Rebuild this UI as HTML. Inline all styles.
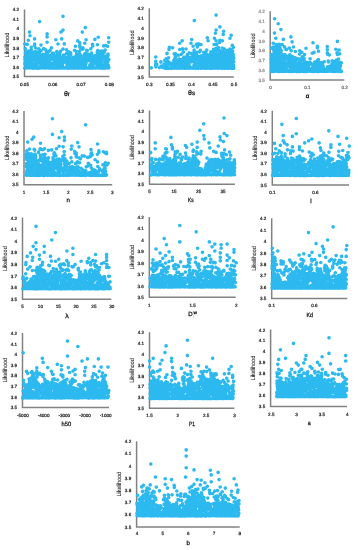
<!DOCTYPE html><html><head><meta charset="utf-8"><title>Likelihood scatter plots</title><style>html,body{margin:0;padding:0;background:#fff;overflow:hidden}svg{display:block}text{font-family:"Liberation Sans",sans-serif;text-rendering:geometricPrecision}</style></head><body><svg width="358" height="550" viewBox="0 0 358 550" font-family="'Liberation Sans', sans-serif"><rect width="100%" height="100%" fill="#fff"/><g><path d="M24.5 9.4V76.5H109.3" stroke="#828282" stroke-width="1.5" fill="none"/><g font-size="4.6" fill="#202020" stroke="#202020" stroke-width=".2" text-anchor="end"><text x="19.1" y="11.4">4.2</text><text x="19.1" y="20.9">4.1</text><text x="19.1" y="30.4">4</text><text x="19.1" y="40">3.9</text><text x="19.1" y="49.5">3.8</text><text x="19.1" y="59.1">3.7</text><text x="19.1" y="68.6">3.6</text><text x="19.1" y="78.2">3.5</text></g><g font-size="4.6" fill="#202020" stroke="#202020" stroke-width=".2" text-anchor="middle"><text x="24.5" y="85.7">0.05</text><text x="52.8" y="85.7">0.06</text><text x="81" y="85.7">0.07</text><text x="109.3" y="85.7">0.08</text></g><text x="66.9" y="95.6" text-anchor="middle" fill="#2a2a2a" stroke="#1a1a1a" stroke-width="0.28" font-size="6.1"><tspan font-size='7'>θ</tspan>r</text><text transform="translate(8.5 45.1) rotate(-90)" text-anchor="middle" fill="#2a2a2a" stroke="#2a2a2a" stroke-width=".1" font-size="6" textLength="24.6" lengthAdjust="spacingAndGlyphs">Likelihood</text><path d="M72.4 64.3h0M90.9 57.5h0M88.3 55h0M74.4 65.4h0M76.4 55.1h0M44.7 59.9h0M92.7 45.9h0M28.9 64.5h0M102.5 56.9h0M62.9 60.6h0M46.6 52.1h0M104.3 66.3h0M105 62.3h0M39.9 54.8h0M104.6 56.8h0M25.2 48.5h0M36.9 54.4h0M37.4 66.6h0M66.6 59.9h0M104.4 59h0M67.1 65h0M81.8 61h0M46.5 62.4h0M49.3 62.7h0M40.2 58.6h0M34.3 52.1h0M50 59.4h0M31.2 55.3h0M80.7 60.6h0M104.9 65h0M83.2 61h0M80 47.3h0M29.6 65.3h0M103.4 51.2h0M51.3 64.9h0M97.8 50.6h0M88.3 56.6h0M90.8 48.8h0M97.4 64.1h0M55.2 55.9h0M85.4 59.3h0M78 64.3h0M26.9 66.5h0M107.9 54h0M61.6 64.4h0M26.6 62.2h0M43.1 54.3h0M70.7 61.2h0M108.1 55.4h0M105.6 45.6h0M46.1 61.3h0M31.3 49.7h0M41 45.1h0M94.8 62.1h0M31.1 62.2h0M38.9 48.9h0M69.7 58.8h0M27.3 44.4h0M30.2 65.5h0M95.9 63.3h0M71.4 60h0M43 55.8h0M106.7 58.5h0M106.2 62.5h0M39.1 61.2h0M80.8 49.2h0M102.7 58.1h0M92.9 59.5h0M25.5 62.3h0M69.7 62.4h0M84.8 53.8h0M66.4 49.8h0M67.7 61.1h0M84.7 62.8h0M41.5 64.4h0M85.2 64h0M58.9 54.2h0M39.7 63.3h0M51.7 58.6h0M42.3 64.4h0M41.2 57h0M72.1 63.7h0M56 61.6h0M30.5 60.7h0M100.5 51.4h0M56.9 65.3h0M82.7 61.7h0M65.7 58.1h0M87.3 58.3h0M44.2 55h0M70.6 52.9h0M97.7 54.6h0M30 53.6h0M77.9 60.5h0M45.7 61.9h0M76.5 61.4h0M44.8 65.8h0M60.5 51.3h0M53.3 65.3h0M71.1 60.9h0M50.7 59.3h0M100.3 55.1h0M55.7 56.6h0M73.6 63h0M89.3 66.7h0M33.2 54.6h0M82 66.7h0M53.3 57.5h0M105.5 64.2h0M101 56.4h0M47.5 54.3h0M71.1 64.7h0M100.1 52.7h0M30.2 61.1h0M75.5 60.8h0M98.5 60.6h0M26.7 56.8h0M69.2 57.9h0M75.7 62.9h0M76.3 64.9h0M30 60.4h0M35.7 48h0M83.1 49.1h0M50.1 50.3h0M40 63.6h0M39.5 52h0M100.5 66.8h0M29.6 59h0M59.8 55.3h0M39 63.1h0M55 64.4h0M89.6 66.7h0M94.5 58.9h0M88.4 59.9h0M88.9 58.4h0M107.3 57.8h0M44 62.1h0M84.2 65.5h0M80.7 55.2h0M48.4 62h0M81.1 66.6h0M30.7 56.4h0M25 62.9h0M92.3 61.9h0M46.6 62.8h0M38.2 53.5h0M48.3 62.2h0M107.7 61.7h0M45.6 49.8h0M68.8 61.5h0M51.1 56.3h0M41.3 60.1h0M107.4 56.7h0M31 63.1h0M64.6 60.2h0M42.6 65.1h0M104.6 59.9h0M31.5 61h0M25.4 62.1h0M64.5 56.6h0M92 63h0M29.2 54.5h0M97.2 65.3h0M96.3 55.6h0M100.3 60.8h0M30.6 60.5h0M79.8 45.6h0M108.6 66.7h0M30.7 62.3h0M29.1 63h0M54.8 56h0M46.7 58.7h0M71.6 64.3h0M55.3 64.6h0M87.3 50.5h0M81.7 59.8h0M41.4 61.4h0M51.7 63.1h0M39.2 56.4h0M57.6 53.9h0M68.6 54.2h0M40.9 59h0M34.2 66.3h0M75.2 65.6h0M72.9 60.9h0M102 51h0M51.5 47.8h0M54.7 57.5h0M30.9 58.4h0M30 60.8h0M102.7 52.8h0M78.3 65.5h0M43.9 60.2h0M61.1 65.9h0M82.6 61.3h0M41 59.4h0M29.3 61.4h0M98.6 66.6h0M105.6 65.3h0M48 57h0M28.7 54.5h0M46.4 52.9h0M32.8 64h0M53.6 59.1h0M48.9 51.6h0M80.8 55.9h0M99.3 63.5h0M70.5 65.9h0M85.4 66h0M43.6 62.2h0M96 56.7h0M59.7 65.6h0M83.2 58.5h0M57.2 64.8h0M77.7 63.7h0M72.3 63.2h0M60.3 63.9h0M56.6 64.3h0M30.2 50.8h0M53.3 64.9h0M66.8 66.6h0M27.8 61.3h0M102.8 53.3h0M77.4 62.7h0M76.9 63.4h0M25.7 64.3h0M52.3 56.1h0M108.1 65.1h0M72.4 60.2h0M52.6 66.2h0M94.3 59.3h0M35.5 55.1h0M90.9 58.7h0M50.2 55.9h0M69.7 53.5h0M24.9 57h0M42.4 61h0M98.8 56.8h0M91.9 58.5h0M101.5 66.4h0M102.2 55.4h0M35 61h0M24.8 63.9h0M90.2 55.1h0M100 57.8h0M108 60.2h0M35.3 57.5h0M32.8 56.1h0M96.3 60.1h0M64.4 61.6h0M38.1 62.4h0M103.7 45.9h0M84.6 55.4h0M74.6 64.9h0M67.3 60.5h0M79.3 51.6h0M76.7 63.7h0M28 63.9h0M98.9 64.3h0M79 57.8h0M66.8 59.5h0M66 60h0M27 66.8h0M99.3 59.1h0M31.2 47.3h0M100.1 57.1h0M29.4 57.6h0M58 58.9h0M76 66.6h0M108.2 65.8h0M70.7 64.1h0M74.5 50.2h0M67 63.6h0M92.7 65.6h0M34.8 64.3h0M95.1 62.9h0M101.4 57.3h0M52.2 56.4h0M40.3 54.9h0M74.4 61.9h0M34.1 60.3h0M36.9 58.6h0M91.6 58.7h0M43.3 61.4h0M72.4 66.1h0M99.7 53.5h0M82.9 47.7h0M27 58.9h0M82.6 49.1h0M29.7 66.7h0M98.4 53.7h0M25.5 52.7h0M53 58.4h0M104.2 52.3h0M69.9 58.7h0M37.9 62.6h0M100.9 54.5h0M89.9 58h0M103.5 65.6h0M78.3 64.3h0M35.8 56.6h0M83.2 66.7h0M26.7 64.3h0M59.3 55.6h0M35.1 56.8h0M34 58.9h0M25 64h0M34.4 45.5h0M63.1 57.3h0M25.8 57.4h0M51.1 58.3h0M89.2 54.5h0M43.3 64.1h0M33.3 52.9h0M82.9 63.7h0M35.4 51.5h0M41.1 50.7h0M85.4 66.9h0M27 51.3h0M92.7 63.3h0M41.9 62.2h0M28.1 53.9h0M26 62.5h0M30 65.3h0M92.5 44.4h0M34.7 44.1h0M32.4 58.5h0M84.1 64.1h0M79.7 54.2h0M108.1 55.5h0M48.8 66h0M88.9 55.3h0M69.4 65.8h0M40.4 57.6h0M106.4 66.4h0M60.4 58.1h0M29.5 59.5h0M49.9 58.7h0M73 57.3h0M98.1 56h0M40.1 57.2h0M28.7 51.7h0M89.9 64.9h0M93.3 60.6h0M76.3 51.5h0M94.3 63.8h0M79.4 57.7h0M33.6 57.6h0M75.4 46.2h0M84.5 54.6h0M90.7 55.3h0M34.2 59.1h0M44.2 65.1h0M78.7 59h0M101 51.6h0M43.7 48.6h0M102.6 56.5h0M91.2 62.1h0M53.9 54.6h0M87.4 61h0M76 64.3h0M30.1 57.7h0M73.4 62h0M26 53.5h0M44.9 60.9h0M69.6 59.7h0M31.9 52.7h0M67.4 61h0M54.4 62.8h0M85 62h0M107 58.6h0M53.7 56.2h0M56.3 56.3h0M55.7 66.1h0M53.5 59.6h0M76 66.5h0M102.5 55.5h0M105.7 58.6h0M30.3 66.4h0M81 56.3h0M91.7 55.7h0M36.9 66.8h0M87.8 54h0M105.2 50.1h0M76.1 55.6h0M44.1 63.7h0M84.4 55.9h0M66.4 62h0M85.9 63.6h0M76.7 54.3h0M97.7 61.8h0M67.8 60.6h0M42.2 57.5h0M27.4 58.5h0M42.6 58.8h0M108.8 59.6h0M41.1 62.4h0M60.1 52.6h0M31.9 59.6h0M41.9 65.3h0M98.2 55.3h0M41.2 59.2h0M81.1 65.5h0M45.5 57.5h0M67.3 66.4h0M75.9 58h0M89.3 58.5h0M56.4 58.7h0M59.9 60.4h0M104.7 65h0M42.8 59.8h0M95.2 62h0M103.3 58h0M71.2 59.3h0M94.5 55.9h0M91.6 53h0M43.2 62.7h0M82.6 48.6h0M68.8 51.8h0M63.6 55h0M31.5 57.2h0M45 63.9h0M35.6 57.7h0M80.2 64.2h0M62.7 57.2h0M50.8 55.5h0M26.6 64.9h0M91.1 54.3h0M107 62.2h0M43.4 55.9h0M105 63.7h0M62.5 63.4h0M41.9 57.5h0M39.7 61.7h0M38.3 52.3h0M44.9 59.9h0M100.3 63.8h0M41.2 57.3h0M35.2 54.4h0M80.7 64.7h0M99.2 63.1h0M101.3 57h0M27 66.6h0M105.4 56h0M69.9 64.3h0M37 58.4h0M67.4 57.4h0M51.8 66.2h0M32.9 64.7h0M81.9 61.9h0M87.1 55.6h0M28.7 51h0M46.9 54.3h0M68.4 60.9h0M90.2 60.4h0M53.7 53.3h0M77.9 56.5h0M95 55.7h0M46.9 57.1h0M34.1 52h0M85 61.6h0M34.9 60.7h0M40.5 66.6h0M26.4 58.8h0M66.4 53.6h0M92.4 59.3h0M54.5 61h0M78.2 61.8h0M104.9 58.2h0M48.1 56.8h0M101.6 62.3h0M29.1 61.3h0M81.1 62.6h0M38.8 62.9h0M37.9 56.4h0M86.6 60.1h0M98.4 59.1h0M96.3 56.4h0M69.9 66.6h0M104.5 64.7h0M82 60.8h0M92 61h0M29.5 57.1h0M29.1 59.9h0M91.9 56.8h0M105.5 61.3h0M35.2 59.7h0M98.3 66h0M58.7 64h0M96.3 63.2h0M86.7 50.2h0M93.6 58.6h0M31.9 58.9h0M39.9 59.2h0M64.5 60.9h0M46.8 61.2h0M85.5 53.3h0M96.6 63.6h0M59.3 66.9h0M38.5 60.2h0M32.9 63.9h0M27.9 56.2h0M41.8 59.8h0M77.6 60.3h0M48.5 62.2h0M92.4 62.5h0M50.2 55.6h0M58.9 58.4h0M44.4 66.1h0M91.3 58h0M28.5 61.7h0M100.5 57h0M54.4 56.8h0M91 65h0M60.3 58.9h0M56.8 51.6h0M58.2 60.9h0M97.2 52.6h0M67.7 66.6h0M61.7 61.2h0M32.1 54.4h0M31.6 65.8h0M25 59.4h0M46.9 56.7h0M49.6 65.4h0M86.7 58.1h0M64.3 43.9h0M95.4 58.9h0M40.2 59.8h0M98.2 60.5h0M71.6 66.1h0M100.1 55.6h0M42.9 65.5h0M33.2 57.1h0M93.6 61.8h0M47.6 51.9h0M61.5 66.1h0M102.1 56.1h0M63.4 62.8h0M41.5 61.5h0M104.8 65.6h0M56 66.5h0M54.1 58.7h0M105 64.8h0M29.4 62.6h0M99.2 56.9h0M35 58.3h0M76.7 62.2h0M98.1 61h0M62.4 65.2h0M61.7 64.8h0M39.7 59.4h0M73.5 59.8h0M41.1 62.6h0M49.7 57h0M70.7 54.4h0M100.3 57.8h0M52.6 56.2h0M26.2 54h0M54.4 65.4h0M38.2 56.4h0M80.3 63.5h0M62.9 49.1h0M52.6 55.6h0M35.7 54.6h0M45 62.6h0M71.9 59.6h0M43.6 57h0M40.4 55.2h0M102.4 59.1h0M63.3 61.6h0M35.5 64.8h0M72.2 58.9h0M94.9 59.6h0M100.9 63.6h0M47.1 65.8h0M93.4 60.4h0M44.9 59.8h0M93.2 63.2h0M39.2 62.2h0M38 52.1h0M69.6 57h0M25.5 52.8h0M85.8 61.2h0M36.4 63.9h0M67.3 66.9h0M38.8 60.2h0M52.3 53.3h0M30.4 66.8h0M37.9 53.8h0M107.6 46.3h0M89.1 57.8h0M84.4 55.5h0M24.8 68h0M25.9 67.8h0M27.1 67.9h0M28.2 67.7h0M29.4 68h0M30.5 67.7h0M31.7 68h0M32.8 68.1h0M34 68h0M35.1 68h0M36.3 68.1h0M37.4 68.1h0M38.6 68.1h0M39.7 68h0M40.9 67.8h0M42 67.8h0M43.2 67.7h0M44.3 68h0M45.5 67.9h0M46.6 67.7h0M47.8 67.8h0M48.9 67.9h0M50.1 67.8h0M51.2 68.1h0M52.4 67.8h0M53.5 67.9h0M54.7 67.9h0M55.8 68.1h0M57 68h0M58.1 67.9h0M59.3 67.9h0M60.4 67.8h0M61.6 67.9h0M62.7 67.9h0M63.9 67.8h0M65 67.9h0M66.2 67.8h0M67.3 67.9h0M68.5 68.1h0M69.6 68h0M70.8 67.9h0M71.9 68h0M73.1 67.9h0M74.2 68.1h0M75.4 67.9h0M76.6 67.8h0M77.7 68.1h0M78.9 67.8h0M80 67.9h0M81.2 67.9h0M82.3 67.9h0M83.5 68.1h0M84.6 68.1h0M85.8 68h0M86.9 68h0M88.1 68h0M89.2 68h0M90.4 67.9h0M91.5 67.9h0M92.7 68h0M93.8 67.8h0M95 67.8h0M96.1 67.9h0M97.3 67.8h0M98.4 67.9h0M99.6 67.8h0M100.7 67.9h0M101.9 68.1h0M103 68.1h0M104.2 68.1h0M105.3 67.9h0M106.5 67.7h0M107.6 68h0M108.8 67.8h0M63 16.3h0M39.6 21.6h0M85.3 27.6h0M63 30.1h0M61 32.1h0M29.5 32.1h0M82.3 32.1h0M47.1 33.9h0M30 35.7h0M47.1 36.9h0M108.7 37.7h0M98.2 37.2h0M94.9 39.4h0M61.7 38.9h0M55.9 39.7h0M86.1 39.7h0M77.8 40.9h0M79.8 42.7h0M108.7 42.2h0M34.6 38.9h0M28.3 40.2h0M47.1 42.2h0M24.7 44h0M58 44h0M97.4 44.7h0M84.8 43.2h0" stroke="#2bb9f0" stroke-width="3.65" stroke-linecap="round" fill="none"/></g><g><path d="M149.3 8.3V76.9H233.8" stroke="#828282" stroke-width="1.5" fill="none"/><g font-size="4.6" fill="#202020" stroke="#202020" stroke-width=".2" text-anchor="end"><text x="143.9" y="10.3">4.2</text><text x="143.9" y="20">4.1</text><text x="143.9" y="29.8">4</text><text x="143.9" y="39.5">3.9</text><text x="143.9" y="49.3">3.8</text><text x="143.9" y="59">3.7</text><text x="143.9" y="68.8">3.6</text><text x="143.9" y="78.6">3.5</text></g><g font-size="4.6" fill="#202020" stroke="#202020" stroke-width=".2" text-anchor="middle"><text x="149.3" y="85.8">0.3</text><text x="170.4" y="85.8">0.35</text><text x="191.5" y="85.8">0.4</text><text x="213" y="85.8">0.45</text><text x="234" y="85.8">0.5</text></g><text x="191.6" y="95.3" text-anchor="middle" fill="#2a2a2a" stroke="#1a1a1a" stroke-width="0.28" font-size="6.1"><tspan font-size='7'>θ</tspan>s</text><text transform="translate(134 42.8) rotate(-90)" text-anchor="middle" fill="#2a2a2a" stroke="#2a2a2a" stroke-width=".1" font-size="6" textLength="24.6" lengthAdjust="spacingAndGlyphs">Likelihood</text><path d="M215.5 54.9h0M195.4 63.9h0M206.4 54.2h0M217.2 64.4h0M214.5 57.5h0M194.1 51.3h0M186.2 66.5h0M216.1 62.2h0M174.3 62.4h0M178.6 66.3h0M222.9 64.3h0M220.3 59.8h0M189.6 66.1h0M182.5 48.9h0M208.4 66.1h0M218.9 56h0M166.7 64.5h0M176.9 64.6h0M209.9 56.5h0M186.9 61.8h0M197.8 45h0M178.3 64.5h0M221.4 57.1h0M218.7 55.3h0M230.2 63.1h0M228.9 52.1h0M222.9 63.9h0M231.6 60.1h0M222 52.2h0M231.4 49.5h0M207.5 61.6h0M155.9 66.8h0M207.1 58.1h0M179.8 66.6h0M212.4 55.5h0M219.9 56.4h0M156.9 64.4h0M165.6 66.3h0M213.9 58h0M210.3 63.2h0M172.9 63.8h0M229 52.5h0M213.1 56.7h0M208.1 63h0M222.3 66.2h0M228.1 52.7h0M190 67h0M211.4 57.2h0M212.7 59.2h0M202.2 59.2h0M191.2 61.8h0M205.1 55h0M174.2 61.9h0M219 63.4h0M173.8 60.6h0M197.6 66.8h0M221.2 64.8h0M187.1 56.2h0M167.3 61.3h0M230.1 61.3h0M215 61.1h0M187.1 58.5h0M213.3 59.5h0M169.3 62.9h0M218.8 64h0M178.8 62.9h0M206.6 59.6h0M200.5 56h0M219.6 58.9h0M225.6 64.1h0M210.9 51.9h0M217.1 62.8h0M210.6 62.6h0M174 63.7h0M180.4 62.1h0M219.4 42.5h0M216 52.3h0M194.5 65.8h0M215.6 66.1h0M221.8 55.8h0M201.9 61.6h0M174.8 61.6h0M219 54.3h0M156.1 64.8h0M230.1 49.1h0M225.1 56.5h0M216.7 56.5h0M232.3 45.4h0M186.6 61.9h0M182.6 65.3h0M194.1 50.1h0M231 56.2h0M229.2 64.9h0M175.2 66.3h0M166.1 58.9h0M194.6 55.3h0M194.6 60.8h0M229.6 50.4h0M196.4 44.3h0M216.9 61.5h0M205.6 62.9h0M212.7 56.2h0M197.8 58.4h0M220.3 63.1h0M204.8 66.9h0M216.9 62.6h0M212.6 62.3h0M223.8 67.1h0M217.2 50.5h0M186.2 56.7h0M198.5 56.8h0M204.4 65.4h0M223.9 59.2h0M225 61.6h0M211.8 57.3h0M209 56.2h0M222.2 60.8h0M219.4 50.6h0M185 64.6h0M222.2 48h0M222.7 54.9h0M224 55.5h0M217.3 57.6h0M203.8 58.5h0M178.3 66.3h0M207.4 65.7h0M205.2 57.6h0M229.9 49.6h0M204.5 54.2h0M218.5 47.6h0M219.8 57.3h0M175.4 64.2h0M186.7 65h0M231.9 60.5h0M177.8 61.4h0M233.7 61.7h0M226.4 53.2h0M208.1 63.9h0M167.7 62.8h0M213 66.8h0M223.1 58.8h0M193.5 55h0M208.2 66.9h0M213.8 66.2h0M168.9 64.1h0M233.4 47.3h0M225.8 64.3h0M202.3 64.8h0M176.8 64.2h0M225.7 62.4h0M194.8 64.6h0M180.2 63.1h0M185.5 58.6h0M214.8 50.9h0M208.4 60.8h0M223.2 53.8h0M219.6 58.1h0M194.6 57.8h0M231.6 52h0M179 60.5h0M183.9 57.4h0M215.2 57.3h0M155.6 65.5h0M214 66.9h0M197.2 66.5h0M222 65.8h0M171.3 65.6h0M167.4 65.8h0M212.5 64.9h0M229.4 61h0M226.2 62h0M226.7 63.6h0M228.3 53.7h0M201.1 59.9h0M219.3 54.4h0M219.2 54.6h0M226.5 66.5h0M217.5 62h0M195 54.4h0M203.6 66.1h0M172.6 47.7h0M214.3 54.1h0M174.9 66.5h0M197.2 62.8h0M210.2 54.5h0M171.2 63.3h0M200.3 50.4h0M204.8 54.7h0M203.4 59.7h0M227.9 61.3h0M221 51.4h0M170.9 63.1h0M229.6 61.4h0M212.2 65.5h0M202.4 65.4h0M195.6 55.3h0M225.5 57.4h0M190 59.6h0M203.1 59.6h0M210.2 57.3h0M219.8 51.9h0M232.4 60.4h0M206.8 50.1h0M173.9 64.1h0M209.9 54.5h0M201.7 61.8h0M189.9 57.8h0M194.5 64.1h0M200 58.4h0M216.6 65.1h0M223.1 53h0M225.8 55.4h0M224.5 49h0M219.3 63.2h0M178.7 60.3h0M195.4 59.7h0M229.8 65.5h0M228.4 55.3h0M226.8 53.4h0M208.1 55.6h0M215 61h0M228.4 66h0M202.8 56.2h0M194.2 64.9h0M215.4 54.1h0M181.2 61.9h0M231.8 52.5h0M198.7 44.7h0M220.4 55.9h0M214.7 62.2h0M216.3 61.1h0M188.9 57.6h0M214.7 56.7h0M215.4 57.5h0M189.1 52.9h0M232.9 62.7h0M195.9 53.3h0M231.8 66.4h0M189.3 60.2h0M164.9 67h0M185.4 61.7h0M196.6 53h0M206.1 62.3h0M225.8 59.3h0M194.3 66.8h0M192.9 59.2h0M193.1 46.2h0M225.3 53h0M184.5 60.8h0M229.4 61.9h0M183.6 65.3h0M212.3 54h0M205.7 52.3h0M187.4 56.6h0M227.2 55.3h0M178.8 59.1h0M207.2 66.6h0M202.1 61.3h0M216.1 48.3h0M188.8 63h0M220.1 66.5h0M217.8 54.1h0M219.8 66.5h0M175.5 53.8h0M181.4 62.7h0M206.9 64.1h0M222.2 53.6h0M216.7 59.6h0M184.8 59.2h0M196 64h0M230.4 63.1h0M183.3 52.1h0M201.5 57.1h0M205 62.8h0M177.3 64h0M211.9 52.4h0M211.8 65.2h0M214.6 55.8h0M218.5 57.1h0M174.9 58.6h0M185.2 58.3h0M216.2 52.8h0M202.8 63.6h0M225.1 57.1h0M168.5 57.8h0M203.9 57h0M169.4 47.3h0M199.5 66.2h0M207.6 56.5h0M198.7 59h0M187.8 55.4h0M200.9 59.7h0M223.7 65.6h0M216.3 48.8h0M192.4 59.7h0M222.5 61.7h0M174.3 53.9h0M181.3 62.3h0M203.7 60.1h0M217.5 59.7h0M227.4 57.3h0M187.8 63.4h0M228.6 65.4h0M195.9 55h0M223.9 55.9h0M217.3 66h0M179.8 61.6h0M210.5 59.3h0M184.1 64.5h0M200.1 64.2h0M207.5 66.1h0M208.8 66.2h0M192.6 60.9h0M192.3 56h0M219.4 60.6h0M192 59.6h0M192.2 58.1h0M227.7 50.3h0M178.6 55.2h0M177.1 60.4h0M209.5 57h0M230.6 65.3h0M182.4 63.1h0M211.3 61.3h0M212.3 55h0M198.8 63.3h0M224.6 58.2h0M187.5 54.5h0M194.9 62.7h0M222.2 55.8h0M224 51.2h0M219.6 62.8h0M216.6 44.4h0M203.7 52.2h0M208.4 57.5h0M230.7 58.2h0M209.5 56.9h0M193.8 60h0M213.6 57.8h0M185.1 65h0M196.7 54.7h0M201.5 58h0M228.7 61.1h0M200.9 62h0M233.8 58.3h0M223.6 58.1h0M213.6 49.4h0M187.5 60.4h0M188.6 62h0M214 63.7h0M201.3 56h0M230.2 61.8h0M231.3 53.1h0M192.8 54.2h0M221 55.8h0M231.8 66.2h0M227.2 62.6h0M156 66.4h0M221.8 53.3h0M219.5 58h0M171.5 66.5h0M221.4 66.7h0M173 66.5h0M177.8 60.4h0M169.1 63.5h0M180.7 59.9h0M172.5 65.1h0M233.3 66.6h0M218.2 63.4h0M176.2 55.6h0M211.3 66.1h0M217.8 58.8h0M228.5 52.7h0M183.3 58.3h0M218.5 62.9h0M224.7 52.3h0M195.6 57.3h0M198 62.6h0M212 59h0M209.8 58.3h0M169 49.4h0M206.5 57.8h0M233 58.9h0M193.7 59.4h0M205.4 66.9h0M233.1 54.1h0M228.8 54.1h0M204 59.4h0M204.7 65.6h0M215.2 62.5h0M233.5 65.4h0M233.3 56.1h0M225.1 56.6h0M195.2 62.9h0M223.7 60.9h0M228.7 66.5h0M193.6 57.9h0M207.1 56.7h0M215.1 67h0M175.4 56.9h0M213.7 61.4h0M214.5 64.8h0M175.5 62.7h0M232.7 54.4h0M204.5 54.6h0M166.7 63.3h0M227 62.5h0M180.9 63.9h0M221.2 55.7h0M205.3 58.1h0M206 64h0M184.3 61.6h0M207 65.5h0M196.8 52.2h0M211.1 65.8h0M206.7 60.7h0M214.1 44.5h0M226 53.9h0M226.2 66.2h0M184.7 65.9h0M189.1 61.5h0M183.1 59.6h0M194 65.2h0M199.6 51.8h0M194.3 56.5h0M222.7 56h0M185.2 65.2h0M218.3 64h0M185.1 64.9h0M226.5 52.2h0M230.9 51.7h0M200.1 58.1h0M198.2 61.1h0M221 58.2h0M212.7 55.5h0M204.6 66.8h0M174.9 66.7h0M181.2 67.1h0M168.2 61.5h0M180.9 65.9h0M231.8 56.9h0M185.7 66.8h0M220.9 55.1h0M202.2 63.7h0M209.1 65.5h0M228.2 57.7h0M178.3 66.6h0M215.7 54.6h0M217.8 56.4h0M194.2 62h0M190.6 58.2h0M212 58.4h0M155.8 63.9h0M232.7 51.2h0M191.4 53.5h0M203 63.4h0M188 60.4h0M177.3 60.4h0M227.1 61.8h0M164.8 60.4h0M232.6 65.8h0M217.2 54.6h0M209.5 64.3h0M210.2 59h0M184.4 58.9h0M219.7 55.8h0M203.1 55.5h0M224 63.8h0M181.3 54.3h0M169.8 63h0M220.2 59.8h0M212.2 61.2h0M219.6 60.1h0M164.8 68.1h0M166 68.2h0M167.1 68.3h0M168.3 68.2h0M169.4 68.2h0M170.6 68h0M171.7 68.3h0M172.9 67.9h0M174 67.9h0M175.2 67.9h0M176.3 68.2h0M177.5 67.9h0M178.6 68.2h0M179.8 67.9h0M180.9 68.2h0M182.1 68h0M183.2 68h0M184.4 68.1h0M185.5 68.2h0M186.7 68h0M187.8 68.2h0M189 68.1h0M190.1 68h0M191.3 67.9h0M192.4 68.1h0M193.6 68.2h0M194.7 68h0M195.9 68.3h0M197 68h0M198.2 68.3h0M199.3 68h0M200.5 68.2h0M201.6 68.1h0M202.8 68h0M203.9 68.1h0M205.1 68.2h0M206.2 68.2h0M207.4 68.1h0M208.5 68.1h0M209.7 68.2h0M210.8 68.2h0M212 68.2h0M213.1 68h0M214.3 68.1h0M215.4 68h0M216.6 68h0M217.7 68.1h0M218.9 67.9h0M220 67.9h0M221.2 67.9h0M222.3 68.3h0M223.5 67.9h0M224.6 68.2h0M225.8 68.1h0M226.9 68.1h0M228.1 68.2h0M229.2 68.2h0M230.4 67.9h0M231.5 68.3h0M232.7 68.3h0M233.8 68.2h0M151.3 67.8h0M160.9 61.8h0M159.5 67.6h0M162.6 67.3h0M161.3 66h0M166.9 53.6h0M164 64h0M216.1 15.1h0M194.3 20.6h0M219.9 26.9h0M216.1 30.1h0M223.7 31.2h0M215.4 33.2h0M223.2 34.4h0M231.2 35.2h0M207.3 37.7h0M214.4 38.2h0M191.7 39.5h0M208.1 40.7h0M182.2 40.7h0M216.1 40.7h0M219.9 40.2h0M179.7 43.2h0M191 43.2h0M198.5 43.7h0M201 44.5h0M222.4 40.7h0M230 38.2h0M197.3 47h0M179.7 49.5h0M186 49h0M167.1 53.3h0M155.8 57h0M155.8 61.3h0M160.8 62.1h0" stroke="#2bb9f0" stroke-width="3.65" stroke-linecap="round" fill="none"/></g><g><path d="M270.2 11.2V80.1H344.3" stroke="#828282" stroke-width="1.5" fill="none"/><g font-size="4.6" fill="#8a8a8a" stroke="#8a8a8a" stroke-width=".2" text-anchor="end"><text x="264.8" y="13.2">4.2</text><text x="264.8" y="23">4.1</text><text x="264.8" y="32.8">4</text><text x="264.8" y="42.6">3.9</text><text x="264.8" y="52.4">3.8</text><text x="264.8" y="62.2">3.7</text><text x="264.8" y="72">3.6</text><text x="264.8" y="81.8">3.5</text></g><g font-size="4.6" fill="#6a6a6a" stroke="#6a6a6a" stroke-width=".2" text-anchor="middle"><text x="270.5" y="89">0</text><text x="307.4" y="89">0.1</text><text x="344.6" y="89">0.2</text></g><text x="307.4" y="98.4" text-anchor="middle" fill="#2a2a2a" stroke="#1a1a1a" stroke-width="0.4" font-size="6.1">α</text><text transform="translate(254.9 45.8) rotate(-90)" text-anchor="middle" fill="#2a2a2a" stroke="#2a2a2a" stroke-width=".1" font-size="6" textLength="24.6" lengthAdjust="spacingAndGlyphs">Likelihood</text><path d="M301.5 69.3h0M314 69.4h0M329.2 54.9h0M293.8 66.5h0M284.8 57.6h0M293.5 63.5h0M273.9 57.3h0M333.5 67.2h0M297.9 64.1h0M276.1 68.9h0M278.6 63.3h0M290.8 61.5h0M282 66.8h0M293.5 69h0M277.2 69.1h0M302.2 69.5h0M294.6 66.7h0M308.6 67.8h0M287 66.4h0M297.3 69.3h0M290.2 66.8h0M291.7 61.2h0M273.1 54.4h0M321.6 66.7h0M280.3 64.7h0M271.7 48.1h0M273.4 65.3h0M278.5 59.8h0M298.2 59h0M308.4 67.5h0M272.2 57.6h0M273.1 47.1h0M298.9 64.5h0M284.1 67.3h0M290.8 60h0M303.2 59h0M317.9 67.9h0M329.3 67.6h0M276.8 48.7h0M284.8 55.6h0M293.2 61.1h0M279.1 44.4h0M335.2 64.9h0M291.8 56.2h0M271.6 65.3h0M281.5 68.2h0M295.4 51.5h0M272.2 63.2h0M322.6 64.6h0M281 55.5h0M339.3 63.1h0M272.7 68h0M304.9 68.6h0M335.8 61.9h0M286.9 65.9h0M271.8 56.4h0M271.9 59.4h0M282.3 54.9h0M272.8 66.7h0M314.1 52.4h0M317.6 60.5h0M301.6 59.1h0M315.8 67h0M276.5 56.5h0M304.6 54.6h0M288.3 59.6h0M277 60.9h0M336.6 60h0M284.9 63.2h0M273.8 69.8h0M292.4 56.5h0M326.2 69h0M314.7 69.1h0M285.3 68.3h0M296.4 67.6h0M312.6 64.6h0M328.5 61.9h0M276.2 61.3h0M303.6 63.5h0M286.3 67.2h0M320 63.4h0M336.8 69.5h0M333.7 64.7h0M288.8 70.2h0M272.7 48.7h0M278 50.3h0M289.2 57.2h0M281.7 61h0M275.5 66.6h0M279 60.4h0M305.5 66.3h0M331.7 66.2h0M273.2 43.2h0M291.2 50.7h0M295.9 64.7h0M323.2 66.6h0M314.8 62.1h0M275.4 50.1h0M308.2 66.5h0M285 56.1h0M305.9 66h0M274.3 58.9h0M327.7 66.9h0M337 52.7h0M283.2 64.2h0M281.2 57.9h0M308 64h0M280.7 58.6h0M317.4 63.5h0M283.3 55.5h0M274.7 65.4h0M284.8 57.9h0M279.9 53.1h0M276.9 54.1h0M282.9 69.2h0M275.8 59.3h0M297 58.6h0M276.5 57.7h0M277.6 64h0M299.4 69.2h0M287.7 66.5h0M271.7 68.4h0M289.3 48.1h0M304 60.7h0M333.8 65.7h0M290.1 61.1h0M278 63.3h0M333.1 66.9h0M337.2 61.9h0M275.6 51.8h0M305.3 68.7h0M336.2 68.5h0M331.2 67.4h0M293.4 66.3h0M305.3 66.2h0M293.2 68.1h0M340.1 62.2h0M314.3 67.6h0M281.6 60.2h0M279.1 67.4h0M307.3 62.2h0M337.7 62.9h0M274.6 65.9h0M317.8 66.3h0M271.5 54.5h0M296.5 63.7h0M302.2 56.9h0M337.2 69.3h0M272.4 69h0M295.1 57.9h0M317 69h0M299.4 59h0M279.3 60.5h0M308.8 69.9h0M285.6 65.6h0M284.4 70h0M277.9 51h0M318.8 69.6h0M336.7 65.7h0M284.6 60.4h0M281 51.9h0M293.8 64h0M288 56.5h0M276.8 70h0M274.8 55.8h0M317.4 46.4h0M286 66.2h0M302.8 64.8h0M298.4 59h0M301 69.8h0M305.2 62.3h0M279.2 48.8h0M332.1 60.8h0M341.2 62.9h0M285.3 58.1h0M332 68.7h0M278.8 55.8h0M306.3 67.6h0M295.7 60.1h0M274 65.2h0M290.2 57.5h0M289 59.5h0M274.5 51.3h0M306.7 67.6h0M275.5 54h0M313.3 67.2h0M330.2 67.8h0M308.2 66h0M289.8 54.8h0M284.6 60.2h0M272.8 59.3h0M334.3 67.6h0M285.8 55.9h0M328.2 61.1h0M273.6 67.7h0M298.9 62.6h0M327.8 68.8h0M282.9 64h0M276 68.7h0M271.3 59.5h0M306.2 64.7h0M291.1 57h0M278.7 66.8h0M319 62.1h0M276.2 59.1h0M335.9 69.5h0M275.3 60.1h0M306.6 70.1h0M277.6 51.5h0M310.1 63.1h0M276 60.2h0M319.8 70h0M277.2 61.4h0M319.6 64.8h0M275 68.6h0M276.9 54.6h0M280.7 64.1h0M335.5 64h0M318.8 64.2h0M324.2 61.7h0M316.3 68.9h0M277.2 57.9h0M295.4 62.2h0M307.7 65.2h0M290.2 66.3h0M317.3 68.9h0M275.3 62.2h0M301.6 66.2h0M318.4 59.5h0M279.5 61.2h0M336.5 68.5h0M274.1 60.8h0M304.2 61.1h0M283.6 59.3h0M314 68.1h0M278 70.1h0M276.6 69.2h0M298.7 67.8h0M283.8 61.7h0M286.2 68.1h0M334.1 68h0M311.1 68.7h0M284.8 54.6h0M304 60.6h0M337.3 65.4h0M292.1 68.5h0M309.4 64.6h0M297.7 67.7h0M277.1 54.8h0M277.6 69.3h0M289.4 63.8h0M279.5 63h0M278.8 68.9h0M289.7 57.9h0M301.3 60.3h0M285.6 68.1h0M280.1 68.9h0M272.7 58.8h0M278.3 51.1h0M295.1 58.9h0M277.9 57h0M339.8 68.8h0M316.4 67.7h0M279.5 51.4h0M320.5 70.2h0M281.7 57.1h0M340.5 65.9h0M297 67.7h0M304.6 63.4h0M321 67.4h0M290.6 64.1h0M335.8 49.2h0M303.8 69.8h0M327.5 68.1h0M310.1 58.8h0M319.2 66.8h0M284 58.3h0M321.3 69.7h0M339.7 65.5h0M312 64h0M339.8 53.8h0M279.2 61.7h0M296.2 67h0M273.8 50.5h0M335.4 65.9h0M297.9 66.9h0M339.7 68.7h0M285.3 69.3h0M283.3 70.1h0M295 65.4h0M305.9 69.3h0M280.9 52.7h0M285.9 67.1h0M321.5 67.7h0M340.7 63.1h0M293.3 69h0M289.3 65h0M287.5 64.5h0M317.4 47.7h0M280.9 58.8h0M285.6 59h0M334 61.4h0M331.5 69.7h0M301.8 52.2h0M281.5 59.4h0M276.2 44.6h0M296.5 58.7h0M317.4 60.5h0M340.2 64.6h0M320.7 66.2h0M292 61h0M276.6 53.4h0M280.7 57.7h0M276.2 55.2h0M284.5 69.1h0M330.2 70h0M281.1 50.3h0M286 49.6h0M339.1 62.8h0M289.1 55.7h0M309.3 69.6h0M329.6 66.3h0M327.7 68.1h0M286.5 65.5h0M283 58.8h0M304.1 58.3h0M288.3 61.9h0M278 52.1h0M288.5 57.2h0M278.4 60.3h0M299.2 65.3h0M285.2 66.3h0M276.4 58.4h0M306.9 64.2h0M280.2 49h0M283.7 55.5h0M278.5 46.9h0M305.4 64.2h0M316.7 61.6h0M338.5 59h0M291.3 58.5h0M278.7 55.1h0M302.1 68.8h0M324.2 68.8h0M321 65.2h0M278 57.4h0M301.8 67.4h0M326.2 69.2h0M312.6 67.4h0M276.2 45.5h0M290.7 62.1h0M275.5 61h0M339.9 65.3h0M282.8 55h0M298 67.6h0M282.9 55h0M277.2 56.1h0M303.6 59.7h0M300.5 62.3h0M274 61.8h0M272.9 47.6h0M273.9 54.8h0M291.3 69.1h0M284.4 46.9h0M298.1 70.2h0M332.2 69.1h0M291.9 64.1h0M283.4 65.2h0M327.4 68.2h0M300.9 68.3h0M287.1 62.7h0M274.2 56.8h0M289.4 57.8h0M271.8 62.4h0M279.8 47.3h0M301.9 69h0M290.5 68.3h0M332.2 67.2h0M277.2 60h0M281.9 55.6h0M276.7 53.2h0M315.2 67.7h0M297.5 59.3h0M334.1 66.1h0M278.8 50.3h0M338 68.9h0M334 68.4h0M273 59.9h0M310.2 62.5h0M302.5 66.1h0M297.4 66.3h0M292.3 70.3h0M338.6 68.4h0M275.9 69.4h0M283.9 69.5h0M320.3 66.7h0M288.7 62.2h0M274.1 51.6h0M279.6 64.8h0M275.6 47.5h0M327.6 54.2h0M301 69.3h0M315.1 64.7h0M285 56.8h0M331.9 64h0M279.3 61.1h0M282.6 69.4h0M300.8 64.9h0M293.6 57.2h0M286.5 49.4h0M299.6 54.1h0M308.6 68.7h0M284.4 62.3h0M314.7 66.3h0M288.2 56.4h0M321.8 62.6h0M321.3 68.1h0M271.3 71.3h0M272.4 71.3h0M273.6 71.4h0M274.7 71.2h0M275.9 71.1h0M277 71.1h0M278.2 71.3h0M279.3 71.4h0M280.5 71.2h0M281.6 71.4h0M282.8 71.2h0M283.9 71.4h0M285.1 71.2h0M286.2 71.1h0M287.4 71.2h0M288.5 71.4h0M289.7 71.2h0M290.8 71.4h0M292 71.3h0M293.1 71.3h0M294.3 71.1h0M295.4 71.1h0M296.6 71.4h0M297.7 71.4h0M298.9 71.3h0M300 71.4h0M301.2 71.1h0M302.3 71.2h0M303.5 71.4h0M304.6 71.3h0M305.8 71.4h0M306.9 71.3h0M308.1 71.1h0M309.2 71.1h0M310.4 71.1h0M311.5 71.2h0M312.7 71.4h0M313.8 71.3h0M315 71.2h0M316.1 71.2h0M317.3 71.4h0M318.4 71.4h0M319.6 71.1h0M320.7 71.2h0M321.9 71.1h0M323 71.3h0M324.2 71.3h0M325.3 71.1h0M326.5 71.3h0M327.6 71.2h0M328.8 71.1h0M329.9 71.1h0M331.1 71.2h0M332.2 71.2h0M333.4 71.4h0M334.5 71.3h0M335.7 71.3h0M336.8 71.1h0M338 71.1h0M339.1 71.4h0M340.3 71.3h0M341.4 71.4h0M274.6 18.7h0M278.2 23.7h0M280.9 29.6h0M274.5 33.1h0M290.9 36.9h0M283.3 39.4h0M275.8 38.2h0M292.1 41.9h0M313 42.7h0M337.4 41.4h0M282.1 44.5h0M293.4 47h0M306 48.2h0M327.3 46.5h0M327.3 49.5h0M339.1 50h0M318.5 51.2h0M327.3 52.7h0M312.2 53.2h0M337.4 54.5h0M299.7 50.7h0" stroke="#2bb9f0" stroke-width="3.65" stroke-linecap="round" fill="none"/></g><g><path d="M24 110.9V184.8H112.2" stroke="#828282" stroke-width="1.5" fill="none"/><g font-size="4.6" fill="#202020" stroke="#202020" stroke-width=".2" text-anchor="end"><text x="18.6" y="112.9">4.2</text><text x="18.6" y="123.4">4.1</text><text x="18.6" y="133.9">4</text><text x="18.6" y="144.4">3.9</text><text x="18.6" y="154.9">3.8</text><text x="18.6" y="165.4">3.7</text><text x="18.6" y="175.9">3.6</text><text x="18.6" y="186.4">3.5</text></g><g font-size="4.6" fill="#202020" stroke="#202020" stroke-width=".2" text-anchor="middle"><text x="24" y="193.5">1</text><text x="46.1" y="193.5">1.5</text><text x="68.2" y="193.5">2</text><text x="90.3" y="193.5">2.5</text><text x="112.4" y="193.5">3</text></g><text x="68.2" y="202" text-anchor="middle" fill="#2a2a2a" stroke="#1a1a1a" stroke-width="0.28" font-size="6.1">n</text><text transform="translate(8.7 148) rotate(-90)" text-anchor="middle" fill="#2a2a2a" stroke="#2a2a2a" stroke-width=".1" font-size="6" textLength="24.6" lengthAdjust="spacingAndGlyphs">Likelihood</text><path d="M35.8 168.6h0M83.2 173.3h0M48.2 166.9h0M101.6 170.6h0M29.2 157h0M76.2 163.6h0M33.2 157.3h0M49.9 170.1h0M53.1 173.1h0M52.9 163.9h0M40.3 158.9h0M94.4 171.6h0M98.3 171.9h0M26.2 156.8h0M38.8 165.5h0M45 170.9h0M51.5 163.1h0M94.2 172.9h0M96.6 171.2h0M71.9 161.8h0M35.5 155.2h0M36.2 162.3h0M74.9 153.6h0M66.6 161.1h0M78.4 170.6h0M39.4 168.9h0M46 158.2h0M93.4 171.5h0M50.3 168.6h0M77.6 173.8h0M81.8 171.7h0M50.2 163.4h0M59.1 172.6h0M37.5 170.9h0M29.5 159h0M59.9 171.7h0M52.5 163.7h0M71.3 169.6h0M64.8 170.5h0M42.3 174h0M54.8 154.1h0M80.5 174.1h0M28.5 159.7h0M85.1 170.6h0M85.3 173.4h0M77 162.8h0M28.7 160.8h0M104.7 168h0M105.3 153h0M72.8 172.7h0M46.4 170.1h0M30 168h0M70.6 170.1h0M66.5 163.5h0M50 165.3h0M36.7 168.4h0M51 163.4h0M68.6 171.5h0M57.5 160.5h0M26.3 159.3h0M48.3 172.6h0M38.9 164h0M80.4 158.8h0M85.3 173.9h0M38.3 163.8h0M76.5 167.5h0M44.7 160.8h0M29.2 159.2h0M77.3 162.7h0M30.5 163.4h0M29.7 170h0M47.8 168.1h0M56.8 168.1h0M57.1 163.2h0M32.2 172h0M88.3 174.1h0M33.6 155.2h0M39.7 160.5h0M34.2 149.4h0M104.6 170h0M60.7 169.9h0M50.2 162.6h0M48.2 164.3h0M34.5 174.1h0M63.6 170.8h0M68.1 173.2h0M97.5 172.7h0M59.2 159.1h0M87.5 157.3h0M105.4 171.3h0M68.3 170.1h0M60.6 159.7h0M35.9 166.6h0M55.9 155.8h0M40.8 173.6h0M28.5 153.6h0M46.7 162h0M92.2 171h0M76.8 171.6h0M55.2 172.9h0M49.1 167.1h0M52.4 165.1h0M37.3 171.7h0M78.9 172.6h0M64.2 151.6h0M29.4 149.1h0M35.7 165.7h0M40.2 149.5h0M42.5 164.9h0M53.1 160.8h0M65.9 170.1h0M59.2 167.7h0M53.6 167h0M63.4 170.2h0M51.8 166.4h0M98.2 172.2h0M42.1 173.5h0M105.1 168.4h0M36.2 173h0M54.3 168.3h0M34.7 173.1h0M57 162.2h0M72.8 172h0M40.2 148.7h0M34 159.9h0M54.6 174.2h0M49 165.4h0M59.3 169.2h0M57.7 173h0M65 158.9h0M52.6 171h0M27.2 158.1h0M48.5 170h0M76.2 153.1h0M44 160h0M31.7 160.3h0M31.3 153.9h0M52.1 165.5h0M36 160.6h0M48.5 157.8h0M93.9 169.8h0M50 172h0M36 171h0M26.5 157.7h0M49.5 166.3h0M56.7 167.5h0M76.8 168h0M81.1 168.3h0M46.1 158.8h0M62.8 156.5h0M41.8 171.9h0M53.9 154.3h0M90.3 172.9h0M92.1 155.1h0M64.2 155h0M52.3 165.1h0M33.7 166.1h0M59.6 161.1h0M46.3 166.9h0M35.7 157.4h0M59.6 160h0M28.7 157.5h0M61.5 160.7h0M43.8 168h0M82.2 155.8h0M41.9 158.7h0M56.3 161.1h0M36 165h0M31.9 162.9h0M45.9 172.5h0M35.3 158.9h0M36.8 168.2h0M72 168.9h0M31.6 164.7h0M99.6 168.9h0M49.4 165.9h0M37.8 164.9h0M47.1 173.8h0M28.7 165.1h0M50.8 171.7h0M106.3 152.5h0M64.5 161.7h0M79.6 162.7h0M90.6 165.2h0M82.5 171.5h0M102.4 170.8h0M93.2 170.9h0M46.2 164.9h0M88.3 157.5h0M29.9 160.7h0M103.1 173.4h0M53.7 172h0M99.6 169.6h0M77.5 161.7h0M50.6 162.9h0M77.3 173.6h0M97.4 154.3h0M69.3 172.6h0M42.6 158.7h0M29.7 161.2h0M48.8 167.1h0M43.4 162.7h0M53.9 169.5h0M104.5 165.4h0M87.8 166h0M54.8 174h0M67.7 172.9h0M41.8 166.6h0M62.9 159.3h0M29.1 163.2h0M26.5 164.8h0M42.3 171.8h0M48.8 164.1h0M70.5 171.4h0M44.8 157.6h0M59.3 168h0M91 172.3h0M26.8 150.9h0M61.5 170.2h0M39 160.4h0M57.5 160.2h0M74 174.1h0M82.7 169.7h0M29.5 173.2h0M94.5 172.1h0M42.8 168.9h0M92.8 170.7h0M91.3 168h0M71.2 149.2h0M44.6 162.6h0M34 172.9h0M31.6 165.4h0M31.5 159.7h0M40.5 156.3h0M63.4 172.2h0M72.3 166.5h0M67.1 171.9h0M79.7 173.5h0M85.5 172.6h0M76.4 174.1h0M68.9 171h0M101.9 170.9h0M51.5 163.3h0M77.1 170h0M104.1 168.9h0M73.2 169.2h0M54.8 165.4h0M28.5 163.1h0M42.4 166.2h0M47.6 162.2h0M33.5 174.1h0M59 164.1h0M38.9 173.4h0M97.8 166.5h0M54.6 166.1h0M36.2 171.8h0M29.9 171.8h0M57.3 168.4h0M95.1 172.1h0M51.7 149.9h0M28.5 173.7h0M50.4 168.2h0M98.9 152.5h0M27 169.7h0M40.5 155.2h0M95.1 159.7h0M26.8 163.3h0M33.4 172h0M30.2 172h0M32.8 165.9h0M79.5 171.8h0M32.7 169.3h0M86.3 166.8h0M32.8 164h0M26.3 166.4h0M60.3 163.1h0M69.7 167.1h0M63.9 160.8h0M60.5 166.3h0M36.4 170.1h0M61.4 167.7h0M69.2 169.3h0M41.9 159.8h0M42.8 161.7h0M106.6 153.7h0M67.5 170.3h0M47.8 160.6h0M27.1 169.7h0M61.2 167.9h0M105.5 173.2h0M29.7 156.3h0M30 156.2h0M58.2 165.1h0M49.6 163h0M71.1 173.6h0M92.6 170.2h0M59 173.7h0M56.9 164.9h0M97 172.9h0M45.5 172.4h0M35.4 158.3h0M41.1 159.2h0M72.7 170.9h0M89.2 172.8h0M49.7 169.9h0M86.7 173.4h0M60.8 166.5h0M48.7 162.2h0M44.6 148.7h0M45.1 170.6h0M28.9 153.9h0M33.3 163.2h0M45 154.3h0M30 169.3h0M50.2 174h0M64.5 164.3h0M49.7 163.3h0M54.1 173.8h0M72.7 173.4h0M28.1 155.4h0M93 171.2h0M47 162.6h0M57.5 160.7h0M35.4 172.4h0M36.8 163h0M77.7 171.4h0M69.8 170.8h0M54.6 160.3h0M63.4 170.1h0M31.5 171.9h0M82.6 170.5h0M106.9 165h0M47.2 170.6h0M65.7 169.4h0M73.6 169.4h0M45.6 161.2h0M69.9 168.9h0M39.7 171.1h0M65.2 160.6h0M36.3 167.3h0M50.5 166.3h0M75.1 168h0M103.1 171.1h0M30.7 156.5h0M52.1 168.4h0M29.6 172.6h0M106.4 152.3h0M44.2 163.3h0M103.8 172.8h0M42.2 168.6h0M39.6 165.7h0M30.8 159.9h0M65.5 163h0M69 173.6h0M51.2 171.3h0M55 167.5h0M54.9 174.2h0M45 160.4h0M29.6 164h0M65.6 168.7h0M60.7 166.4h0M74.6 174.1h0M53.1 161.7h0M29.1 169.3h0M60.4 163h0M94.9 170.5h0M58.1 161.9h0M70.9 168.8h0M40.8 171.6h0M28.8 163.9h0M60.8 164.1h0M58.3 161.5h0M76.3 156.9h0M33.4 163.7h0M30.2 168.3h0M103.1 170.3h0M38.8 173.4h0M54.3 152.8h0M66.1 170.6h0M70.7 170.7h0M34.7 150.2h0M60.1 166.1h0M91.6 152.8h0M66.9 161.2h0M31 168.7h0M54 162.9h0M27.6 171.9h0M26.6 166.2h0M32.9 162.7h0M103.4 151.7h0M91.5 173.8h0M74.8 172.5h0M44 166.5h0M74.7 151.6h0M34.7 154.2h0M52.8 165.9h0M68.2 171h0M28.5 160.5h0M41.3 165.8h0M68.9 172h0M43.6 171.8h0M34.9 166.6h0M105.3 162.9h0M72.5 173.4h0M75.5 163.5h0M38.5 152.4h0M65 164.6h0M29.4 159.3h0M71.6 170.5h0M26.2 154h0M58.5 172.7h0M59.3 166.4h0M27.5 173.3h0M58.1 173.4h0M55.7 165h0M43.3 161.6h0M52.2 171.6h0M58.3 162.2h0M95.1 170.3h0M83.5 171.4h0M77.1 168.5h0M53.2 159.4h0M69.1 163.6h0M104.4 171.7h0M52.5 173.8h0M78 166.7h0M26.1 155h0M45.6 164.6h0M53 157.5h0M41.4 168.7h0M39 168.1h0M80.5 172.2h0M42.6 154.9h0M53 165.4h0M94.3 171.6h0M54.5 168.4h0M40 172.8h0M85.9 171h0M58.1 170.4h0M34.9 154.1h0M48.6 172.5h0M62.3 169.3h0M77.5 169h0M66.6 166.5h0M86.5 174.2h0M80.4 174.2h0M52.5 168.4h0M43.7 172.4h0M64.2 174.2h0M64.7 167.4h0M74.7 171h0M41.3 168.8h0M52.3 164.9h0M75.1 167.3h0M84.3 156.1h0M29 167.8h0M64.2 168.8h0M26.6 172.4h0M43 149.7h0M57 159.3h0M26 175h0M27.1 175.3h0M28.3 175h0M29.4 175.2h0M30.6 175.2h0M31.7 175.2h0M32.9 175.2h0M34 175.4h0M35.2 175.1h0M36.3 175.3h0M37.5 175.1h0M38.6 175.3h0M39.8 175.3h0M40.9 175.1h0M42.1 175.2h0M43.2 175.4h0M44.4 175.4h0M45.5 175.1h0M46.7 175h0M47.8 175.3h0M49 175h0M50.1 175.3h0M51.3 175.1h0M52.4 175.4h0M53.6 175h0M54.7 175.3h0M55.9 175h0M57 175.3h0M58.2 175.2h0M59.3 175.3h0M60.5 175.3h0M61.6 175.1h0M62.8 175.1h0M63.9 175.4h0M65.1 175.1h0M66.2 175.1h0M67.4 175.3h0M68.5 175h0M69.7 175.3h0M70.8 175h0M72 175.2h0M73.1 175h0M74.3 175.2h0M75.5 175.1h0M76.6 175.1h0M77.8 175.1h0M78.9 175.1h0M80.1 175.3h0M81.2 175.1h0M82.4 175.3h0M83.5 175h0M84.7 175.4h0M85.8 175.3h0M87 175h0M88.1 175h0M89.3 175.2h0M90.4 175.2h0M91.6 175.3h0M92.7 175.2h0M93.9 175.2h0M95 175.1h0M96.2 175.4h0M97.3 175.2h0M98.5 175.4h0M99.6 175.2h0M100.8 175.3h0M101.9 175.1h0M103.1 175.4h0M104.2 175.2h0M105.4 175.2h0M106.5 175.1h0M52.4 118.7h0M85.6 124.8h0M52.4 134.4h0M61.7 131.6h0M59.1 137.7h0M64.4 137.1h0M64.4 140.4h0M33.8 137.1h0M32 139.3h0M27.7 142.1h0M97.6 144h0M77.7 142.6h0M40.5 143.2h0M71.8 146h0M63.1 146.8h0M59.1 146.2h0M79 146.8h0M56.4 148.7h0M40.5 148.7h0M48.4 150.4h0M91 149.5h0M98.9 150.9h0M91 153.7h0M90.4 156.4h0M76.3 155h0M71 157.8h0M79 157.8h0M108.2 163.3h0M102.9 164.7h0M97.6 161.9h0M88.3 163.3h0" stroke="#2bb9f0" stroke-width="3.65" stroke-linecap="round" fill="none"/></g><g><path d="M149.5 110.5V184.2H234.9" stroke="#828282" stroke-width="1.5" fill="none"/><g font-size="4.6" fill="#202020" stroke="#202020" stroke-width=".2" text-anchor="end"><text x="144.1" y="112.5">4.2</text><text x="144.1" y="122.9">4.1</text><text x="144.1" y="133.4">4</text><text x="144.1" y="143.9">3.9</text><text x="144.1" y="154.4">3.8</text><text x="144.1" y="164.9">3.7</text><text x="144.1" y="175.4">3.6</text><text x="144.1" y="185.9">3.5</text></g><g font-size="4.6" fill="#202020" stroke="#202020" stroke-width=".2" text-anchor="middle"><text x="149.5" y="192.7">5</text><text x="174" y="192.7">15</text><text x="198.6" y="192.7">25</text><text x="223.1" y="192.7">35</text></g><text transform="translate(190.9 201.5) scale(0.78 1)" text-anchor="middle" fill="#2a2a2a" stroke="#1a1a1a" stroke-width="0.28" font-size="6.1">Ks</text><text transform="translate(134.2 147.5) rotate(-90)" text-anchor="middle" fill="#2a2a2a" stroke="#2a2a2a" stroke-width=".1" font-size="6" textLength="24.6" lengthAdjust="spacingAndGlyphs">Likelihood</text><path d="M219.9 164.4h0M209.1 172.9h0M166 167.7h0M192.7 171.1h0M207.2 167.9h0M170.7 171.2h0M177.1 166.9h0M220 166.9h0M188.4 162.5h0M170.6 161.6h0M212.1 164h0M164.7 173.5h0M226.8 170h0M208.8 162.9h0M178.1 171.7h0M233.4 173.6h0M153.7 170.9h0M231.7 165.8h0M222.7 162.9h0M152.5 169.7h0M213.4 170.1h0M159.4 159.1h0M212 166.4h0M169.3 164.9h0M226.5 169.1h0M151.9 171.3h0M233.3 168.6h0M189.6 168.6h0M218.3 173.4h0M234.1 169h0M175.8 166.3h0M193.4 169.3h0M167 152.3h0M222.2 163.1h0M192.7 165.7h0M197 169.1h0M196.8 164.4h0M155 166.4h0M208.2 165.6h0M175.2 151.8h0M185.5 171.7h0M211.2 170.2h0M167.8 164.3h0M161.7 168.1h0M188.4 171.8h0M222.9 156.2h0M229.2 166.7h0M167.7 173.6h0M202.3 172.4h0M172.7 172.3h0M224.7 165.5h0M163.3 158.3h0M194.9 172.2h0M174.8 157h0M172 168.7h0M232.6 171.5h0M214.3 162.6h0M161.6 167.2h0M200.8 154.1h0M173.9 165h0M181.4 167.4h0M228.5 173h0M228.5 165.6h0M214.1 167.4h0M200.4 170.4h0M188.6 169.2h0M174.8 161.4h0M228.1 168.5h0M208.7 172.5h0M151.5 166.7h0M161.7 159.4h0M224.4 153.7h0M191.8 165.6h0M184.7 170.1h0M198.8 162.3h0M227.3 167.2h0M186.1 166.2h0M214.4 166.1h0M190.6 169.1h0M153.8 171.7h0M182.6 173h0M169.7 158.5h0M167 165.1h0M216.9 165.5h0M217.3 163.3h0M173.8 164.1h0M160.8 172.1h0M233.8 163.7h0M163.6 156.9h0M180.9 165.7h0M153.9 168.2h0M187.9 163.3h0M224.3 172.7h0M219.1 162.7h0M216.4 167.1h0M179.5 173.1h0M229.9 158.8h0M210.1 163.3h0M185 163.9h0M192.4 160.8h0M159 164.2h0M209 164.5h0M163.4 173.5h0M191.7 165.4h0M233.2 171.7h0M198 169.6h0M181.5 159.1h0M151.3 166.5h0M206.7 172.6h0M184.6 165.6h0M188.2 161.8h0M183.9 164.1h0M171.5 168.9h0M187.6 167.6h0M182.4 169h0M178 164.6h0M222.2 163.6h0M166 157.4h0M191.7 169.7h0M234.3 159.9h0M174.9 154.8h0M225.5 172.6h0M199.9 172.1h0M181 166.7h0M221.8 165.7h0M186.2 168.5h0M189.1 158h0M208.2 164.9h0M156.8 167.5h0M228.9 165.9h0M184.5 164.7h0M211.6 170h0M175 166.9h0M226.1 169.2h0M166.2 164.7h0M158.7 168.7h0M192.8 163.2h0M180.1 154.3h0M223.4 158.1h0M220.9 168.5h0M170.6 164.8h0M155.2 172.4h0M197.4 160.7h0M180.1 167.8h0M165.5 165h0M197.9 164.6h0M188.5 170.3h0M182.9 165.6h0M216.1 170.9h0M229.8 170.3h0M214.5 169.2h0M197.9 171.9h0M170.9 169.6h0M172.1 162.3h0M208.7 167h0M223.2 162.8h0M224.7 168.6h0M231.8 163h0M228.4 168.9h0M206.7 165.9h0M195.1 168.7h0M224.7 172.5h0M171 160.7h0M211.8 166.7h0M176.6 169.1h0M198 153.4h0M185.2 163.7h0M166.4 149h0M201.2 168.7h0M174.3 167.9h0M229.4 170.5h0M190.9 165h0M234.7 167.8h0M169.3 172.9h0M151.8 164.4h0M196.5 164.6h0M174.9 156.5h0M227.9 168.3h0M166.5 172.8h0M191.3 163.2h0M191.4 168.7h0M224.1 164.3h0M230.1 172.2h0M175.6 170.3h0M175.1 165.2h0M187.5 171.9h0M173.9 169.5h0M179.5 165.6h0M173.9 166.1h0M211.9 169.7h0M232.9 169.7h0M163.1 159.7h0M182.5 157.1h0M233.2 169.1h0M221.7 163.7h0M174.3 171.5h0M227.3 167.1h0M209.3 168.5h0M208.7 162h0M214.7 173.2h0M227.8 171.7h0M173.4 161.1h0M213 173.2h0M160 170.7h0M232.8 166.5h0M176.3 167.1h0M204.2 173.3h0M173.7 160.1h0M171 164.7h0M195.6 160.6h0M162.4 168.5h0M175.7 165.8h0M177.8 169.7h0M156.4 169.9h0M197.8 163.4h0M175.7 171.1h0M219.9 160.7h0M227 166.6h0M176.8 152.3h0M172.8 165.9h0M220 166.3h0M218.9 167.4h0M219.1 171.7h0M207.7 171.6h0M222.3 157h0M171.4 167h0M230.6 164.3h0M217.5 167.3h0M231 169.8h0M214.7 160.6h0M203.3 171.4h0M160 171.8h0M193 151.5h0M165 167h0M178.9 173.1h0M173 171.1h0M220.3 169.3h0M167.4 168h0M174.9 162.4h0M209.5 164.3h0M166.4 162.4h0M191 171.4h0M201.6 173.3h0M234.4 161.1h0M185.8 171.4h0M186.3 172.5h0M195.7 163.7h0M157.4 167.7h0M234.6 163.6h0M181.8 173.2h0M209.8 168.9h0M206.6 173.6h0M159.9 163.7h0M225.2 171.6h0M185.7 158.6h0M151.1 164h0M217 167.2h0M187.4 163.6h0M222.2 153.2h0M207.6 167.9h0M158.8 159.8h0M187 164.3h0M194.4 169.8h0M211.5 167h0M176.5 169.2h0M192.5 163.2h0M231.6 172.7h0M169.3 170.1h0M166.5 158.5h0M187.7 172h0M166 170.9h0M228.5 166.4h0M213.8 164.5h0M232.3 166.9h0M177.7 171.9h0M188.4 171.3h0M161.4 169.8h0M187.8 163.5h0M226.4 167.4h0M194.7 168.5h0M224.4 163.4h0M198 167.7h0M176.3 170.3h0M194.6 164.1h0M209.9 160.1h0M219.9 173.6h0M183.5 168.4h0M163.6 163.7h0M191.4 169.6h0M174 159.4h0M170.9 169.7h0M226.9 167.6h0M195.8 171.3h0M184.5 172.7h0M222.6 163.2h0M208.2 166.5h0M213.7 151.4h0M209.4 163.1h0M223 166h0M151.4 160.1h0M199.1 168.5h0M182.4 169.8h0M172.4 148.9h0M196 165.1h0M195.1 162.1h0M173.6 165.2h0M175.1 161.4h0M234.4 164.7h0M232.9 170.4h0M222 155.4h0M219.7 173.7h0M175 161.1h0M163.9 168h0M168.1 164.7h0M159.1 162.4h0M163.9 171.8h0M208.2 171.6h0M224.4 171.1h0M156.5 163.7h0M225.6 169.4h0M234.4 171.6h0M158.5 169.1h0M211.6 170h0M190.1 168.7h0M171.7 165h0M206.1 165.4h0M160.8 170h0M224.7 172.6h0M224.5 164.4h0M151.8 165.1h0M176.4 172.8h0M159 165.1h0M219.2 165.4h0M225.2 173.5h0M207.1 165.9h0M179 163h0M224.4 160h0M183.2 171.9h0M170.7 166.1h0M175.2 173h0M223.2 163.7h0M175.5 161.6h0M164.3 169.5h0M165.3 164.6h0M180.2 170.5h0M154.2 171.1h0M187.4 162.5h0M168.9 171.9h0M224.6 149.9h0M175.7 165.9h0M228 167h0M157.3 168.5h0M187.7 169.2h0M225.3 163.5h0M157 168.8h0M217.2 166.6h0M164.9 156.5h0M208.3 166.5h0M181.1 169.3h0M173.8 170.8h0M224.4 162.9h0M191.9 160h0M163 166.5h0M166.7 169.3h0M196.3 159.9h0M171.3 167h0M195.9 172.6h0M176 169.2h0M165.4 163.7h0M214.9 170.4h0M191.9 172.2h0M213 170.6h0M174 162.2h0M152.5 166.2h0M176.9 151.8h0M194.9 165.7h0M174.9 163.7h0M188.7 173.3h0M213.1 169h0M162.9 156.4h0M229.7 162.4h0M230.8 163.4h0M183.5 169.5h0M172.8 166.1h0M199.4 172.7h0M192.6 162.4h0M184.6 168.5h0M178.4 172.3h0M205.7 170.5h0M154.8 171.9h0M228.9 170h0M151.9 168h0M161.7 164.3h0M227 163.7h0M173.7 168.9h0M210.1 161.8h0M183.3 167.3h0M216.5 171.9h0M207 158.1h0M184.3 168.1h0M178.3 163.9h0M168.9 162.6h0M194.3 156.6h0M153.2 162.5h0M212.6 162.9h0M172.9 164.1h0M196.6 151.7h0M175.6 159.6h0M196 165.1h0M225.4 164.7h0M224.6 171.2h0M192.6 164.6h0M209.8 164.8h0M181.8 167.8h0M217.9 161.4h0M164 165.4h0M192.5 163.1h0M194.4 160.8h0M207.5 166.7h0M205.3 168.2h0M223.1 162.9h0M223.4 164.5h0M198.2 164h0M191 162.7h0M191.6 163.9h0M215.9 165.5h0M211.9 170.6h0M226.5 154.7h0M197.5 173.3h0M202.4 170.6h0M165.1 153.6h0M206.4 169.7h0M219.5 167.4h0M175.2 162.4h0M208.8 161.7h0M214.9 159.4h0M219.9 173.4h0M166.1 170.2h0M180.6 162.9h0M227.1 167.6h0M234.1 170.4h0M225.1 170.9h0M186 156.1h0M159.3 171.9h0M222.8 157.2h0M216.6 161.1h0M199.4 173.5h0M214.5 171.9h0M163 166.3h0M206.4 164.1h0M188.6 161.7h0M210.9 168.4h0M155.6 159.4h0M189.3 164.9h0M160.6 170.7h0M181.3 159.9h0M231.4 169.5h0M182.4 170.2h0M214.5 169.7h0M198.3 169h0M169.2 166.2h0M151.6 168h0M193.3 155.8h0M179.1 164.8h0M214.9 164.8h0M188.5 162.5h0M190.9 171.9h0M187.9 169.2h0M221.4 161.1h0M203.9 171.3h0M230.7 155.2h0M159.5 170.7h0M207.4 169.1h0M195.5 160.8h0M170.3 168.7h0M223.9 166.4h0M151.9 158.5h0M173.5 167.5h0M170.6 160.8h0M229.7 166h0M198.3 172.1h0M154.7 168.3h0M225 165.6h0M173.3 172h0M188.7 159.2h0M196.9 154.2h0M215.5 165.1h0M186.8 166.3h0M180.7 171.7h0M192.9 158.2h0M196.1 160.9h0M211.8 159.6h0M185.6 153h0M160.5 165.8h0M192 169h0M177.7 170.7h0M219.8 172.6h0M221.3 162.3h0M209.8 165.4h0M217.6 166.1h0M174.1 171h0M216.1 152.4h0M213.9 166.6h0M192.3 161.8h0M197.3 172.6h0M197.8 161.3h0M221.6 153.2h0M218 159.4h0M160.1 159h0M190 165.8h0M179.8 165.9h0M156.5 164.9h0M184.5 167.1h0M227.2 169.8h0M196.7 161.5h0M194.5 170.1h0M222.4 162.9h0M183.5 168.5h0M228.3 162.8h0M159 169h0M190.9 164.5h0M167.8 160.3h0M166.9 164.7h0M181.2 158.6h0M188 170.7h0M170 171.8h0M227.3 159.8h0M233.1 168.8h0M215.6 163.4h0M173.3 160.6h0M151.6 169.2h0M227.5 172.3h0M195.5 158.1h0M223.5 159.2h0M162.1 159.5h0M212 165.8h0M157 164.5h0M233.3 162.7h0M169.6 166.9h0M193.2 167h0M221.7 155.5h0M178.2 157.2h0M193.5 170.8h0M227.9 163.7h0M165.6 152.9h0M162.3 172.8h0M212.5 169.9h0M166 161.9h0M225.3 162.8h0M173.4 170.9h0M167.6 171.8h0M217.8 164.9h0M172.6 171.8h0M150.5 174.8h0M151.7 174.8h0M152.8 174.5h0M154 174.5h0M155.1 174.6h0M156.3 174.6h0M157.4 174.7h0M158.6 174.7h0M159.7 174.6h0M160.9 174.5h0M162 174.5h0M163.2 174.5h0M164.3 174.8h0M165.5 174.7h0M166.6 174.6h0M167.8 174.5h0M168.9 174.8h0M170.1 174.7h0M171.2 174.8h0M172.4 174.7h0M173.5 174.7h0M174.7 174.8h0M175.8 174.6h0M177 174.8h0M178.1 174.5h0M179.3 174.7h0M180.4 174.6h0M181.6 174.6h0M182.7 174.5h0M183.9 174.8h0M185 174.8h0M186.2 174.5h0M187.3 174.6h0M188.5 174.6h0M189.6 174.5h0M190.8 174.8h0M191.9 174.6h0M193.1 174.5h0M194.2 174.6h0M195.4 174.7h0M196.5 174.8h0M197.7 174.7h0M198.8 174.7h0M200 174.6h0M201.1 174.8h0M202.3 174.7h0M203.4 174.7h0M204.6 174.7h0M205.7 174.8h0M206.9 174.6h0M208 174.6h0M209.2 174.6h0M210.3 174.5h0M211.5 174.8h0M212.6 174.5h0M213.8 174.7h0M214.9 174.5h0M216.1 174.8h0M217.2 174.7h0M218.4 174.5h0M219.5 174.6h0M220.7 174.5h0M221.8 174.7h0M223 174.8h0M224.1 174.6h0M225.3 174.8h0M226.4 174.6h0M227.6 174.7h0M228.7 174.6h0M229.9 174.8h0M231 174.8h0M232.2 174.7h0M233.3 174.5h0M234.5 174.7h0M224 118h0M203.7 123.8h0M199.8 130.3h0M224.2 133.5h0M226.9 135.6h0M203.8 135.6h0M170.9 137.4h0M220 136.9h0M204.3 139h0M220.3 140h0M223.4 141.6h0M155.2 142.9h0M197.2 142.1h0M191.9 144.2h0M209 142.9h0M171.5 144.8h0M185.4 145.5h0M218.2 146.1h0M209.8 147.9h0M155.2 148.7h0M165.7 148.7h0M172.3 147.4h0M186.7 147.4h0M197.2 147.4h0M150.7 152.6h0M229.5 152.1h0M193.3 150h0M201.1 151.3h0M177.5 151.3h0" stroke="#2bb9f0" stroke-width="3.65" stroke-linecap="round" fill="none"/></g><g><path d="M272.3 110.7V184.9H349.1" stroke="#828282" stroke-width="1.5" fill="none"/><g font-size="4.6" fill="#202020" stroke="#202020" stroke-width=".2" text-anchor="end"><text x="266.9" y="112.7">4.2</text><text x="266.9" y="123.2">4.1</text><text x="266.9" y="133.8">4</text><text x="266.9" y="144.3">3.9</text><text x="266.9" y="154.9">3.8</text><text x="266.9" y="165.4">3.7</text><text x="266.9" y="176">3.6</text><text x="266.9" y="186.6">3.5</text></g><g font-size="4.6" fill="#202020" stroke="#202020" stroke-width=".2" text-anchor="middle"><text x="272.4" y="194">0.1</text><text x="315.4" y="194">0.6</text></g><text x="310.9" y="203" text-anchor="middle" fill="#2a2a2a" stroke="#1a1a1a" stroke-width="0.28" font-size="6.1">l</text><text transform="translate(257 147.9) rotate(-90)" text-anchor="middle" fill="#2a2a2a" stroke="#2a2a2a" stroke-width=".1" font-size="6" textLength="24.6" lengthAdjust="spacingAndGlyphs">Likelihood</text><path d="M311.9 153.4h0M308.2 164.3h0M333.9 172.8h0M278.5 165.2h0M345 169.9h0M279.1 160.2h0M290.5 153.4h0M276.6 173.9h0M319.1 164.6h0M333 169.2h0M273.8 165.7h0M284.7 161.6h0M299 163.3h0M288.9 166.8h0M338.6 167.2h0M346.8 158.3h0M316.4 170.1h0M345.9 168.8h0M315.1 171.1h0M292.9 158.9h0M298.2 165.1h0M276.1 161.9h0M280.2 162.7h0M276.7 156.9h0M287.4 158.5h0M345.3 168.1h0M338.3 161.6h0M299.2 162.6h0M317.7 173.4h0M346 174.2h0M321.4 163.3h0M334.5 171.7h0M343.3 166.2h0M315.5 165.5h0M275.8 170.1h0M325.5 162.1h0M326.3 164.5h0M322.2 168.5h0M280.9 168.8h0M340.4 168.8h0M285.8 174.1h0M279 160h0M315.2 171.9h0M274.6 168.8h0M276.2 158.9h0M337.1 163.8h0M285.7 174.1h0M329.3 167h0M333.6 167.4h0M280.1 161.3h0M325.5 171.3h0M286.9 170.9h0M342.4 158.5h0M301.9 170.4h0M308.8 164.2h0M284.9 163.9h0M287 161.5h0M331.2 172.8h0M282.7 172.1h0M298.8 163h0M283 160.1h0M305 168.5h0M272.9 154h0M327.8 160.2h0M345.7 166.1h0M277.6 163.3h0M332.7 159.3h0M322.3 162.4h0M282.4 164.4h0M285 166.4h0M322 155.5h0M288.7 164.3h0M284.9 173.6h0M345.1 165.4h0M287.7 167h0M329.4 167.2h0M282.9 159.3h0M326 171.8h0M325.8 171.3h0M307.2 172.5h0M281.7 172.6h0M290.6 163.7h0M336.7 166.3h0M287.7 162.3h0M340.8 157.3h0M281.7 160.2h0M310.2 166.5h0M328.3 160.5h0M328.9 162.3h0M336.7 169.4h0M279.7 160.4h0M342.2 167.6h0M333.4 168.3h0M326.1 171.2h0M338.2 168.4h0M331.4 167h0M283.8 160.6h0M320.6 170.4h0M333.1 170.2h0M341.8 166.2h0M280.5 170.2h0M328.5 174.1h0M277.7 173.7h0M299.7 169.7h0M313.3 154.7h0M315.7 168.1h0M292.1 167.2h0M309.6 164.7h0M273.7 160.7h0M326.7 173.4h0M323.7 159.5h0M285.3 162.5h0M332 172.5h0M276 174.2h0M310.5 161.1h0M348.9 170.2h0M295.4 165.8h0M343.6 167.5h0M277.4 168.9h0M337 170.5h0M326 163.7h0M346.3 163.5h0M303.2 172.8h0M318.6 169h0M345 165.8h0M286.1 164.7h0M288.7 171.6h0M296.4 171.7h0M323 169.3h0M301.8 167.8h0M311.2 156.4h0M299.3 160.7h0M331.5 171.6h0M281.7 164.3h0M339 168.1h0M275.6 171.2h0M290 173.3h0M304.5 173h0M306 167.4h0M274.5 166.1h0M301.7 166.7h0M338.5 155.7h0M323.8 153h0M316.8 171.4h0M346.6 166.9h0M285.1 164.2h0M345.8 173.5h0M302.7 160h0M298.4 162.3h0M275.8 162.5h0M308.7 171.2h0M305.3 172.9h0M340.8 167.9h0M340.3 174.2h0M299.5 168.8h0M290.3 172.9h0M280.2 157.5h0M275.5 169.2h0M343.3 162.7h0M329.1 166h0M344.3 160.3h0M288.2 171.3h0M337.5 167.5h0M322.9 162.2h0M337.7 165.1h0M323.8 172.8h0M320.6 160.8h0M287.5 149.8h0M299.3 170.5h0M287.6 168.5h0M286.5 160.6h0M290.1 171.8h0M316.8 173.7h0M281.5 163.2h0M277.6 170.6h0M328.8 163.1h0M291.9 160.7h0M342.5 166.7h0M292.3 168h0M288.1 171h0M297.2 157.4h0M285.8 173.8h0M338.3 164.6h0M297.7 172.7h0M335.7 169.6h0M324.4 164.4h0M282.9 165.5h0M339.8 168.1h0M280.3 165h0M313.6 167.3h0M275.2 169.6h0M322.7 158.8h0M325.9 171.3h0M347.7 170.7h0M308.7 162.6h0M273.6 173.5h0M285.3 168.7h0M312.4 161.6h0M331.9 165.6h0M317.4 161.8h0M348.8 173h0M273.5 159.5h0M306.9 170.7h0M318.4 166.6h0M281.4 166.4h0M325.5 172.9h0M283.4 171.2h0M320.4 167.6h0M340.9 162.6h0M297 169.3h0M299.5 156h0M321.5 168.8h0M276.8 167.2h0M338.3 166.6h0M275.5 160.9h0M279.1 167.9h0M342.5 167.3h0M333.3 165.1h0M291.5 168.4h0M329.3 166.9h0M344.8 162.5h0M342.6 172.4h0M328.8 163.2h0M303.2 171.4h0M329.7 170.2h0M274.9 173.4h0M337.4 165.4h0M305 159.5h0M303 165.9h0M283.5 169.2h0M297.3 164h0M301.3 168.8h0M281.5 152.7h0M331.5 168.7h0M318.4 168h0M293.4 163.9h0M298.8 167.6h0M280.6 162.3h0M324.2 167.7h0M278.4 174.1h0M328.8 157.7h0M334.3 171.2h0M335.2 170.4h0M299.9 165.2h0M345.1 167.7h0M322.6 170.6h0M281.8 160.9h0M300.6 164.4h0M300.1 157.5h0M296.8 169.4h0M284.8 170h0M279.9 165.2h0M291.9 165.5h0M274.9 163.3h0M280 170.5h0M346.3 166.3h0M301.6 159.8h0M343.9 173.7h0M335.4 165.2h0M288.5 160.8h0M281.4 165.4h0M331.9 165h0M311.6 166.4h0M306.1 172.3h0M315.1 173.2h0M289.5 164.3h0M343.1 166.1h0M301.4 158.5h0M343.9 165.8h0M302.6 166.9h0M273.2 168.1h0M324.5 163.9h0M321.8 167.2h0M297 171.7h0M321.7 157.8h0M300.4 165h0M325.5 170.2h0M292.3 164h0M330.2 164.6h0M283.8 164.2h0M286.9 163.2h0M330.8 170.5h0M346.4 174.3h0M327.7 163.8h0M316 163.1h0M339.3 170.7h0M296.2 160.3h0M302.8 171.9h0M317.7 166.6h0M297.5 169.9h0M321.7 165.9h0M300.2 160.7h0M282.3 173.8h0M344 172.8h0M325.2 169.2h0M298.7 162.3h0M278.2 165h0M297.7 168.4h0M282.3 174h0M302.2 170h0M295.6 172.1h0M326.7 155.7h0M290.4 168.1h0M284.1 165.5h0M287 172.6h0M327.5 170h0M273.9 161h0M314.4 173.8h0M290.3 161.8h0M338.2 165.5h0M273 164.4h0M273.2 167.3h0M342.5 173.8h0M318.4 172h0M312 171.6h0M289 161.1h0M320.8 168.9h0M301.5 163.3h0M318.8 162.4h0M335.8 166.6h0M278.7 160.3h0M339.1 166.3h0M278.3 170.5h0M281.7 174.1h0M317.1 173.9h0M338.7 170.2h0M276.4 171h0M279.8 158.3h0M279.2 160.7h0M285.1 153.8h0M320.4 168.2h0M283 170.3h0M302.9 160.7h0M286.8 162.7h0M315.1 171.4h0M322.3 157.8h0M323.3 160.8h0M348.4 172.4h0M318.6 173.2h0M294.1 171h0M335.2 164.5h0M337.1 172.2h0M275.2 164h0M325 166.3h0M331.7 158.7h0M301.9 165.5h0M347.8 159.6h0M302.5 151h0M329.9 169.1h0M291.4 158h0M304.3 167.1h0M311.7 166.1h0M278.3 174.2h0M274 171.6h0M293.2 169.1h0M324.5 170.1h0M307.6 169.6h0M280.8 169.1h0M298 173.6h0M303.8 160.5h0M281.3 156.1h0M308.9 162.8h0M329.1 167.8h0M317.8 166.9h0M337 174.2h0M293 166.3h0M315 172.6h0M345 172.1h0M290.8 150.7h0M320.1 164.9h0M316.1 164.7h0M342.7 158.1h0M283.3 173h0M293 169.6h0M340.6 163.9h0M321.4 163.9h0M319.9 165.4h0M342 165.3h0M290.4 165.4h0M344.7 170.5h0M277.8 153.3h0M289.6 163h0M277.7 166.2h0M308.5 168.2h0M321.1 160.6h0M323.7 171.8h0M279.2 163h0M324.3 162.2h0M329.1 167.6h0M302.6 167.6h0M288.5 161.9h0M342.1 169.7h0M331.3 172.1h0M293.9 166.9h0M345.8 160.4h0M323.4 172.4h0M274.9 173.6h0M311.2 164.4h0M298.3 158.6h0M334.7 169.1h0M329 165.5h0M277.7 157.8h0M275.4 172.5h0M301.4 169.2h0M341.9 169.3h0M293.4 173h0M299.3 167.3h0M315.6 161h0M283.5 161h0M309.5 171.2h0M343.6 162.7h0M310.7 161.8h0M332.8 167.4h0M294.7 160.3h0M313.9 165.6h0M292.7 171.1h0M330.9 169.1h0M321.7 160h0M285.1 156.2h0M281.2 165.3h0M297.8 162.4h0M328.6 168.5h0M283.4 163.8h0M301.5 159.6h0M328.6 172.3h0M286.8 166h0M343.6 161h0M337.4 161.7h0M277.2 161h0M329 152.3h0M326.6 163.4h0M298.9 173.2h0M311.6 163.9h0M320.3 156.4h0M325.4 166.4h0M283.6 168.7h0M344.7 170.4h0M342.2 165.1h0M328.3 172.8h0M330.6 160.6h0M331.4 171.6h0M348.9 157.8h0M315.3 173.9h0M342.3 172.3h0M294.7 167.6h0M343.8 170.2h0M304.3 164.3h0M321.5 169.1h0M338.7 168.4h0M320.6 168.6h0M333.4 163.8h0M315 166.3h0M348.4 156.2h0M346.8 171.8h0M334.9 163.7h0M322.9 173.5h0M317.3 165.1h0M311.5 174h0M342.3 165h0M276.6 170.5h0M315.7 173.1h0M279.3 150.7h0M319.1 159.3h0M321.2 170.8h0M337 169.8h0M298.2 171h0M289.3 163.9h0M277.4 167h0M282.7 158.7h0M299.3 161.1h0M302 173.1h0M273.4 172.4h0M340.1 164.8h0M339.9 162.2h0M340.3 161.7h0M328.3 164.7h0M296.3 171.4h0M331.2 159h0M320.9 170.8h0M292.6 171.1h0M310 168.6h0M311.7 162.5h0M343.5 169.3h0M342.7 150.5h0M297.6 168.7h0M346.4 155.5h0M333.4 164.4h0M310.7 156.1h0M276.6 167.5h0M338.2 164h0M280.7 167.5h0M314.1 165.1h0M317.8 158.1h0M279.7 165h0M278.8 170.8h0M322.4 166.2h0M333.7 168.4h0M306.2 165h0M290.8 168h0M345 162.1h0M341.2 167.4h0M333.3 169.8h0M338.4 165.9h0M327.1 172.7h0M305 165h0M335.6 168.7h0M340.6 172.3h0M308.3 169.1h0M314.4 159h0M321.5 173.5h0M315.7 169.3h0M310.5 159.9h0M293.4 164.1h0M294.1 162.8h0M318.1 168.6h0M292.8 164.6h0M327.7 163.1h0M326.3 170.3h0M322 168.2h0M283 172.2h0M323.1 159.5h0M279.3 158.5h0M315.4 168.8h0M305.7 167h0M340.1 165.5h0M282.3 166.7h0M332.6 173.6h0M309.8 166.2h0M341.7 166.8h0M341.2 163.1h0M346.6 167.2h0M345.1 167.5h0M285.6 167.6h0M339.3 165.2h0M292.9 171.6h0M314.4 164h0M291.4 170.6h0M317.8 173.8h0M287.1 163.6h0M329.5 172.4h0M332.1 172.8h0M312 167.1h0M293.6 173.5h0M324.6 169.5h0M276.2 162.4h0M293.7 173.8h0M320 170.5h0M324.3 162h0M303.6 158.9h0M306.8 172h0M298.7 167.5h0M317.8 168.4h0M318.9 164.8h0M297.2 166.2h0M318.7 163.2h0M293.6 172.1h0M321.2 156.4h0M324.9 155.6h0M331.9 173.8h0M325.2 165.8h0M323.8 172.1h0M336.2 164.3h0M328 172.4h0M293.1 151.1h0M320.2 160.9h0M313.3 168.3h0M297.2 171h0M316.6 171.8h0M272.9 160.1h0M310.5 165.3h0M343.1 163h0M272.5 175.3h0M273.6 175.3h0M274.8 175.4h0M275.9 175.3h0M277.1 175.3h0M278.2 175.2h0M279.4 175.2h0M280.5 175.5h0M281.7 175.1h0M282.8 175.3h0M284 175.2h0M285.1 175.1h0M286.3 175.3h0M287.4 175.1h0M288.6 175.2h0M289.7 175.4h0M290.9 175.3h0M292 175.1h0M293.2 175.2h0M294.3 175.4h0M295.5 175.4h0M296.6 175.3h0M297.8 175.2h0M298.9 175.4h0M300.1 175.4h0M301.2 175.3h0M302.4 175.3h0M303.5 175.4h0M304.7 175.4h0M305.8 175.5h0M307 175.4h0M308.1 175.2h0M309.3 175.3h0M310.4 175.3h0M311.6 175.3h0M312.7 175.2h0M313.9 175.1h0M315 175.5h0M316.2 175.3h0M317.3 175.5h0M318.5 175.5h0M319.6 175.4h0M320.8 175.2h0M321.9 175.4h0M323.1 175.5h0M324.2 175.4h0M325.4 175.1h0M326.5 175.1h0M327.7 175.2h0M328.8 175.2h0M330 175.5h0M331.1 175.3h0M332.3 175.1h0M333.4 175.1h0M334.6 175.3h0M335.7 175.2h0M336.9 175.3h0M338 175.1h0M339.2 175.3h0M340.3 175.3h0M341.5 175.4h0M342.6 175.2h0M343.8 175.4h0M344.9 175.2h0M346.1 175.4h0M347.2 175.2h0M348.4 175.4h0M296.3 118.5h0M281.9 124.3h0M328.8 130.8h0M296.3 133.7h0M283.2 135.6h0M292.4 136.4h0M338 136.4h0M346.7 138.2h0M311.8 139h0M308.6 140.8h0M283.2 140.8h0M304.7 142.9h0M319.1 142.9h0M274.5 143.4h0M284.5 142.9h0M339.6 144.2h0M330.9 144.8h0M349.3 146.1h0M280.3 145.3h0M287.1 144.8h0M292.4 146.9h0M299.4 146.9h0M330.9 147.4h0M320.4 147.9h0M275.8 148.7h0M299.4 149.5h0M338.8 151.3h0M321 150.5h0M274.5 153.2h0M309.2 152.1h0M348 152.6h0" stroke="#2bb9f0" stroke-width="3.65" stroke-linecap="round" fill="none"/></g><g><path d="M22.5 217.5V299.3H111.3" stroke="#828282" stroke-width="1.5" fill="none"/><g font-size="4.6" fill="#202020" stroke="#202020" stroke-width=".2" text-anchor="end"><text x="17.1" y="219.5">4.2</text><text x="17.1" y="231.1">4.1</text><text x="17.1" y="242.7">4</text><text x="17.1" y="254.4">3.9</text><text x="17.1" y="266">3.8</text><text x="17.1" y="277.7">3.7</text><text x="17.1" y="289.3">3.6</text><text x="17.1" y="301">3.5</text></g><g font-size="4.6" fill="#202020" stroke="#202020" stroke-width=".2" text-anchor="middle"><text x="22.5" y="307.7">5</text><text x="40.4" y="307.7">10</text><text x="58.2" y="307.7">15</text><text x="76.1" y="307.7">20</text><text x="93.9" y="307.7">25</text><text x="111.8" y="307.7">30</text></g><text transform="translate(67 317.7) scale(1.15 1)" text-anchor="middle" fill="#2a2a2a" stroke="#1a1a1a" stroke-width="0.28" font-size="6.1">λ</text><text transform="translate(7.2 258.6) rotate(-90)" text-anchor="middle" fill="#2a2a2a" stroke="#2a2a2a" stroke-width=".1" font-size="6" textLength="24.6" lengthAdjust="spacingAndGlyphs">Likelihood</text><path d="M58.2 286.7h0M55.4 277.9h0M90.5 270.4h0M39.8 267.8h0M106.9 264.6h0M99 270h0M85.5 286.8h0M23.2 277.1h0M45.2 280.7h0M38.3 279.1h0M25.4 279.2h0M29.5 281.9h0M98.9 279.9h0M62.4 286.6h0M49.6 278.3h0M68.7 280.6h0M36.1 280.4h0M52.5 279.9h0M85.8 277.5h0M70.1 277.9h0M24.8 285.4h0M43.2 274h0M56.3 281.9h0M92.5 284.1h0M57.8 272.7h0M108.6 282.8h0M97.7 267.8h0M87.7 286.6h0M91 285h0M36.3 277.9h0M52.8 285.5h0M36.4 286.3h0M39.3 276.9h0M99.5 282h0M81.1 286.2h0M31.1 279.1h0M104.6 279.2h0M95.5 261h0M81.8 281.4h0M42.2 283h0M42.2 269.7h0M45.3 278.3h0M67.7 284h0M57.4 285.4h0M101.4 263.7h0M24.2 279.8h0M79.3 278.6h0M60.7 268.1h0M65.1 278h0M75.3 285.2h0M82.7 286.4h0M52.2 278.6h0M67 284.2h0M39.6 281.6h0M53.3 268.6h0M58.3 287.3h0M55.9 285.3h0M44.3 273.7h0M81.2 279.7h0M35 285.8h0M77.5 283.2h0M100.1 282.8h0M99.4 285.6h0M25.3 284.4h0M96.2 286.2h0M51.4 286.9h0M81.5 278.6h0M26 262.6h0M108.3 285.1h0M39.3 284.8h0M25.3 282.8h0M34.9 280.7h0M92.7 278.8h0M97.9 272.4h0M45.2 274.5h0M35 281.2h0M38.1 278.5h0M100 281.3h0M95.3 266.3h0M29.3 286.8h0M72.5 283h0M92.5 281h0M94 275h0M82.9 282.7h0M85.3 270.8h0M53.7 276.8h0M78.8 279.8h0M78.8 282.4h0M61.5 282.1h0M56.2 278.7h0M108.7 276.3h0M36.8 272.3h0M42.6 262.3h0M109.4 276.2h0M33.4 276.9h0M69.9 281.2h0M36.5 278.3h0M70.9 282.1h0M26.8 284.8h0M30 283h0M62.8 282.7h0M35.6 276.6h0M36.6 287.4h0M60.1 277.7h0M91 279.7h0M42 276.3h0M45.2 274h0M105.3 285.8h0M90.2 287.5h0M78.1 283h0M98.3 286.9h0M82 278h0M94.1 272.6h0M35.9 284.7h0M53 279.5h0M44.3 284.3h0M59.9 276.7h0M101.8 281h0M47.5 284.6h0M54.9 280.7h0M83.9 277.4h0M55.6 261.2h0M98.9 277.6h0M48.6 278.3h0M65 280.9h0M78.2 285.5h0M87.8 274.8h0M42.5 279.1h0M48.2 279.6h0M83.6 279.7h0M70.4 284.7h0M64.3 278.1h0M43.7 278.5h0M78.3 268.4h0M61.3 287h0M91.5 281h0M40.1 280.7h0M80.9 283.5h0M59.1 287h0M41.6 286h0M97.4 286.6h0M101.8 286.2h0M70.2 280.9h0M103.5 279.4h0M95.1 270.4h0M46.8 276.3h0M66.5 275.4h0M70.6 278.8h0M67.4 269.2h0M42.2 280.4h0M86.8 287.4h0M44.3 279.7h0M94.5 280.1h0M54.3 282h0M84.9 287.5h0M26 286.7h0M43.5 283.3h0M28 285.3h0M78.1 282.6h0M85.2 274.4h0M54.9 280.1h0M45.3 287h0M91.3 269.8h0M73.1 266.9h0M35.7 286.7h0M98 274.7h0M59.9 273.4h0M85.6 281.6h0M64.9 278.8h0M44.9 278.3h0M88.4 278.2h0M101.4 277.3h0M49.9 284.8h0M91.9 276.5h0M96.5 265.9h0M45.3 279h0M50.4 273.2h0M50.1 283.3h0M82.8 275.1h0M56.6 269.4h0M56.3 271.4h0M36.4 277.4h0M40.5 277.1h0M69.4 277.7h0M53.9 284.7h0M38.2 283.4h0M32.1 282.4h0M86 285.3h0M85.3 273.3h0M81.1 261.2h0M57.5 284.9h0M62 280.7h0M98.1 272.7h0M26 284.7h0M64.6 277.3h0M57.2 275.5h0M42 272.6h0M74.4 286.3h0M24.6 287h0M46.6 283.1h0M60.9 287.1h0M26.1 283.3h0M38.6 270.2h0M35.8 270.4h0M63 284.7h0M90.2 285.5h0M57.2 279.1h0M64.1 282.4h0M57.7 282.3h0M43.8 270.4h0M80.8 285h0M44.5 283.2h0M42.6 276.7h0M45.5 281.6h0M62.8 282.8h0M102.7 287h0M76.4 282h0M34.2 286h0M75.9 286.7h0M48.2 274.9h0M54.5 276.6h0M31.2 280.6h0M84.5 278.8h0M79.4 276.2h0M38.9 282h0M64.6 283.6h0M79.3 273.7h0M89.6 280h0M70.2 283h0M88.6 278.2h0M87.5 284.2h0M84.5 282.6h0M62.8 283.9h0M92.5 284.9h0M97.5 273.7h0M42.5 284.1h0M105.4 283.6h0M63.6 263.9h0M59.5 273h0M73.4 279.7h0M65.4 283.6h0M37.5 273.2h0M56.1 277.5h0M46.9 286.7h0M27.1 285.9h0M52.2 282.6h0M69.6 277.7h0M57.6 282.9h0M92 278.6h0M70.3 279.7h0M101 286.7h0M60.9 280.2h0M68.7 270.5h0M41.7 269.5h0M71.9 282.8h0M99.6 277.2h0M44.1 277.8h0M76 281.3h0M68.6 283h0M73.1 286.7h0M48.9 277.6h0M89.9 277.5h0M27.4 285.3h0M80.2 274.7h0M56.9 284.6h0M80.6 286.8h0M97.7 275.4h0M54.1 274.1h0M93.5 272.4h0M57.7 276.6h0M73.6 286.4h0M59.5 274.1h0M78.3 270h0M103.2 284.8h0M88.8 275.8h0M25.7 273.8h0M53.4 280.4h0M71.4 280.9h0M25.4 284.5h0M36 282.1h0M29.6 285.7h0M86.1 279.2h0M43.4 284.7h0M34.9 282.9h0M104.5 281.4h0M31.7 286h0M55.7 283.9h0M92.3 285.5h0M107.2 287.3h0M59.5 272.7h0M91.6 278.8h0M24.7 279.8h0M61.8 283.1h0M76.1 281.1h0M89.7 282.5h0M69.6 274.4h0M42.6 277h0M37.9 272.9h0M87.2 261.5h0M68 286.1h0M36.9 276.5h0M62.2 287.6h0M30 286.4h0M38.7 268.6h0M26 284.8h0M41.6 280h0M79.2 282.2h0M63.1 275.4h0M100 280.9h0M90.6 262.5h0M98.9 281.1h0M99.6 275.6h0M50.4 284.8h0M97.4 274.8h0M105.9 281.9h0M35.6 283.7h0M41.7 279.4h0M66.3 286.5h0M81.7 280.7h0M105 280.4h0M32.3 260.5h0M91.6 287h0M80 281.1h0M27.7 283.1h0M64.9 284.8h0M27.7 269.1h0M79.9 274.8h0M64.6 264.7h0M58.2 278.8h0M75.3 283.2h0M43.6 272.6h0M51.1 276.3h0M80.8 282.1h0M58.3 275.2h0M97.3 282.9h0M96.6 273.1h0M104.9 286.5h0M88.5 287.3h0M35.3 285.2h0M35.6 276.3h0M95.7 271.6h0M69.7 285.6h0M79.5 282.2h0M56 287h0M98.6 284.6h0M63 269.9h0M102.4 285.1h0M57.1 285.9h0M70.9 281.2h0M69 280.8h0M32.4 270.5h0M36 285.9h0M37.7 281.6h0M78.7 279.6h0M64 279.9h0M90 277h0M60.6 264.4h0M82 281.3h0M45.7 284.7h0M53.4 286h0M51.4 277.3h0M63.6 278.3h0M42.6 274.6h0M92.5 279.5h0M44.8 271.2h0M36.3 286.3h0M44.6 280.6h0M99.6 285.5h0M87 283.4h0M53.6 284.7h0M93.5 281.2h0M75.6 280.3h0M99.7 283.1h0M40.8 265.5h0M82.2 278.4h0M103.8 277.2h0M35.8 285.2h0M49.1 281.3h0M99.2 283.9h0M61.2 282.3h0M68 286.9h0M98.9 279h0M50.8 280.9h0M50 277.2h0M47.2 274.1h0M100.5 283.3h0M58.8 286.3h0M34.2 284.4h0M40.7 274.9h0M39.2 286.9h0M45 287.2h0M96.7 272.1h0M49.4 265.6h0M96.7 276.6h0M67.4 283h0M67.2 275.8h0M50.6 282.2h0M37.6 277.5h0M74.8 285.4h0M45.2 276.3h0M94.4 264.3h0M57.3 274h0M101.9 286.4h0M48 279h0M88.2 286.9h0M63.8 283.5h0M70 275.1h0M48.1 275.8h0M101.6 280.2h0M63.6 280.5h0M91.8 284.5h0M60.2 285.5h0M59.9 274.9h0M32.2 280.3h0M70.4 275.6h0M72.8 267h0M73.7 281.3h0M52.4 284.5h0M73.9 287.3h0M53 271.3h0M90 273.9h0M108.9 267.5h0M100.3 282.6h0M60.2 287.2h0M97.1 278.5h0M65.6 286.7h0M85.4 285.4h0M47.4 284.5h0M73.5 282.3h0M63.9 274.5h0M51.2 275.6h0M84 284.4h0M41.4 285.5h0M42.9 272.2h0M39.2 278.5h0M84.2 287.3h0M95 277.7h0M60 266.2h0M38.4 283.3h0M35.8 286.3h0M79.5 287.1h0M43.7 274.9h0M92.3 284.7h0M63.1 286.1h0M35.2 284.1h0M100.6 286.7h0M100.8 277.2h0M80.3 279.8h0M87 277.9h0M39.2 275.4h0M104.2 279.7h0M59.7 273.6h0M85.2 286.2h0M36.8 275.7h0M42.3 264.8h0M60.1 271.8h0M55 278.5h0M97.9 278.7h0M54.9 280.5h0M31.9 282.4h0M90.7 280.5h0M80.5 272.1h0M65.1 273.5h0M39.4 271.8h0M56.2 274h0M43.2 275.9h0M60.5 276.6h0M72 266.6h0M56.2 277h0M94.7 287.3h0M62.7 270.5h0M45.3 287.5h0M84.3 284h0M51.2 285h0M35.4 278.3h0M38.5 280.9h0M99.5 267.5h0M52.7 286.3h0M66.1 270.2h0M76.4 285.1h0M81.6 279.8h0M92.8 279.2h0M56.1 283.8h0M78.3 281.9h0M73.5 281.7h0M88.1 278.3h0M71.2 275.4h0M65.1 275.8h0M44.5 279.9h0M67.7 277.4h0M52.4 281.7h0M83.8 274.7h0M26.6 286.9h0M97.4 282.7h0M95.1 285.3h0M97.1 274.4h0M69.4 278.8h0M58.5 279.3h0M42.8 280.4h0M39.2 274.4h0M78.6 286.4h0M87 282.4h0M90.4 270h0M95.9 265.5h0M57.1 273.3h0M45.8 275.4h0M89.6 275.6h0M53 281.4h0M58.9 286.4h0M66.1 283.6h0M91.6 283.8h0M43.4 280.9h0M56.8 276.7h0M68.4 265.5h0M48.8 265.3h0M78.3 283.2h0M22.9 278.7h0M81.2 277.5h0M52.9 285h0M91.4 285.7h0M40.3 278.7h0M76.4 285h0M52.6 276.6h0M26.8 278.2h0M25.5 284.1h0M62.8 283h0M55.3 278.5h0M46.8 279h0M104.4 286h0M66.4 278.8h0M24 282.9h0M51.8 277.1h0M42.4 281.9h0M66.3 287.6h0M50.7 282.7h0M30.9 280.4h0M84.6 281.3h0M85.5 275h0M90.7 265h0M30.1 266.8h0M94.7 276.1h0M96.5 273.7h0M25.6 286.3h0M58.5 278h0M92.2 274.6h0M95.5 277.4h0M57.7 272.2h0M98.6 277.5h0M59.5 265.4h0M51.4 271.6h0M37 267.7h0M30.4 284.7h0M57.6 278.2h0M37.4 267.2h0M66.7 260.6h0M44.3 274.6h0M110.1 281.8h0M104.3 276.5h0M85.5 273.4h0M89.6 271.3h0M104.8 277.8h0M66 270.1h0M96.2 279.1h0M47.4 287.1h0M50.2 282.5h0M29.3 286.8h0M98.5 285h0M42.3 280.6h0M30.8 280.7h0M38.6 275.1h0M85 273.7h0M40.5 285.3h0M100.8 285.2h0M63.7 283.5h0M76.2 286.2h0M89.1 273.2h0M109.9 287.1h0M22.8 288.8h0M23.9 288.7h0M25.1 288.5h0M26.2 288.6h0M27.4 288.5h0M28.5 288.6h0M29.7 288.4h0M30.8 288.6h0M32 288.5h0M33.1 288.7h0M34.3 288.6h0M35.4 288.7h0M36.6 288.7h0M37.7 288.8h0M38.9 288.4h0M40 288.6h0M41.2 288.7h0M42.3 288.5h0M43.5 288.6h0M44.6 288.5h0M45.8 288.7h0M46.9 288.6h0M48.1 288.6h0M49.2 288.8h0M50.4 288.8h0M51.5 288.6h0M52.7 288.6h0M53.8 288.5h0M55 288.7h0M56.1 288.7h0M57.3 288.4h0M58.4 288.6h0M59.6 288.6h0M60.7 288.8h0M61.9 288.8h0M63 288.5h0M64.2 288.8h0M65.3 288.5h0M66.5 288.7h0M67.6 288.6h0M68.8 288.4h0M69.9 288.6h0M71.1 288.5h0M72.2 288.8h0M73.4 288.7h0M74.6 288.7h0M75.7 288.6h0M76.9 288.7h0M78 288.6h0M79.2 288.4h0M80.3 288.8h0M81.5 288.7h0M82.6 288.7h0M83.8 288.5h0M84.9 288.8h0M86.1 288.5h0M87.2 288.4h0M88.4 288.6h0M89.5 288.7h0M90.7 288.7h0M91.8 288.7h0M93 288.5h0M94.1 288.6h0M95.3 288.8h0M96.4 288.6h0M97.6 288.8h0M98.7 288.7h0M99.9 288.5h0M101 288.5h0M102.2 288.7h0M103.3 288.6h0M104.5 288.8h0M105.6 288.5h0M106.8 288.5h0M107.9 288.5h0M109.1 288.7h0M110.2 288.4h0M36 226.3h0M55.4 232.6h0M51.8 240h0M36 242.7h0M33.2 246.3h0M44.2 246.3h0M72.9 248.2h0M66.9 251h0M36 249.6h0M30.5 252.9h0M44.2 252.3h0M72.9 254.5h0M95.6 254.5h0M106.6 254.5h0M106.6 257.3h0M39.5 255.1h0M27.2 256.4h0M32.7 257.3h0M50.5 256.4h0M39.5 259.2h0M58.7 259.2h0M88.8 258.3h0M92.9 260.5h0M106.6 260.5h0M103.9 262.7h0M68.3 262.7h0M51.3 261.1h0M87.4 262.7h0M75.1 264.6h0M61.4 264.6h0M25.8 264.6h0M106.6 267.4h0" stroke="#2bb9f0" stroke-width="3.65" stroke-linecap="round" fill="none"/></g><g><path d="M149.3 217V297.3H235.7" stroke="#828282" stroke-width="1.5" fill="none"/><g font-size="4.6" fill="#202020" stroke="#202020" stroke-width=".2" text-anchor="end"><text x="143.9" y="219">4.2</text><text x="143.9" y="230.4">4.1</text><text x="143.9" y="241.8">4</text><text x="143.9" y="253.2">3.9</text><text x="143.9" y="264.7">3.8</text><text x="143.9" y="276.1">3.7</text><text x="143.9" y="287.5">3.6</text><text x="143.9" y="299">3.5</text></g><g font-size="4.6" fill="#202020" stroke="#202020" stroke-width=".2" text-anchor="middle"><text x="149.3" y="306.6">1</text><text x="192.7" y="306.6">1.5</text><text x="236.3" y="306.6">2</text></g><text x="192.6" y="316" text-anchor="middle" fill="#2a2a2a" stroke="#1a1a1a" stroke-width="0.28" font-size="6.1">D<tspan font-size='3.4' dy='1.5' fill='#888' stroke='none'>l</tspan><tspan font-size='4.6' dy='-3.1'>w</tspan></text><text transform="translate(134 257.3) rotate(-90)" text-anchor="middle" fill="#2a2a2a" stroke="#2a2a2a" stroke-width=".1" font-size="6" textLength="24.6" lengthAdjust="spacingAndGlyphs">Likelihood</text><path d="M179.4 277.2h0M162.3 285h0M189.6 279.2h0M188.4 277.8h0M204.9 270.9h0M207.7 266.6h0M231.6 265.4h0M181.8 279.7h0M158.3 283.5h0M215.1 262.8h0M209.2 273h0M161.3 280.9h0M206.5 285.7h0M216.5 279.5h0M162.5 282.4h0M190.3 277.8h0M160.8 273.2h0M184.3 278h0M192.8 273.4h0M177 272.4h0M223.8 284.5h0M172.6 282h0M234.6 278.6h0M229.4 276.7h0M206.9 281.4h0M150.8 277.8h0M223.8 270.4h0M208.4 276.8h0M176.2 283.7h0M156.4 279.2h0M221.6 278.4h0M210.9 279.5h0M161.7 279.1h0M198.7 284.7h0M231.9 282h0M226.6 279.8h0M158.4 276.4h0M192.2 281.3h0M180.1 275.8h0M164.4 285.5h0M193.3 285.3h0M155.3 285.2h0M159.9 281.4h0M154.5 279.4h0M213.9 276.5h0M216.8 282.5h0M199.6 269.8h0M189.9 272.9h0M151.4 268.8h0M190.2 281.9h0M168.9 277.6h0M199.7 280.8h0M219.9 282.5h0M162.1 264.8h0M178 265.2h0M172.2 282.7h0M175.2 277.2h0M187.2 281.6h0M225.1 277.2h0M166.5 268.2h0M197.3 273.5h0M221.7 284.2h0M150.8 280.7h0M158 274.9h0M208.5 271.7h0M163.9 275.2h0M219.3 274.7h0M157.7 281.3h0M155.4 263.2h0M165.2 284.9h0M182.5 285.7h0M160.8 265.1h0M193 281.5h0M214.8 281.8h0M234.5 266.1h0M179.2 283.9h0M230.3 269.1h0M221.6 283.4h0M188.7 262h0M193.3 277.2h0M229.4 284.3h0M158.6 275h0M160.7 282h0M206 271h0M175.3 264.6h0M155.9 278.9h0M227 273.6h0M231.2 274.3h0M173.6 265.9h0M211 272h0M193.1 281.4h0M215.2 280.4h0M169.2 275.8h0M221 284.9h0M208.7 275.7h0M174.3 282h0M152.2 283.3h0M162.4 277.7h0M150.2 278.3h0M169.9 277h0M162.1 278h0M204.9 283.3h0M195.3 281.3h0M176.5 283.5h0M156.7 268.8h0M186.4 266.7h0M213.7 284.5h0M221.6 272h0M231.5 280.7h0M173.8 266.6h0M172.4 282.4h0M210.8 274.9h0M179.4 281.1h0M204.9 274.2h0M167.5 267.6h0M214.1 284.5h0M151.9 281h0M220.1 284.9h0M209 272.5h0M223.9 271.1h0M184.7 284.3h0M172.7 278.6h0M157.7 263.3h0M217.5 277.5h0M158.2 275.3h0M195.4 285.6h0M198.5 265.1h0M221.8 280.1h0M181.5 278.3h0M190.4 285.8h0M161.4 282.2h0M229.9 279.6h0M235.3 282.6h0M230.4 280.8h0M171.2 282.9h0M188.1 265.4h0M194.4 280.6h0M200.8 284.9h0M207.6 281.3h0M188.8 277.4h0M193.2 270.9h0M219 269.9h0M204.9 274h0M170.9 278.7h0M200 284.4h0M197.4 278.6h0M201.7 280.4h0M197.7 272h0M233.7 279.3h0M180.1 284h0M175.9 268.8h0M218.2 268.9h0M218.7 281.1h0M205.1 279.6h0M164.4 284.9h0M189.8 266.9h0M163.9 282.2h0M152.3 275.3h0M194 280.5h0M154.8 282.5h0M185 283.5h0M189.8 284.6h0M197.1 273.1h0M156.5 277.5h0M179.1 281.9h0M213.1 280.2h0M203 281.1h0M193.1 283.2h0M192.9 280.5h0M181.4 283.4h0M181 284.1h0M209.7 277.1h0M199.8 280.4h0M186.8 278h0M156.7 282h0M209.2 285.5h0M231.8 280.6h0M170.8 275.7h0M224.1 278.7h0M177.7 279.9h0M170 281.2h0M166.4 283.6h0M199.4 279.9h0M222.2 283h0M185.3 282.8h0M233.4 270h0M205.9 282h0M199.3 281h0M161.6 271.6h0M159.3 284.3h0M162.9 282.3h0M225.1 285.4h0M156.1 281.4h0M194.7 280.4h0M191.1 277.5h0M213.3 278.6h0M191.8 275.8h0M206.4 282.9h0M157.7 265.9h0M152.8 285.7h0M154.7 265.9h0M153.6 275.4h0M176.1 279.2h0M184.7 281.3h0M206.7 278.4h0M221.9 281.6h0M195.4 284.8h0M154.1 277.1h0M208.8 272.8h0M188.3 275.5h0M173.8 285.5h0M198.5 278.5h0M230.1 276.2h0M160.1 261.5h0M218 274.5h0M199.5 277.7h0M166.7 280.2h0M211.1 276.9h0M170.4 279.6h0M197.2 265.1h0M183.9 285.8h0M164.8 269.8h0M219.3 273.3h0M182.5 279.5h0M171.4 285.2h0M182.3 280.9h0M170.7 277.8h0M207.4 277.9h0M154.4 285h0M233.3 274.5h0M219.3 278.3h0M208.6 283.3h0M210.9 282.6h0M204 276.1h0M159.1 276.3h0M230.5 274.5h0M162.9 271.4h0M188.3 280.3h0M162.3 281.6h0M153.3 271.5h0M164.2 278.4h0M219.8 284.1h0M204.2 273.8h0M235.4 274.9h0M234.7 270.9h0M226.7 274.5h0M161.2 279.1h0M218.2 276.9h0M216.6 283h0M228.8 273.4h0M207.5 277.8h0M179.4 281.4h0M208.2 273h0M174.1 268.5h0M201.1 285.7h0M175.4 275.5h0M175.7 276.1h0M169.7 285.1h0M189.5 282h0M207.7 277.5h0M220.2 285.7h0M182.6 274.3h0M221.9 274.9h0M153.1 282.7h0M166.2 280.9h0M178.8 276.3h0M199.3 274.7h0M178.2 285.1h0M178.3 279.8h0M165.8 276.1h0M202 285.1h0M159.4 284.7h0M186.2 281.9h0M187.2 282h0M165.6 283.8h0M167.2 283h0M208 284.7h0M176.1 282h0M232.2 281.2h0M162.2 273.3h0M181.2 278.9h0M190.2 284.4h0M178.2 284.2h0M167.3 282.3h0M212.7 267.9h0M233.4 272.9h0M204.3 285.7h0M230.2 283.6h0M152 278h0M231.9 281h0M214.6 284.9h0M225.5 277.7h0M213.7 283.5h0M198.4 267.6h0M226.5 283.6h0M225.2 279.8h0M212.1 278.4h0M178.4 266.6h0M188.6 275.3h0M199.5 277.8h0M233.7 271.4h0M232.3 281.7h0M219.1 278.8h0M190.2 279.4h0M169 261.6h0M196.7 279.4h0M163 283.6h0M205.7 258.3h0M200.8 279.6h0M192.7 282.9h0M207.6 273.7h0M161.8 270.2h0M210.9 276.5h0M204.7 267.4h0M197.4 275.4h0M208.7 272.1h0M168.7 278.1h0M180.7 274.5h0M178.2 282.8h0M155.4 278.9h0M198.1 282h0M232.6 280.9h0M234.1 280.4h0M232 285.1h0M187.1 278.7h0M160 284h0M191.6 283.3h0M179.7 279.8h0M220 274.4h0M218.7 277.2h0M232.8 281.9h0M213.4 262.4h0M164.3 278.3h0M163.4 266.8h0M211.9 284.4h0M190.9 285.2h0M197.9 283.3h0M221.4 278.5h0M161.7 273.7h0M218.5 276.6h0M174.8 281.2h0M170.5 283.9h0M195.1 278.4h0M158.7 282.8h0M189.4 285.5h0M232 272h0M184.2 282.1h0M211 273.6h0M205.1 282.9h0M228.3 282.9h0M152.3 269.4h0M228.3 275.6h0M234.3 271.1h0M219.8 277.8h0M195.7 281.7h0M214.5 281.2h0M226.6 284.8h0M160.6 281.1h0M169.9 284.2h0M216.2 279.5h0M178.4 272.3h0M170.9 282.7h0M167.8 283h0M195.4 262.2h0M225.3 280.5h0M213.6 280.7h0M231.7 277.9h0M152.4 263h0M156.1 265h0M195.2 271h0M172.1 281.5h0M210.2 280.8h0M217.3 278.7h0M215.9 267.2h0M207.4 274.7h0M159 278.3h0M211.3 277.2h0M157.2 278.9h0M179.7 285.1h0M160.1 280.4h0M204.8 275.4h0M229.4 280.5h0M222.2 283h0M227 274.5h0M154.9 265.4h0M156.7 275.2h0M153.7 277.5h0M161.7 285.3h0M194.9 285.8h0M222.8 285.3h0M192.7 282.8h0M153.2 284h0M211.5 271h0M226.1 280.5h0M212.3 281h0M156.3 267.8h0M191 284.3h0M226.4 278.5h0M231.3 282.1h0M223.1 279.5h0M220.3 260.8h0M175.4 284.5h0M191 276.8h0M213 284h0M196.8 280.7h0M217.5 272.4h0M176.5 285.2h0M210.8 259.4h0M181.6 285.6h0M209.8 277.5h0M227.2 265.7h0M162.9 279.3h0M180.8 275.6h0M211.8 275.3h0M170.3 279.3h0M224.3 281h0M187.9 279.5h0M194.7 284.2h0M232.5 278.6h0M210.1 274.6h0M219.6 282.3h0M188.2 279.8h0M204.3 282.4h0M186.6 281.5h0M195.8 284.7h0M215.8 272.8h0M189.4 262.7h0M210.1 282.7h0M166.2 272.3h0M153 259.7h0M165.6 263.1h0M174.9 278.8h0M178.6 284.8h0M217.3 279.1h0M167.5 277.4h0M233.5 260.9h0M211.6 277.9h0M212.9 280.5h0M223.9 278.4h0M210.8 266.7h0M201.3 284h0M162.8 275.8h0M183.9 266.5h0M167.3 272h0M155.1 270.3h0M194.3 277.8h0M152.5 276.3h0M173.6 277.4h0M182.1 279.4h0M197.9 273.2h0M163.9 284.2h0M151.8 283.7h0M156.9 263h0M168.3 266.9h0M184.9 282h0M161.4 284.3h0M165.9 271h0M201.5 273.4h0M151.3 281.6h0M170 280.9h0M193.7 283.7h0M219.6 274.7h0M161.8 279.4h0M177.6 281.1h0M168.4 276.5h0M203.9 271.1h0M218.1 284.6h0M233.5 283.1h0M198.3 279.3h0M215.4 278.3h0M199.1 265.9h0M195.7 285.1h0M198.4 264h0M201.9 276.8h0M168.6 282.9h0M180.7 281.9h0M174 281.1h0M166.5 279.9h0M230.8 284.8h0M196.7 274.5h0M189.5 270.2h0M206.6 280.2h0M231 278.3h0M227.9 281.4h0M210.3 262.3h0M156.6 285.4h0M189.1 274.8h0M159.2 283.3h0M179.4 278.6h0M173.7 285.5h0M223.9 279.2h0M204.3 260.2h0M154.8 269.7h0M184.6 282.3h0M206.4 276.7h0M185.4 272.1h0M150.5 279h0M168 268.2h0M181.5 284.7h0M187.8 277.7h0M188.4 259.5h0M189.1 277.3h0M165.2 284.2h0M212 266.4h0M175.6 277.7h0M195.3 283.1h0M216.3 277.6h0M178.1 280.5h0M220.6 278.8h0M163.3 284.3h0M226.8 279.3h0M190.2 283.2h0M196.1 279.8h0M161.7 283.6h0M166.1 282.3h0M175.6 278.1h0M228.4 283.3h0M197.8 280.1h0M160.9 279.8h0M150 286.6h0M151.2 286.7h0M152.3 286.7h0M153.5 286.7h0M154.6 287h0M155.8 286.8h0M156.9 286.8h0M158.1 287h0M159.2 287h0M160.4 286.9h0M161.5 286.8h0M162.7 286.8h0M163.8 286.9h0M165 286.9h0M166.1 286.7h0M167.3 286.8h0M168.4 287h0M169.6 287h0M170.7 287h0M171.9 286.9h0M173 286.9h0M174.2 286.6h0M175.3 286.8h0M176.5 286.8h0M177.6 286.7h0M178.8 286.7h0M179.9 286.9h0M181.1 286.7h0M182.2 286.7h0M183.4 286.6h0M184.5 286.9h0M185.7 286.7h0M186.8 286.7h0M188 286.8h0M189.1 286.9h0M190.3 287h0M191.4 287h0M192.6 287h0M193.7 286.9h0M194.9 286.9h0M196 286.9h0M197.2 286.6h0M198.3 286.7h0M199.5 286.8h0M200.6 286.9h0M201.8 287h0M202.9 286.8h0M204.1 287h0M205.2 286.8h0M206.4 286.7h0M207.5 286.7h0M208.7 287h0M209.8 286.7h0M211 286.9h0M212.1 286.9h0M213.3 286.7h0M214.4 286.7h0M215.6 287h0M216.7 287h0M217.9 286.8h0M219 286.8h0M220.2 286.8h0M221.3 287h0M222.5 286.8h0M223.6 286.7h0M224.8 286.9h0M225.9 286.9h0M227.1 286.9h0M228.2 286.6h0M229.4 287h0M230.5 287h0M231.7 286.9h0M232.8 286.8h0M234 286.6h0M235.1 286.8h0M179.8 225.5h0M196.2 231.8h0M164.2 238.6h0M179.8 241.9h0M209.3 241.9h0M166.4 244.7h0M214.8 244.1h0M221.1 244.7h0M227.1 244.1h0M212.1 246.8h0M156 249h0M197.6 248.2h0M221.1 248.2h0M234 249.6h0M214.8 251h0M169.1 251.8h0M160.1 253.1h0M187.4 253.7h0M202.5 252.3h0M220.3 252.9h0M234 252.3h0M165.5 255.6h0M188.8 255.6h0M209.3 255.6h0M227.1 255.1h0M172.4 257.3h0M195.6 257.8h0M220.3 257.3h0M229.3 257.8h0M162.8 258.3h0M190.2 259.2h0M202.5 259.2h0M210.7 259.2h0M172.4 260.5h0M180.6 261.9h0M236.2 262.7h0M153.2 266h0M227.1 260.5h0" stroke="#2bb9f0" stroke-width="3.65" stroke-linecap="round" fill="none"/></g><g><path d="M271.7 218.3V298.4H347.3" stroke="#828282" stroke-width="1.5" fill="none"/><g font-size="4.6" fill="#202020" stroke="#202020" stroke-width=".2" text-anchor="end"><text x="266.3" y="220.3">4.2</text><text x="266.3" y="231.7">4.1</text><text x="266.3" y="243.1">4</text><text x="266.3" y="254.5">3.9</text><text x="266.3" y="265.9">3.8</text><text x="266.3" y="277.3">3.7</text><text x="266.3" y="288.7">3.6</text><text x="266.3" y="300.1">3.5</text></g><g font-size="4.6" fill="#202020" stroke="#202020" stroke-width=".2" text-anchor="middle"><text x="271.8" y="307.4">0.1</text><text x="314.4" y="307.4">0.6</text></g><text transform="translate(309.7 316.7) scale(0.87 1)" text-anchor="middle" fill="#2a2a2a" stroke="#1a1a1a" stroke-width="0.28" font-size="6.1">Kd</text><text transform="translate(256.4 258.5) rotate(-90)" text-anchor="middle" fill="#2a2a2a" stroke="#2a2a2a" stroke-width=".1" font-size="6" textLength="24.6" lengthAdjust="spacingAndGlyphs">Likelihood</text><path d="M307.5 282.6h0M301.1 278.2h0M339.3 280.2h0M308.1 282h0M281 263.9h0M301.8 283.7h0M336.9 280.7h0M335.3 283.1h0M310.9 269.6h0M293.3 283.4h0M294 264.5h0M336.3 286.7h0M305.7 277.1h0M279.1 277.3h0M274.2 263.5h0M303.8 282.8h0M300.6 284h0M303.8 283.7h0M284.9 286.2h0M311.7 274.5h0M290.9 280.3h0M276.6 284.4h0M303.4 270.9h0M325.8 278.1h0M329.7 270.4h0M289.8 275.7h0M303.7 260.8h0M293.7 283.9h0M335.8 276.8h0M294.7 284.1h0M273.5 274.3h0M332.3 285.2h0M309.9 267.2h0M325.1 279.2h0M280 270.4h0M299.7 283.6h0M305.8 266.3h0M318.6 270.2h0M313.1 283.5h0M339.6 260.3h0M292.4 281.3h0M334.5 286.5h0M334.7 285.8h0M310 271.4h0M324.5 278.2h0M292.4 281.9h0M314.7 275.4h0M318.2 277.8h0M324.8 282.2h0M279.2 282.1h0M338 282.8h0M306.5 283.7h0M308.5 286.6h0M284 285.7h0M346.3 274.6h0M297.6 276.9h0M322.1 286.1h0M304.1 286.6h0M343.1 278.4h0M286.2 266.6h0M288.1 281.9h0M273.4 274.7h0M277 285.2h0M290.2 284.9h0M325 278.5h0M342.9 271.6h0M317.1 270.6h0M344 276.5h0M298.7 283.9h0M345.6 276.3h0M276.2 279h0M318.1 281.3h0M289.1 280.9h0M296.3 284.7h0M285.3 283.2h0M274.7 257.4h0M306.7 279.2h0M287.7 277.7h0M302.2 270.6h0M311.9 276.5h0M336 286.3h0M295.3 286.6h0M344.2 275.2h0M306.6 286.3h0M273.7 281.4h0M306 274.6h0M276.1 283.8h0M291.6 279.2h0M331.7 281.1h0M309.6 273.8h0M315.1 285h0M286 283.4h0M322.7 281.5h0M322.1 282.7h0M339.8 267.7h0M295.2 271.2h0M300.7 266.5h0M272.5 278.1h0M282.6 283h0M301 282.8h0M305.3 273.4h0M292.5 286.2h0M301.5 265.8h0M277.2 281.3h0M303.8 286.3h0M336.6 285.8h0M274 286.7h0M342 279.7h0M272.6 279.1h0M329.7 280.7h0M305.3 278.1h0M280.1 284.2h0M294.3 278.3h0M273.4 266.6h0M305.6 276.1h0M316.4 274.9h0M280.2 279.9h0M340 278.3h0M328.5 272.4h0M310.3 271.6h0M317 282.8h0M345.2 270.5h0M338.2 280h0M274.2 265.2h0M343.1 276.8h0M304.8 282.4h0M341.9 262.2h0M331.7 286.5h0M297 281.9h0M294.6 274.9h0M324.1 279.7h0M338.5 283.9h0M286.3 285.6h0M303.2 267.9h0M307.4 285.9h0M321 272h0M285.9 285h0M274.5 274.6h0M320.5 283.6h0M316.7 276.1h0M311.1 285.8h0M288.5 285.7h0M316 264.6h0M343.1 286.9h0M322.5 275.4h0M317.4 282.5h0M287.9 283.4h0M295.2 262.8h0M301.7 281.8h0M341 281.5h0M281.8 273h0M324.9 284.1h0M341.4 276.4h0M305.2 277.7h0M296.4 278.8h0M275 258.2h0M313.6 273.3h0M290.8 262h0M308.9 275.3h0M319.3 286.3h0M293.5 272.7h0M280.5 282.4h0M307 268.9h0M343 282.1h0M329.7 285.3h0M335.1 286.4h0M272.3 265.5h0M331 284.3h0M326.6 283.9h0M335.6 282.5h0M339.4 286h0M321.2 274.3h0M315.9 275.8h0M332.4 280.2h0M317.8 276.5h0M306.5 279.1h0M277.7 276.4h0M292.8 274.3h0M321.4 283.9h0M273.3 268.7h0M297 275.9h0M306.6 267.9h0M336 286.4h0M329.2 276.9h0M280.9 286.6h0M299.8 264.9h0M278.5 285.6h0M321.4 280.4h0M284.6 286.8h0M336.9 281.6h0M277.5 270.9h0M334.9 281h0M343 275h0M320.3 271.7h0M341.3 280.7h0M340 286.6h0M312.4 278.7h0M286.8 270.3h0M320.5 270.5h0M272.1 265.7h0M329.8 277.9h0M304.4 282.7h0M309.7 272.7h0M346.2 279.5h0M272.3 282.2h0M335.5 284.2h0M309.7 267.3h0M272.9 252.8h0M298.5 270.6h0M328.6 275.4h0M310.9 269.3h0M340.2 263.1h0M274.5 284.8h0M282 283.8h0M311.1 264.9h0M322.6 285.2h0M343.5 279.4h0M324 285.2h0M317.9 274.8h0M309.6 279.7h0M337.3 282.8h0M272.8 260h0M330 283.8h0M340 281.5h0M337.8 276.9h0M342.3 282h0M285.1 282h0M307 284.5h0M278.5 276.4h0M302.5 264.1h0M331.5 259.3h0M316.2 284.8h0M300.8 284.9h0M339.1 276.5h0M301.7 271.3h0M331.9 281h0M312.1 277.3h0M317.7 285.7h0M307.2 279.4h0M305.1 273.5h0M310.2 286.8h0M343.4 286.9h0M335.3 283.9h0M299.9 282.3h0M272.1 284.3h0M290 282h0M273.9 273.3h0M283.1 282.6h0M283.1 263.9h0M285.1 269.2h0M315.8 275h0M272.8 270.1h0M312.1 280.9h0M310.7 285.8h0M290.5 278.4h0M286.9 285.4h0M345.2 273.6h0M332.7 276.5h0M280.8 282.2h0M340.1 279.7h0M342 269.5h0M306.9 277.1h0M320 279.6h0M325.2 269.4h0M288.6 276.2h0M320.5 286.9h0M325.1 265.2h0M326.5 283.3h0M290.2 269.2h0M296.6 267.9h0M294.6 273.7h0M297.6 271.8h0M278 274.6h0M283.4 284.9h0M329.9 282.4h0M280.3 286.1h0M317.1 284.8h0M331.3 280.7h0M345.8 285.2h0M319.5 274.8h0M316.8 276.8h0M274.4 275.9h0M343.8 285.3h0M322.3 282.8h0M273.8 281.1h0M299.4 273.3h0M294.5 277.6h0M319.2 273.6h0M294.2 280.6h0M275.2 260.9h0M314.8 259.5h0M339.3 279.9h0M311.8 276.8h0M337.2 264.3h0M316.9 280h0M305.5 274.3h0M281 260.8h0M284.2 272.1h0M326.2 279h0M321.9 273.5h0M309.9 272h0M299.5 286.8h0M292.8 277.8h0M304.4 284h0M304.1 284.9h0M310.3 275h0M303.5 272.5h0M305.9 286.8h0M293.1 276.6h0M296.8 270.4h0M317.4 281.1h0M323.9 277h0M345.4 273.8h0M299.5 277.6h0M315.3 278.6h0M302.5 259.8h0M292.8 266.1h0M295.8 277.2h0M316.6 262.9h0M296.1 276h0M327 286.9h0M298.9 280.6h0M346.3 284h0M275.3 283.6h0M313.2 279.7h0M303.8 274.9h0M274.6 274h0M301.5 263.9h0M318 272.6h0M309.4 275.3h0M277.7 284.2h0M272.1 268.6h0M272.9 257.6h0M324.6 270.6h0M308.9 280.1h0M321.8 282.1h0M301.8 274.1h0M344.2 274.6h0M309.2 276.9h0M311.3 279.4h0M282 284.1h0M309.5 279.2h0M345 283.6h0M322.1 285.5h0M325.4 283.1h0M299.7 272.9h0M304.2 279h0M340.1 281h0M278.1 283.4h0M304.2 270.4h0M331.2 284h0M274.3 260.3h0M345.2 282.4h0M296.4 280.7h0M292.3 275h0M308.4 281.3h0M338.6 275.5h0M292.4 284.7h0M320 283.7h0M328 271.6h0M290.1 274.4h0M334.9 285.6h0M338.4 285.5h0M322.7 284.4h0M291 275.1h0M343.9 275.6h0M312.6 279.6h0M303.9 275.9h0M274.8 269.3h0M314.2 277.2h0M300.1 277.9h0M331.1 284.9h0M319.7 271.8h0M274.8 279h0M333.2 280.8h0M320.3 270.2h0M275.1 278.9h0M324.5 267.5h0M319.7 276.4h0M310.3 268.8h0M324.2 275.3h0M299.3 285h0M335.7 280.6h0M273.4 265h0M308 273.2h0M333.9 261.9h0M288 270.9h0M324.5 286.6h0M320.5 269h0M330.6 286.9h0M345.9 283h0M325.1 270.2h0M278.6 277.3h0M327.4 268.5h0M295.3 277.2h0M341.6 276.2h0M346.1 275.2h0M272.3 261.3h0M316.2 275.5h0M332.7 266.1h0M322.1 279.1h0M311.5 268.6h0M327 268.6h0M325.6 275.9h0M288.9 279.5h0M323.4 281.8h0M327.5 284h0M275.1 285.8h0M345.8 283.3h0M339.1 286.9h0M288.5 269.8h0M280.7 282.1h0M317.2 283.3h0M328.8 278.9h0M289.3 283.8h0M290.4 279.2h0M277.8 280.5h0M305.6 282.2h0M292.2 272.1h0M344.5 277.4h0M331.6 284.4h0M276.6 282.5h0M322.7 280.4h0M320.7 285.4h0M339.5 280.7h0M283.9 274.9h0M317.2 268.2h0M338.2 282.5h0M315.9 281.7h0M314.9 276.9h0M341.1 274.9h0M300.3 275.6h0M295.2 279h0M277.1 284.5h0M297.1 279.1h0M340.9 280.6h0M297.7 274.7h0M274.1 272.8h0M293.7 276.1h0M320.3 286.7h0M302.8 278h0M319.3 270h0M342.2 275.9h0M309.8 269.7h0M334.9 260h0M320.8 262.5h0M330.6 285.9h0M338.9 281.2h0M317.4 277.5h0M305.5 286.7h0M311.5 269.7h0M314 280.8h0M316.2 282.2h0M317.8 279.3h0M323.3 277.1h0M332.7 268.1h0M323.9 275.7h0M341.1 280h0M303.1 281.1h0M281.3 283.8h0M340.4 281.1h0M296.9 275h0M314.5 286h0M277.4 285.6h0M326.1 281.1h0M329.4 261.1h0M273.5 275.8h0M343.2 284.4h0M337.7 280h0M327.4 277.3h0M325.2 283.5h0M335.3 272.7h0M344.6 268h0M291.8 281.1h0M326.1 281.5h0M339.5 283.3h0M333.8 275.7h0M337.5 285.3h0M310.9 276.2h0M342.2 284.4h0M345.9 267.9h0M276 280.2h0M326.4 266.2h0M273.7 284.3h0M274.5 267.8h0M274 277.5h0M304.6 279.9h0M338.5 262.2h0M342.4 272.7h0M288.6 279.2h0M302.5 272.1h0M304.2 275.4h0M345.1 284.8h0M313 281.8h0M311.5 259.3h0M326.6 272.5h0M335.1 279.7h0M300.4 273.3h0M330.6 286.4h0M342.8 272.5h0M278.4 282.9h0M290.2 279.2h0M342.9 284.8h0M314.3 274.8h0M315.1 274.1h0M278.3 286h0M337.5 281.7h0M272 288.1h0M273.1 287.9h0M274.3 288.1h0M275.4 288.1h0M276.6 287.9h0M277.7 287.8h0M278.9 287.8h0M280 288h0M281.2 288.1h0M282.3 287.9h0M283.5 287.8h0M284.6 288.1h0M285.8 288h0M286.9 287.9h0M288.1 288h0M289.2 287.9h0M290.4 288.1h0M291.5 288h0M292.7 287.8h0M293.8 287.9h0M295 288.1h0M296.1 287.8h0M297.3 287.9h0M298.4 287.8h0M299.6 288h0M300.7 288.1h0M301.9 288.1h0M303 288h0M304.2 287.9h0M305.3 288h0M306.5 288h0M307.6 288.1h0M308.8 287.8h0M309.9 288h0M311.1 287.8h0M312.2 287.8h0M313.4 288h0M314.5 287.8h0M315.7 288.1h0M316.8 288h0M318 288h0M319.1 287.9h0M320.3 288h0M321.4 288h0M322.6 288.1h0M323.7 288h0M324.9 288.1h0M326 287.8h0M327.2 287.8h0M328.3 288h0M329.5 288h0M330.6 287.9h0M331.8 288.1h0M332.9 287.9h0M334.1 287.9h0M335.2 288.1h0M336.4 287.8h0M337.5 288h0M338.7 288.1h0M339.8 287.9h0M341 287.9h0M342.1 287.8h0M343.3 288.1h0M344.4 287.8h0M345.6 288h0M333.1 226.9h0M308.5 232.6h0M327.6 240h0M316.1 243.6h0M322.4 246.3h0M346.8 245.5h0M272.3 248.2h0M323.5 249h0M346.2 249.6h0M277.8 251h0M323.5 252.3h0M312 252.3h0M303.8 253.7h0M272.3 254.5h0M299.1 255.1h0M309.3 255.6h0M319.7 255.6h0M336.1 255.6h0M341.6 256.4h0M346.2 256.4h0M325.7 257.3h0M273.7 257.8h0M301.1 259.2h0M289.6 260h0M312 261.1h0M283.3 261.9h0M340.8 260.5h0M333.9 263.3h0M344.9 262.7h0M292.3 263.8h0M276.4 264.6h0" stroke="#2bb9f0" stroke-width="3.65" stroke-linecap="round" fill="none"/></g><g><path d="M22.5 332.9V407.4H109" stroke="#828282" stroke-width="1.5" fill="none"/><g font-size="4.6" fill="#202020" stroke="#202020" stroke-width=".2" text-anchor="end"><text x="17.1" y="334.9">4.2</text><text x="17.1" y="345.5">4.1</text><text x="17.1" y="356.1">4</text><text x="17.1" y="366.7">3.9</text><text x="17.1" y="377.3">3.8</text><text x="17.1" y="387.9">3.7</text><text x="17.1" y="398.5">3.6</text><text x="17.1" y="409.1">3.5</text></g><g font-size="4.6" fill="#202020" stroke="#202020" stroke-width=".2" text-anchor="middle"><text x="22.9" y="416.6">-5000</text><text x="43.6" y="416.6">-4000</text><text x="64.3" y="416.6">-3000</text><text x="85" y="416.6">-2000</text><text x="105.7" y="416.6">-1000</text></g><text transform="translate(66.3 425.8) scale(0.95 1)" text-anchor="middle" fill="#2a2a2a" stroke="#1a1a1a" stroke-width="0.28" font-size="6.1">h50</text><text transform="translate(7.2 370.3) rotate(-90)" text-anchor="middle" fill="#2a2a2a" stroke="#2a2a2a" stroke-width=".1" font-size="6" textLength="24.6" lengthAdjust="spacingAndGlyphs">Likelihood</text><path d="M64.7 385.8h0M42.7 384.6h0M44.6 391.5h0M99.6 391.3h0M63 385.6h0M105.9 388.4h0M34.2 386.9h0M107.9 391.7h0M77.8 389.6h0M33.6 394.9h0M92.8 393.5h0M60.5 395.2h0M89.3 386.4h0M78.5 389.3h0M37.1 376.9h0M27.3 388.4h0M52.9 384.2h0M31.7 384.9h0M34.2 378h0M67 396.5h0M24 383.6h0M65.3 394.4h0M64.4 392.5h0M34.1 393.1h0M36 388.8h0M103.3 384.8h0M68.1 389.5h0M91.3 387.3h0M43.9 392.9h0M57.4 385h0M30 388.4h0M33.1 395.5h0M59.2 389.2h0M40.9 387h0M28.7 389.3h0M74.7 394.4h0M69.5 392.8h0M51.1 388.7h0M50.1 383.3h0M33.5 381.5h0M90.5 395h0M38.1 394.5h0M69.9 391.4h0M105.1 382h0M34.5 395.6h0M34.3 395.3h0M96.2 395.2h0M95.9 386.4h0M78.1 389.7h0M52.8 379.3h0M97 390.5h0M44.6 383.9h0M53.9 388.2h0M73.6 390.1h0M104.2 394.9h0M35.3 378.9h0M105.7 385.8h0M102.6 394.1h0M93.5 392.1h0M73.4 389.1h0M105.7 389.2h0M24.6 385.9h0M65.2 382.3h0M92.7 393.3h0M104.7 390.1h0M27.3 394.5h0M36.6 396.1h0M43 393.3h0M54.4 383.5h0M83.5 396.5h0M103 395.4h0M37.3 374.6h0M105.6 385.4h0M70.3 392.3h0M93.4 391.6h0M44.3 386.5h0M106.7 386.2h0M30.1 396.6h0M62.2 385.9h0M82.5 387.7h0M29.2 394.8h0M53.1 388.1h0M30.4 389.7h0M99.9 385.9h0M70.4 393.6h0M92.6 396.2h0M29.8 391.9h0M97.1 391.3h0M27.4 391.4h0M92.4 389h0M32.2 392.6h0M66.5 390.8h0M64.2 391.1h0M104 378.5h0M84.6 393.8h0M44.6 379.4h0M47.7 381.9h0M99.7 390.5h0M31.7 382h0M71.1 395.5h0M62.1 386.7h0M99.5 390h0M92.3 376.8h0M97.6 395.2h0M83.3 396.4h0M54.2 378.9h0M106.9 389.8h0M88.6 388.7h0M93.5 373.6h0M98.4 390h0M74.7 393.4h0M71.3 383.9h0M47 395.1h0M53 374.4h0M96.6 393.2h0M38.5 393.5h0M72.5 391.4h0M39.7 373.3h0M101 392.7h0M95.6 380.6h0M71.1 384.3h0M36.6 384.6h0M64 380.8h0M96.6 392.6h0M52.4 374.1h0M27.9 392.8h0M80.6 391h0M51.3 385.8h0M107.5 392.1h0M23.3 396.6h0M32.7 393.8h0M35.5 386.3h0M84.6 395.3h0M102.6 388h0M72.8 382.3h0M50.5 390.7h0M80.7 387.2h0M52.2 382.8h0M40.8 385.7h0M75.6 395.7h0M59.7 389h0M76.9 390.2h0M32.8 381.2h0M87.7 382h0M85.8 384.2h0M51.7 386.4h0M28 385.2h0M59.2 385h0M99.5 391.9h0M57.1 387.6h0M95.5 389.2h0M28.3 393.6h0M48.5 391.6h0M88 390.5h0M90.1 393.9h0M93.5 389.1h0M51 385h0M70.6 384.5h0M55.9 388.9h0M49.7 388.4h0M40.3 374.5h0M28.1 391.1h0M25.3 387.1h0M104.6 390.8h0M102.7 385.7h0M45.1 391.7h0M29.1 384.5h0M61.5 388.9h0M48.2 394.7h0M70.5 395.2h0M31.2 392.8h0M104.8 393.7h0M60.1 386.5h0M108.7 391.1h0M70.8 385.8h0M48.6 386.3h0M108.7 390.5h0M32.3 376.8h0M91.7 382h0M48.5 392.6h0M45.1 386.1h0M40.6 392.3h0M58.7 393.5h0M46.7 390.9h0M93.3 384.4h0M90.7 392.6h0M33.2 373.6h0M95.3 387.3h0M63.5 383.4h0M23.6 380.3h0M26.1 391.1h0M39.9 394h0M29.5 394.1h0M88.4 394.5h0M54.5 379.6h0M94.4 394.3h0M84.1 394.6h0M99.7 394.6h0M35.5 387.7h0M75 395.4h0M45.1 393.9h0M43.9 391.6h0M51.1 395h0M52.1 388.6h0M61 374.9h0M34.6 395.7h0M80.9 390.5h0M74.3 394.5h0M54.6 390h0M88.4 396.1h0M101.3 396h0M84.2 384.9h0M28.1 393h0M60 390.1h0M77.4 394.7h0M34.3 378.7h0M95.3 381.7h0M100.3 391.6h0M61.5 388.1h0M104.4 383.2h0M63.3 389.5h0M90.9 390.1h0M65.1 388.2h0M29.2 389.6h0M45.2 388.4h0M27.5 385.4h0M99.8 394.5h0M30.8 383.6h0M90.8 381.3h0M74.3 380.5h0M53.4 392.7h0M29.5 383.5h0M50.6 383.5h0M35 381.7h0M35.3 377.1h0M76.8 391.5h0M44.5 385.5h0M53.1 379.6h0M89.1 383.7h0M97.1 394.8h0M47.5 389.6h0M95.6 390.7h0M47.6 382.9h0M69.7 388.2h0M98.5 385.3h0M95.8 391h0M90.3 393.3h0M86.9 394.9h0M56 391.1h0M46.8 384.5h0M53 383.6h0M31.7 384.2h0M66.8 386.7h0M59 396.3h0M71 396.2h0M55.6 393.5h0M63.7 391h0M96.5 386.6h0M97.9 385.4h0M23.2 390.9h0M43.5 393h0M64.6 389.6h0M24.3 384.7h0M83.6 391h0M60.1 383.4h0M69.7 389.7h0M85.6 392.8h0M86.7 384.5h0M77.7 389.2h0M67.5 390.4h0M70.1 381.8h0M45.4 381h0M103.2 380h0M40.5 388.6h0M92.7 392h0M56.7 390.4h0M48.6 387.9h0M69 395.7h0M41.9 385.9h0M72.4 389.2h0M91.1 394.7h0M80 391.7h0M87.8 392.4h0M77.6 395.7h0M36.2 396.6h0M62.8 375.3h0M27.3 394.6h0M71.2 388.5h0M102.4 391h0M80.4 393.8h0M101.5 391.3h0M49 391.4h0M86.1 396h0M48.3 394.5h0M48.1 387.4h0M82.2 385.8h0M62.2 384.6h0M94.2 388h0M32.4 396.3h0M59.6 396.4h0M42.2 393h0M64.3 394.3h0M65.7 387.5h0M85.3 392.6h0M30.1 383.4h0M41.2 389.2h0M107.2 393.6h0M101.8 376.2h0M95.1 388.9h0M82.5 395.5h0M88.4 386.9h0M105.9 385.1h0M100.2 385.8h0M80.9 395.6h0M29.4 385.7h0M55.4 393.8h0M48.4 388.8h0M44.8 394.3h0M101.5 383.5h0M60.2 390.5h0M32.7 386.8h0M92.3 380h0M103.7 390.4h0M34.7 394.8h0M88.6 396.6h0M94.4 389.6h0M102.4 381.6h0M85.8 395.5h0M83.2 387h0M104.1 389.8h0M65.6 387.4h0M100.3 394.2h0M73.7 387.8h0M41.9 391.3h0M66.8 396.1h0M66 384.6h0M27 391.3h0M97.7 384.7h0M87.8 391.8h0M31.1 384.9h0M95.3 396.5h0M91.6 383.1h0M90.5 381.2h0M66.5 391.6h0M35 388h0M55.4 388.7h0M29 379h0M104.3 387.8h0M81.2 387.7h0M84.2 392.7h0M94.1 386.2h0M103 377.6h0M28.8 392.6h0M107.6 393h0M33.2 383.6h0M48.4 391.1h0M35.7 382.6h0M45.2 381.5h0M83 391.6h0M80.1 394.6h0M30.6 385.3h0M54.7 391.1h0M31.2 385.8h0M96.5 388.9h0M102.9 380.4h0M69.3 385.8h0M106.4 389.9h0M57.6 380h0M73.2 393h0M33.6 381.6h0M59.2 390.2h0M29.8 385.2h0M55.4 388.5h0M95.3 386.8h0M49.2 395h0M103.9 392.3h0M72.7 389.1h0M26.3 393.6h0M23.8 384.1h0M33.4 391.8h0M45 389.9h0M56.4 390.3h0M104.8 381.4h0M33.4 381.4h0M24.6 396.2h0M30.4 382h0M104.1 396.5h0M94.9 396h0M78.4 384.8h0M42.5 384.3h0M33.6 382.1h0M27.5 395.8h0M46.2 394.9h0M24.3 393.6h0M37.8 394.4h0M99.8 389.5h0M101.3 387.3h0M105.3 382.4h0M45 393.2h0M62.9 377.1h0M30.2 378.6h0M35 396.7h0M67.3 396.4h0M97.6 377.2h0M32.6 396.1h0M50.9 388.8h0M63.5 386.2h0M98.8 382.5h0M65.7 388.8h0M79.2 391.2h0M67.9 391h0M42.5 395.9h0M27.5 385h0M95.9 383.4h0M35.9 392.1h0M36 380.9h0M99.6 394.6h0M71.6 380.7h0M46.1 381.1h0M56.2 384h0M80 384.7h0M29.6 381.5h0M69.9 390.8h0M77.3 395.8h0M67 379.3h0M56 393.7h0M36.6 388.8h0M73.1 380.7h0M96.2 396.6h0M80.8 393h0M32.7 396.2h0M104.3 395.4h0M30.6 385.6h0M72.5 379h0M73 371.1h0M34.2 373.6h0M43.1 385.8h0M81.2 396.4h0M65.2 380.5h0M92.2 383.7h0M66.9 395.7h0M26.2 394.9h0M26.2 393.9h0M40.4 388.6h0M95.8 390.4h0M101.4 389.3h0M53.2 385.4h0M90.3 389.6h0M84 382.3h0M75.9 393.4h0M32.8 386h0M99.5 386.4h0M106.8 390.9h0M62.1 382h0M34.9 394h0M51.8 382.1h0M98 383.1h0M100.2 392.9h0M69.2 392.9h0M70.9 393.7h0M73 392.9h0M105.9 387.9h0M87.8 388.1h0M104.6 389.5h0M88.6 395.1h0M47 392.1h0M87.4 384.5h0M30.3 389.6h0M70.6 394.2h0M53.5 385h0M76.2 388.6h0M96.3 393.1h0M102 387.4h0M50.7 393.4h0M108.5 391.1h0M33.8 381.1h0M25.5 387.2h0M61.6 396.1h0M35 384.4h0M58.1 392.7h0M73.3 387.8h0M78.1 394.7h0M82.2 392.4h0M25.6 386.1h0M56.6 392.9h0M74 389.7h0M61.8 386.7h0M37.7 386.8h0M66.7 394.9h0M46.4 390.5h0M32.7 378.8h0M70.1 389.6h0M81.5 392.5h0M65.1 383.2h0M55 387h0M37 395.7h0M77 392.8h0M80.9 394.9h0M103.1 387.7h0M27.7 390.3h0M33.2 392.5h0M64.9 381h0M67.4 392.2h0M71.4 396h0M89 388.5h0M64.5 387.8h0M87.9 395.1h0M60.9 385.7h0M56 388.3h0M32 371.6h0M69.9 395h0M42.3 393.5h0M51.1 387.6h0M90.9 389.3h0M42.9 376.5h0M36.8 371.4h0M100.5 393.1h0M40.2 388.7h0M47.1 392.6h0M96.5 393.1h0M31.7 387.6h0M89.2 386.3h0M37 382.3h0M38.7 391.2h0M66.6 388.7h0M89.1 390.7h0M27.7 384.6h0M68.8 392.7h0M74 381.5h0M43.7 388h0M30.4 387.4h0M43.3 374.6h0M56.5 395.4h0M40 391.1h0M72 394.2h0M102.2 388.5h0M92.7 380.1h0M54.5 396.6h0M34.6 379.5h0M37.9 392.3h0M105.4 375.3h0M57.7 390.8h0M40.9 392.5h0M31.1 392.7h0M32.7 391.9h0M35.6 386h0M61.1 389.9h0M66.4 387.9h0M108.3 392.7h0M92.3 384.8h0M28.1 393.1h0M97.1 392.7h0M70.5 392.4h0M68.9 389.1h0M105.2 396.7h0M40.7 387.6h0M101.8 394.4h0M54 379.1h0M53.6 388.4h0M38.1 394.8h0M52.6 395.6h0M86.6 395.2h0M100.3 395.2h0M39.9 392.2h0M92.3 383.3h0M60.8 396.6h0M28.1 387.7h0M84.1 384.3h0M77.8 393.2h0M32.1 381.5h0M93.4 396.4h0M79.5 395.5h0M103.9 376.8h0M68.4 392.7h0M30.9 394.6h0M27.3 390.6h0M58.1 395h0M38.7 389.1h0M70.2 396.6h0M28.3 384.5h0M85.2 385.4h0M66.3 396.6h0M105.2 386.5h0M38.4 383.9h0M84 393.5h0M74 395.7h0M91.1 393.8h0M38 393.3h0M24.1 390.2h0M61.4 393.7h0M89.6 390.4h0M27.7 373.3h0M66.5 387.7h0M35.9 394.3h0M95.8 393.1h0M26.5 371.4h0M81.4 391.4h0M96.4 395.9h0M62.6 389.9h0M67.2 395.1h0M54.7 392.3h0M32.8 375.4h0M54.2 384.8h0M75.2 381.1h0M108.4 396.4h0M62.7 384.1h0M33.6 382.3h0M64.8 396.2h0M62.2 392.3h0M22.7 397.9h0M23.8 397.9h0M25 397.6h0M26.1 397.6h0M27.3 397.8h0M28.4 397.6h0M29.6 397.8h0M30.7 397.7h0M31.9 397.7h0M33 397.9h0M34.2 397.7h0M35.3 397.6h0M36.5 397.8h0M37.6 397.8h0M38.8 397.8h0M39.9 397.9h0M41.1 397.7h0M42.2 397.8h0M43.4 397.6h0M44.5 397.6h0M45.7 397.9h0M46.8 397.7h0M48 397.8h0M49.1 397.9h0M50.3 397.7h0M51.4 397.7h0M52.6 397.6h0M53.7 397.6h0M54.9 397.9h0M56 397.9h0M57.2 397.7h0M58.3 397.8h0M59.5 397.6h0M60.6 397.9h0M61.8 397.9h0M62.9 397.6h0M64.1 397.9h0M65.2 397.6h0M66.4 397.6h0M67.5 397.6h0M68.7 397.7h0M69.8 397.6h0M71 397.7h0M72.1 397.7h0M73.3 397.8h0M74.5 397.9h0M75.6 397.9h0M76.8 397.8h0M77.9 397.9h0M79.1 397.9h0M80.2 397.6h0M81.4 397.7h0M82.5 397.6h0M83.7 397.6h0M84.8 397.6h0M86 397.6h0M87.1 397.6h0M88.3 397.9h0M89.4 397.9h0M90.6 397.6h0M91.7 397.7h0M92.9 397.9h0M94 397.8h0M95.2 397.7h0M96.3 397.6h0M97.5 397.7h0M98.6 397.9h0M99.8 397.8h0M100.9 397.7h0M102.1 397.7h0M103.2 397.6h0M104.4 397.9h0M105.5 397.6h0M106.7 397.6h0M107.8 397.6h0M67.5 341.1h0M77.9 346.5h0M23.1 352.8h0M67.5 356.1h0M42.3 358.3h0M87.4 358.9h0M98.4 358.9h0M82 361h0M43.1 362.4h0M57.3 364.3h0M61.4 365.7h0M94.3 366.5h0M108 367.1h0M36.8 367.9h0M47.7 367.6h0M68.3 367.6h0M85.5 367.6h0M101.1 367.1h0M75.1 369.3h0M61.4 369.8h0M51.3 371.2h0M84.7 371.2h0M99.2 371.2h0M31.3 372.5h0M69.6 372.5h0M102.5 373.1h0M95.6 374.7h0M75.1 374.7h0M84.7 375.3h0" stroke="#2bb9f0" stroke-width="3.65" stroke-linecap="round" fill="none"/></g><g><path d="M149.5 332.3V408.2H234.3" stroke="#828282" stroke-width="1.5" fill="none"/><g font-size="4.6" fill="#202020" stroke="#202020" stroke-width=".2" text-anchor="end"><text x="144.1" y="334.3">4.2</text><text x="144.1" y="345.1">4.1</text><text x="144.1" y="355.9">4</text><text x="144.1" y="366.7">3.9</text><text x="144.1" y="377.5">3.8</text><text x="144.1" y="388.3">3.7</text><text x="144.1" y="399.1">3.6</text><text x="144.1" y="409.9">3.5</text></g><g font-size="4.6" fill="#202020" stroke="#202020" stroke-width=".2" text-anchor="middle"><text x="149.5" y="417.2">1.5</text><text x="177.8" y="417.2">2</text><text x="206.2" y="417.2">2.5</text><text x="234.6" y="417.2">3</text></g><text transform="translate(192.1 426.4) scale(0.8 1)" text-anchor="middle" fill="#2a2a2a" stroke="#1a1a1a" stroke-width="0.28" font-size="6.1">P1</text><text transform="translate(134.2 370.4) rotate(-90)" text-anchor="middle" fill="#2a2a2a" stroke="#2a2a2a" stroke-width=".1" font-size="6" textLength="24.6" lengthAdjust="spacingAndGlyphs">Likelihood</text><path d="M225.4 387.2h0M217.3 384h0M202.7 382.2h0M166 389.1h0M189.7 389.3h0M204.8 382.5h0M215.3 389h0M154.7 390.7h0M162.2 393.9h0M221.6 390h0M179 395.3h0M150.1 388.1h0M221.4 390h0M208.3 397.1h0M151.9 393.9h0M204.4 392.5h0M232.8 397h0M165.6 389.5h0M170.8 386.8h0M226.7 378.2h0M198.4 392h0M198.1 393h0M155.8 394.6h0M174.9 384.2h0M232.3 392.8h0M212.4 385h0M205.6 389.4h0M195.4 396.4h0M233.6 381.4h0M159.3 391.9h0M219.3 384.5h0M198.2 382.3h0M207 379.3h0M160.3 396.2h0M164.2 383.6h0M190.5 388.7h0M183.4 376.7h0M225.6 393.9h0M160.2 391.2h0M211.8 381.8h0M159.9 393.4h0M212.8 378.6h0M205 380h0M178.8 383.4h0M206.6 383.3h0M197.3 386.8h0M199.4 394.8h0M203.4 388.9h0M191.3 392.5h0M180.7 396.4h0M233 397.3h0M158.8 389.5h0M156.5 386.8h0M208.5 388.3h0M198.9 388.9h0M186.3 389.1h0M177.3 388.5h0M222.1 394.3h0M167.2 382.8h0M209.5 391.6h0M157.7 382h0M183.5 378h0M200.5 397h0M222.5 396.4h0M232.6 377.4h0M213.8 395.9h0M203 391.9h0M210.2 394.6h0M207.8 392.5h0M201.2 380.6h0M180.1 391.1h0M153.4 392.5h0M151.7 372.6h0M193 393.7h0M195.1 388.8h0M152.3 393.7h0M224.1 388.6h0M207 381.7h0M176.4 397.2h0M176.9 397.2h0M165.5 377.4h0M153.8 380h0M209.6 381.9h0M172.9 397.3h0M175.1 394.6h0M228.9 373.4h0M157.4 392.3h0M208.9 383.9h0M188.5 384.3h0M178.6 396.6h0M190.4 394.2h0M186.9 397.2h0M216.6 385.7h0M218.2 394.8h0M218.5 383.7h0M184.3 386.2h0M204.2 384.6h0M205.8 382h0M214.2 392h0M229.6 395.3h0M215.2 373.8h0M220.2 390.8h0M172.8 397.2h0M191.6 389.8h0M204.6 384.6h0M163.1 389.7h0M217.1 394.2h0M229.6 393.1h0M216.7 394.1h0M167.9 389.7h0M161.2 391.9h0M150.9 384.7h0M192.6 383.3h0M150.1 384.2h0M218.3 389.9h0M165.7 383.8h0M179.9 392.4h0M180 395.1h0M216.8 390.2h0M190.9 385.3h0M161.5 390.4h0M189.6 394.7h0M204.9 378.7h0M167.1 387.6h0M155.3 380.4h0M163.5 393.9h0M162.8 388.4h0M211.2 387.4h0M200.4 382h0M175.4 384.8h0M185.1 390.3h0M214.5 382.5h0M229.7 387.7h0M170.1 389h0M170.9 386h0M173.5 389.3h0M166.1 381.8h0M198.5 385.8h0M202.6 386.2h0M161.4 395.9h0M189.1 390.7h0M219.1 388.6h0M183.1 393.5h0M214.5 396.8h0M151.4 383.5h0M159.6 385.9h0M202.4 377.6h0M205.1 383.7h0M150.4 375.2h0M223.1 380.2h0M192.3 387.7h0M230.2 395.6h0M190.1 387h0M202.7 374.4h0M163 386h0M160.1 386.7h0M161.4 393.9h0M180.3 392.7h0M171.6 389.9h0M155.7 382.6h0M194.5 393.3h0M160.3 383.8h0M220.7 396.8h0M188.1 387.2h0M182.1 394.8h0M151.2 393.8h0M152 394.9h0M153 388.6h0M188.2 388.5h0M202.1 393.9h0M195.9 395.2h0M151 392.4h0M163.7 394.8h0M209.4 381.6h0M217.2 393.5h0M207.3 391.4h0M174.4 390.3h0M184.4 387.8h0M168.7 394.6h0M175.8 389.2h0M164 390.4h0M213.1 396.9h0M192.7 386.3h0M158.5 394.9h0M183.7 389.6h0M204.9 396.3h0M166.5 386h0M167.3 395.5h0M196.8 393.4h0M174.8 394.5h0M220.9 389.2h0M163 385.4h0M220.5 395h0M186.2 391.4h0M152 396.3h0M168 384.8h0M187.7 387.1h0M166.3 383.3h0M208.9 380.5h0M176 386.7h0M216.3 384.5h0M187.5 395.1h0M157.2 394.3h0M173.7 391.8h0M215 384.7h0M206.1 390.6h0M158.1 386.6h0M182.7 392.3h0M218.3 388.3h0M178.8 396.2h0M233.3 391.2h0M171.7 388.5h0M195 394.2h0M189.9 378.2h0M183.7 391.5h0M213.9 389.5h0M157.8 371.2h0M225.1 393.5h0M221.4 390.4h0M219.9 391.1h0M204.4 383.8h0M177.2 392.1h0M213.2 374h0M210.4 385.6h0M218.6 381.6h0M199 384.2h0M182.2 390h0M174.2 389.4h0M228.6 390.9h0M219 390.8h0M176.3 395.5h0M218.3 389.3h0M191.7 386.2h0M214 376h0M201.1 371.9h0M217.5 380.3h0M232.2 396.8h0M203.6 378.3h0M152.6 389.8h0M193.2 393.9h0M168.1 395.3h0M158.6 384.9h0M178.9 396.9h0M224.6 395.5h0M219 386.1h0M160.4 385.6h0M200.9 393.9h0M190.8 374.3h0M165.1 390.4h0M204 394.7h0M220.8 392.1h0M199.6 382.3h0M187.5 374.6h0M228.1 389.2h0M204.4 382.1h0M157.2 396.2h0M191.2 390.5h0M151 390.8h0M183.3 383.7h0M155 392h0M210.1 390.7h0M233 385.1h0M182.5 377.8h0M158.4 389.7h0M196.4 393.3h0M173.5 396h0M209.5 380.3h0M190.3 393.6h0M220 396.4h0M159.7 391.1h0M173 391.2h0M166.5 391.4h0M208.4 380.9h0M153.3 380.6h0M205.9 391.4h0M180.6 396.3h0M193.4 391.3h0M170.8 384.1h0M168 393.2h0M201.8 381.8h0M157.8 381.2h0M164.3 388.9h0M199.9 383.9h0M180.1 394.2h0M199.4 376.3h0M208.2 395.7h0M177.6 387.3h0M205.6 388.1h0M222.9 392.3h0M190.9 385.7h0M220.6 382.4h0M172.3 394.4h0M232.3 389.1h0M201.7 376.5h0M205.9 392.8h0M216.4 391.2h0M218.9 381.3h0M213.3 394.6h0M154 372.2h0M172.3 396.1h0M226.5 385.7h0M157.6 385.7h0M181.7 389.2h0M216.9 381.1h0M203.2 386.2h0M175.4 396.7h0M211.6 393.4h0M216.9 383.8h0M189.7 388.2h0M222.4 390.6h0M161.7 390.5h0M231.9 386.2h0M178.9 386.2h0M203.9 377.1h0M182.8 380.2h0M222.9 393h0M197.5 388.8h0M183.7 380.7h0M217.9 395.3h0M189.5 389.5h0M215.8 387.6h0M195.8 388.9h0M166.7 388.2h0M186.2 391.5h0M180 388.3h0M203.8 396.9h0M168.5 389.8h0M227.3 396.2h0M189.1 384.9h0M192.7 390.6h0M152.8 395.2h0M156.7 393.4h0M207.4 395.8h0M219.2 391.9h0M211.9 388.9h0M232.5 391.3h0M213.9 393.8h0M166.1 391h0M202.5 383.9h0M206 395.9h0M163.9 391.1h0M193.6 386.5h0M197.9 392.5h0M190.8 386.4h0M189.3 385.8h0M217.4 391.8h0M201 379.2h0M205.9 393.7h0M204.7 387h0M172.1 392.8h0M155.7 386.5h0M161.3 385.5h0M229.2 388h0M210.4 389.2h0M191.9 396.5h0M220 391.2h0M227.5 389.6h0M165.6 395.6h0M179.6 392.9h0M167.8 388.2h0M202.2 394h0M217 382.3h0M189 391.3h0M169.7 394.4h0M157.1 392.4h0M176.2 393.3h0M213.5 382.3h0M209.6 386.2h0M190.9 389.2h0M203.2 390.5h0M168.2 390.1h0M153.5 394h0M230.6 394.9h0M221.6 389.4h0M197.2 387.5h0M175.7 396.8h0M222.8 394.9h0M216 397.3h0M231.6 386.5h0M179.2 397.4h0M175.1 390.1h0M212.1 381.8h0M232.7 376.8h0M158 379.9h0M166.5 397.1h0M185.8 396.1h0M202.4 396h0M199.4 382.1h0M219.2 393.3h0M227.7 387h0M201.5 394.6h0M191.1 381h0M166.2 390.7h0M207.7 381.7h0M152.3 388.4h0M188.5 381.1h0M227.6 390.1h0M155.3 385.4h0M233 387.3h0M222.5 388.8h0M200 395h0M172.5 385.6h0M216.6 387.8h0M213.4 389.1h0M191.5 385.2h0M212.2 388.8h0M213 385.6h0M188.1 392.6h0M224.4 382.4h0M170.2 385.6h0M210.2 381h0M159.3 395.8h0M196 387.3h0M195.8 396.8h0M176.7 393.6h0M175.1 390.3h0M155 381.5h0M171.8 391.5h0M220.3 394.1h0M218.2 384.8h0M232.3 388.1h0M178.1 397.3h0M187.4 397h0M175.5 392.1h0M161.3 381.8h0M189.9 387.1h0M219.4 383h0M196.2 386.4h0M187.4 390.2h0M196.3 386.8h0M225.3 384.9h0M184.6 386.7h0M210.8 373.1h0M153.9 393.1h0M166.4 389h0M213.2 382.8h0M221.5 390.7h0M198.3 384.9h0M209.6 382.6h0M172.8 372.4h0M164.9 394.5h0M164.5 396.3h0M187.3 394.8h0M152.9 371h0M218.1 396.1h0M230.8 388.2h0M185.7 389.3h0M215.8 397.3h0M203.7 396.6h0M195.2 392.1h0M204.7 382.5h0M224.1 390h0M150.4 387.4h0M199.2 392.4h0M210.6 386.5h0M151.2 391.4h0M197 387.8h0M189.2 379.5h0M157.3 393.1h0M197.1 396.1h0M228.1 381.1h0M165 389.3h0M205.8 388.5h0M155.5 393.7h0M176.4 386.6h0M210.8 386h0M153.8 378.3h0M207.6 381.7h0M188.9 386.9h0M197.5 385.2h0M189.1 383.4h0M180.6 394.9h0M181.7 396.9h0M213.1 382.9h0M175.6 391.7h0M217.2 383h0M213.5 382.6h0M154 394.2h0M179 391.2h0M194.7 383.7h0M153.7 394h0M164.4 384.6h0M181.5 392.2h0M222.9 392.9h0M152.2 382.2h0M207.7 382.4h0M160.9 384.9h0M184.4 396.4h0M174.8 376.9h0M184.2 377.4h0M224.6 392.4h0M205.2 396.7h0M187.6 396.5h0M206.9 390.7h0M151.3 381.1h0M233.1 390.4h0M176.5 385.8h0M164.3 387.4h0M167.4 382.6h0M226.3 390.7h0M210.3 393.6h0M175.4 378.7h0M152.1 389.1h0M175.1 388.3h0M184.9 390.9h0M212 386.1h0M161.3 384.8h0M222.1 386.4h0M178.1 389.3h0M156.1 394.6h0M205.8 386.9h0M185.4 388.9h0M159.5 393h0M220 395h0M211.5 393.3h0M223.5 396.1h0M195.2 396.9h0M221.4 393.9h0M215.7 396.6h0M193 395h0M190.7 392.9h0M197.3 397h0M227.8 385.6h0M203.2 394.7h0M154.6 382.3h0M216.1 373.8h0M200.7 384.1h0M226.7 390.9h0M225 390h0M224.4 392.3h0M216.8 386.5h0M153.6 384.5h0M157.9 380h0M193.1 386.8h0M157.2 388.5h0M208.9 389h0M198 385.6h0M222 388.9h0M212.2 384.2h0M216.1 383.5h0M209 380.5h0M191.4 389.6h0M195.6 388.5h0M205.5 388h0M192.3 377h0M200.8 393.8h0M199.8 388.4h0M200.7 391.9h0M195 393.9h0M174.7 390.6h0M188.6 390.8h0M222.1 387.8h0M212.5 387.9h0M177.9 389.7h0M226.7 396.4h0M150.8 383h0M187.3 379.7h0M204.8 389.4h0M211 374.9h0M188.3 385.2h0M173.1 389.7h0M160 387.1h0M216.8 388.5h0M161 384.9h0M203 391.1h0M211.5 391.6h0M190 391.6h0M206.5 385.9h0M161.3 390.5h0M211.8 387.6h0M185.2 388.8h0M167.4 385.9h0M202.5 375.8h0M153.8 388.4h0M160.9 390.3h0M155.8 396.2h0M172 385.2h0M231.6 396.3h0M211.2 377.5h0M215.4 394.1h0M190.7 388.1h0M198.9 393.2h0M217.9 385.1h0M184 384.1h0M152.9 384.1h0M152.2 383.5h0M168.3 395.9h0M151.7 386.7h0M198.5 396.1h0M170.5 387.7h0M221.8 394.5h0M168.2 392.6h0M190 386.8h0M216.7 391.3h0M217.6 391.6h0M183.8 391.1h0M158.2 384.2h0M171.6 380.2h0M226.1 396.8h0M165.9 386.2h0M219.2 387.3h0M208.5 380.6h0M230.9 393.1h0M176.4 395.1h0M165.1 385.7h0M209.5 381.2h0M205.9 396.3h0M174.6 374h0M223.1 396.7h0M175.5 394.8h0M215.8 383.2h0M150.7 387.8h0M159.2 376.7h0M189.1 394.9h0M154.6 396.2h0M153.2 383.8h0M210.8 386.1h0M177.3 389.3h0M222.4 396.9h0M206.6 371.6h0M184.2 392h0M226.7 389.6h0M213.6 388.3h0M214.6 380.7h0M184.2 380.7h0M176.9 391.5h0M153.1 377.1h0M216.1 395.6h0M150.2 394h0M194 392.8h0M173.7 395.7h0M158 396.8h0M153.9 383h0M177.1 396.7h0M228.1 387h0M155.7 383h0M167.4 383h0M169.2 388h0M219.4 395.9h0M189.1 394.7h0M218.9 386.7h0M182.7 388.5h0M178.2 390.7h0M211 387.5h0M188.2 381.3h0M151.8 382.2h0M155.7 396h0M228.3 389.2h0M218.5 391.8h0M153 394.5h0M205.8 392.6h0M197.3 382.2h0M158.9 383.8h0M201.4 384.2h0M156.2 391h0M212.2 375.5h0M226.1 384.3h0M188.9 388.8h0M209 379.9h0M219.5 390.6h0M165.6 395.2h0M204.3 383.5h0M193.6 388.1h0M150.4 388.5h0M223.1 396.2h0M233.2 393.9h0M230.9 387.9h0M220.7 382.1h0M214.5 379h0M184.9 390.2h0M221.8 394h0M191.2 388.6h0M176.7 387.6h0M193.7 394.3h0M195 395.5h0M158.7 395.8h0M192.6 396.7h0M150 398.5h0M151.2 398.5h0M152.3 398.3h0M153.5 398.3h0M154.6 398.5h0M155.8 398.2h0M156.9 398.4h0M158.1 398.2h0M159.2 398.4h0M160.4 398.5h0M161.5 398.2h0M162.7 398.5h0M163.8 398.3h0M165 398.4h0M166.1 398.4h0M167.3 398.5h0M168.4 398.2h0M169.6 398.5h0M170.7 398.2h0M171.9 398.3h0M173 398.5h0M174.2 398.2h0M175.3 398.3h0M176.5 398.2h0M177.6 398.2h0M178.8 398.3h0M179.9 398.5h0M181.1 398.4h0M182.2 398.3h0M183.4 398.5h0M184.5 398.5h0M185.7 398.5h0M186.8 398.5h0M188 398.3h0M189.1 398.3h0M190.3 398.5h0M191.4 398.2h0M192.6 398.3h0M193.7 398.3h0M194.9 398.4h0M196 398.4h0M197.2 398.3h0M198.3 398.4h0M199.5 398.3h0M200.6 398.3h0M201.8 398.3h0M202.9 398.5h0M204.1 398.4h0M205.2 398.3h0M206.4 398.5h0M207.5 398.5h0M208.7 398.5h0M209.8 398.4h0M211 398.5h0M212.1 398.3h0M213.3 398.3h0M214.4 398.3h0M215.6 398.5h0M216.7 398.5h0M217.9 398.3h0M219 398.5h0M220.2 398.2h0M221.3 398.3h0M222.5 398.4h0M223.6 398.5h0M224.8 398.3h0M225.9 398.3h0M227.1 398.3h0M228.2 398.3h0M229.4 398.4h0M230.5 398.2h0M231.7 398.3h0M232.8 398.4h0M187.4 340.2h0M166.1 345.9h0M165 352.6h0M187.4 355.6h0M153.2 358.3h0M171.6 358.3h0M212.6 358.3h0M149.6 361h0M162 360.2h0M171.6 361.6h0M160.1 363.8h0M186.6 364.9h0M190.2 366.5h0M198.4 365.7h0M231.2 366.5h0M206.6 367.1h0M149.6 367.1h0M172.4 367.6h0M181.4 368.4h0M229 369.3h0M209.3 369.8h0M160.1 369.8h0M203.9 371.2h0M191 371.2h0M152.7 371.2h0M184.7 373.1h0M166.9 374.7h0M172.4 375.3h0M216.2 374.7h0M224.4 373.9h0M232.6 375.3h0" stroke="#2bb9f0" stroke-width="3.65" stroke-linecap="round" fill="none"/></g><g><path d="M270.6 329.5V406.5H347" stroke="#828282" stroke-width="1.5" fill="none"/><g font-size="4.6" fill="#202020" stroke="#202020" stroke-width=".2" text-anchor="end"><text x="265.2" y="331.5">4.2</text><text x="265.2" y="342.4">4.1</text><text x="265.2" y="353.4">4</text><text x="265.2" y="364.3">3.9</text><text x="265.2" y="375.3">3.8</text><text x="265.2" y="386.2">3.7</text><text x="265.2" y="397.2">3.6</text><text x="265.2" y="408.2">3.5</text></g><g font-size="4.6" fill="#202020" stroke="#202020" stroke-width=".2" text-anchor="middle"><text x="271.3" y="415.7">2.5</text><text x="296.6" y="415.7">3</text><text x="321.9" y="415.7">3.5</text><text x="347.3" y="415.7">4</text></g><text transform="translate(309.2 425) scale(0.88 1)" text-anchor="middle" fill="#2a2a2a" stroke="#1a1a1a" stroke-width="0.28" font-size="6.1">a</text><text transform="translate(255.3 368.1) rotate(-90)" text-anchor="middle" fill="#2a2a2a" stroke="#2a2a2a" stroke-width=".1" font-size="6" textLength="24.6" lengthAdjust="spacingAndGlyphs">Likelihood</text><path d="M315.9 391.6h0M304.6 389.8h0M284.8 390.3h0M293.6 378.4h0M315.3 378.2h0M321 385.6h0M300.9 388.2h0M284.5 394h0M300.1 394h0M309.4 388.6h0M277.3 391.7h0M334.5 391h0M318.7 386.5h0M302.2 385.3h0M321.7 375h0M327.2 381.4h0M318.7 390h0M307.3 394.5h0M323.2 388.3h0M339.7 386.4h0M288.7 379.6h0M343.7 382.3h0M280.5 390.8h0M331.3 385.2h0M279.1 384.1h0M332.7 387.5h0M325.8 383.5h0M306.7 392.2h0M306 386.6h0M300.6 380.8h0M317.9 384.2h0M316.5 385.4h0M337.7 394.2h0M288.7 391.6h0M286.7 394.7h0M298.2 385.3h0M288.8 388.3h0M321.3 384h0M287.9 391.8h0M323.5 387.3h0M293.4 384.6h0M336.8 384.6h0M340.7 391.3h0M289.1 384.4h0M317.1 386h0M305.8 379.1h0M327.9 394.9h0M304.1 378.8h0M321.8 382.8h0M301.9 394.7h0M281.8 389h0M295.4 383.8h0M335.4 393.3h0M323 390h0M303.7 384.7h0M325.5 392.7h0M304.3 381.9h0M335.9 388.9h0M329.7 391.8h0M337.7 393.2h0M283.6 393.4h0M300.8 388.5h0M344.2 389.9h0M284.5 386.6h0M335.5 390.9h0M314.1 393h0M327.1 388.6h0M287.4 394h0M301.3 388.6h0M335.8 394h0M301.1 376.7h0M312.7 394h0M317.2 383.8h0M339.6 388.4h0M341.2 395.1h0M336.2 393.4h0M312.6 385.2h0M301.7 386.9h0M333.4 384.5h0M321.1 380.4h0M309.7 394.7h0M315.4 383h0M315 386.3h0M320.9 378.5h0M298.1 383h0M305.8 395h0M297.6 387.5h0M298.2 386.3h0M310.1 388.1h0M313.8 390.5h0M309.7 383.1h0M308.2 376.2h0M305.5 385.4h0M344.9 390h0M329.9 395.4h0M279.1 373.3h0M329.9 392.3h0M299.5 388.1h0M281.4 381.8h0M311.1 384.3h0M309.7 380.6h0M332.7 383.7h0M324.4 394.4h0M337.7 388.3h0M297.8 393.7h0M281.3 370.5h0M284.7 389.4h0M324.8 393.4h0M322.4 385.4h0M314 382.4h0M300.1 392.2h0M330.1 390.5h0M341.8 388.3h0M325.6 393.1h0M331.6 390.1h0M294 381.8h0M312 395.5h0M302.2 387.1h0M339.2 394.4h0M344.4 381.8h0M285.7 382.1h0M290.3 374.8h0M307.7 371.9h0M288.9 392.3h0M341.1 393.6h0M295.5 391.6h0M344.1 387.9h0M290.5 387.4h0M328 375.2h0M312.3 377.8h0M306.9 391.9h0M318.4 384.2h0M346.3 383.8h0M277.8 393.6h0M334.1 390.4h0M341.5 388.7h0M292.9 385.1h0M322.4 395.4h0M303.3 395.2h0M280 378.1h0M281.5 391.6h0M299.5 379.9h0M301.1 393.4h0M281.1 378.3h0M301.3 393.5h0M336.9 391.6h0M307.1 393.9h0M342.5 376.1h0M312.4 383.5h0M301.8 369.3h0M318.8 389.6h0M279.4 381.3h0M327.5 384.7h0M299.6 392.3h0M316.5 382.5h0M326.8 391.2h0M299.5 394.3h0M281.3 392.8h0M291.8 394.8h0M279.8 388h0M336 391.9h0M321.2 386.1h0M309.3 382.3h0M310.8 387.8h0M294.2 386.9h0M299.2 371.6h0M305.9 373.6h0M302.1 383.6h0M333.2 392.9h0M324.7 379.7h0M343.2 394.7h0M336.3 387.7h0M331.7 388.8h0M321.6 376.5h0M293.9 392.8h0M325.1 392.9h0M346.5 388.8h0M293.2 387.4h0M318 384.9h0M305.8 384.4h0M320.5 381.1h0M280 393.5h0M282.2 384.5h0M316.2 381.8h0M342.5 390.6h0M321.2 381.1h0M336.9 386.5h0M305.9 388.3h0M341.7 389.4h0M286.2 378.6h0M303.1 393.6h0M344.1 384h0M315 386.3h0M314.7 384.5h0M329 392.2h0M291.7 394h0M341.9 389.2h0M334.9 374h0M338.3 390.5h0M328.6 379.9h0M302.8 378.8h0M294.3 391.3h0M343.5 391.8h0M279.1 394.1h0M341 390.2h0M300.7 389.5h0M283.6 386.1h0M328.2 395h0M311.2 383.2h0M301.8 384.8h0M291.5 390.9h0M340.2 389.6h0M317 393.2h0M319.8 392.3h0M293.3 392.8h0M335.4 390.4h0M300.1 395h0M287.2 388.5h0M304.4 387.9h0M298.2 384.8h0M313.2 380.2h0M292.5 385.4h0M281.1 382.1h0M313.3 381.2h0M329.7 391.9h0M281.9 384.3h0M321.1 391.6h0M304.2 386.6h0M343.7 390.6h0M332.1 387.4h0M280.6 384.4h0M316.7 393.4h0M279.3 382.8h0M283.4 387.8h0M292.6 379.1h0M323.6 387.4h0M278.8 384.9h0M291.2 383.3h0M337.3 390.7h0M304.2 391.1h0M331.7 386h0M341.8 385.3h0M310.7 382h0M315.7 392.2h0M313.6 380h0M285.9 392.5h0M284.7 387.4h0M322.3 369.2h0M313.5 378.2h0M304.5 382.6h0M299.1 385.1h0M299.3 383h0M298.3 378.8h0M307.4 375.2h0M317.7 395.1h0M337.9 389.1h0M343 395h0M305.1 389.8h0M295.9 379.4h0M289.4 387.2h0M340 385.9h0M325.6 374.2h0M286.1 387.4h0M288.6 388.3h0M328.1 380.5h0M332.1 388.1h0M300.2 388.8h0M343.5 388h0M301.3 395h0M313 392.6h0M278.1 384.3h0M313.9 388.4h0M300.8 375.3h0M286.8 387.5h0M341.7 385.9h0M345.9 395.2h0M289.6 387.7h0M327.4 392.4h0M277.7 394.4h0M279.2 382.1h0M323.4 385.3h0M327.9 390.6h0M320 386.1h0M314.4 379.5h0M327.9 395.4h0M297.1 393h0M300.5 381.2h0M312.9 379.2h0M339.5 388h0M304.4 381.6h0M309.6 392.8h0M317.6 385.7h0M314.2 387.9h0M324.9 379.7h0M331 388h0M321.9 380.6h0M322.9 392.1h0M343.2 386.4h0M290.2 382.7h0M315.5 384h0M325.3 390.8h0M311.1 391.9h0M308.9 378.4h0M299.5 381.6h0M289.9 385.3h0M343.6 393.5h0M277.2 376.7h0M318.4 372h0M295.9 394.3h0M329.7 390.6h0M299.5 388.1h0M328.2 383.9h0M291.7 393.2h0M298.2 392.6h0M283.8 395.2h0M331.5 392.3h0M297.3 380h0M346.4 379.3h0M329 391.6h0M308.4 381.4h0M346.6 390.3h0M326.8 386h0M323.6 384.4h0M277.1 394.7h0M336.4 394h0M299.9 381.2h0M338.5 393.1h0M319.2 377.9h0M344.6 383.2h0M344.1 388h0M278.9 385.8h0M289.9 372.9h0M316.5 395.2h0M280.7 390.1h0M289.8 386.8h0M292.2 378.2h0M320.1 381.1h0M301.9 391.6h0M288.7 386.6h0M330.2 389.4h0M319.2 385.2h0M320.9 385.4h0M333.6 379.1h0M296 385.4h0M324.9 390.9h0M316.3 393h0M312 387.1h0M282.8 389.4h0M319.8 387.6h0M336.7 390.8h0M281.6 385.4h0M319 393.1h0M346.5 388.4h0M316.6 379.6h0M314.8 383.1h0M279.3 394.9h0M314.9 386.8h0M327.8 391.2h0M344.8 394.1h0M330.6 392.5h0M288.1 385.1h0M280.4 393.9h0M317.4 375.6h0M296.5 381.7h0M337.8 395.3h0M343 392.4h0M294.5 389.9h0M315 372.8h0M329.8 387.6h0M282.4 384h0M316.1 390.9h0M318.2 388.8h0M324.1 390.1h0M337.1 388.7h0M298.6 389.8h0M278.3 386.6h0M303 381.8h0M321.4 373.2h0M277.3 374.3h0M280.7 387h0M336.6 390.1h0M340.6 389.9h0M329 386.5h0M322.6 387.4h0M293 387.8h0M313.9 391.1h0M278.7 385h0M318.6 391.1h0M323.5 382.4h0M299 394.9h0M294.4 389.5h0M324.8 388.1h0M330.2 389.9h0M343.4 386.5h0M341.7 391.5h0M307.4 379.6h0M280.2 391h0M282.3 389.7h0M326.3 393.2h0M278.5 389.1h0M344.3 393.9h0M331.5 390.6h0M307.5 380.2h0M328.3 383.6h0M277.6 388.7h0M280.3 390.3h0M323.9 391.4h0M342.7 383.6h0M278.9 384.7h0M279 384.5h0M301.6 375.4h0M297.5 385.7h0M334.6 382.9h0M316 394.6h0M277 381.1h0M319.4 389.6h0M339.4 384.6h0M322 387.6h0M277.3 386.4h0M316 385.7h0M278.2 385.9h0M282.4 382.6h0M300.7 387.4h0M339 384.6h0M321.1 391.2h0M342.5 386.5h0M296.3 389.1h0M294.5 380.6h0M308.3 385.2h0M315.4 392.5h0M318.1 387.6h0M318.9 388.2h0M305 380.7h0M336.2 395.3h0M309.8 394.1h0M313.4 387.5h0M320 380.9h0M308 386h0M314.9 385.6h0M322.4 392.4h0M332.5 387.1h0M290.6 387.5h0M298.4 391.5h0M286.4 390.4h0M283.9 390.9h0M295.1 392.5h0M308.8 384.5h0M285.3 386.2h0M346.3 383.9h0M310.3 385.4h0M329.5 384.5h0M296 388.4h0M310.5 380.6h0M304 382h0M321.4 384.4h0M304.6 382.5h0M320.1 378.3h0M281.5 390.6h0M332.3 382.7h0M320.1 377h0M297 386.4h0M285.9 383h0M302.3 386.8h0M297.3 385.9h0M329.7 393.7h0M336.7 390.1h0M344.4 377.9h0M301.4 391.8h0M326.9 388.2h0M317.8 381.3h0M311 385h0M294.8 382.9h0M332.2 382.8h0M299.7 390.9h0M319.3 389.2h0M306.8 390.2h0M289.1 388.5h0M319.9 379.9h0M338.1 389.4h0M279.8 393.5h0M307.5 372.9h0M326.4 388.7h0M306.7 378h0M337.9 389.4h0M325.2 384.8h0M342.7 391.4h0M301.2 384.5h0M342.2 388.2h0M312.4 393.5h0M342.8 394.6h0M289.5 393.5h0M301.4 386.9h0M338.7 369.5h0M289.5 392.3h0M317.1 381.5h0M318.3 380.8h0M344.4 392.7h0M303.3 390.3h0M325.8 387.2h0M335.9 391.7h0M325.4 387.1h0M303.2 385.7h0M277 383.8h0M283.9 386.7h0M276.8 392.6h0M313 381.5h0M302.4 389.8h0M309.9 393.8h0M337.1 395.1h0M279.3 380.8h0M318.6 375.8h0M304.3 385.1h0M339.6 393.7h0M291.4 385.9h0M301.5 386h0M290 392.5h0M280.7 386.2h0M311.3 383.2h0M340.6 385.2h0M303.4 385.3h0M312 383.4h0M317.6 378.8h0M312.9 387h0M320 383.5h0M306.6 387.3h0M304.4 381.4h0M320.6 384.9h0M277 372.7h0M286.2 389.8h0M338.2 386h0M301.4 376.7h0M290.1 389.4h0M291.6 394h0M321.9 384.4h0M332 379.3h0M297.9 384.4h0M289.3 381.5h0M321.9 387.9h0M338 392.4h0M310.8 385.2h0M308.2 376.3h0M343.6 386.9h0M287.1 387h0M338.4 374.4h0M305.6 380.7h0M330.8 380.6h0M280.2 386.6h0M321.4 378.8h0M278.7 389.4h0M334.4 391.2h0M313.8 383.3h0M303 390.9h0M318.7 386.5h0M284.6 385.4h0M301.6 392.4h0M294.3 385.1h0M307.2 394.4h0M311.2 375.9h0M278.8 390.2h0M299.6 382.9h0M325.9 392.6h0M310.9 384.9h0M340.4 392.4h0M293 377.2h0M316.4 391.7h0M282.1 389.4h0M318.8 382.1h0M289.8 375.8h0M287.5 389.8h0M299.2 384.4h0M280.5 392.8h0M292.8 389.9h0M328.3 389.6h0M323.2 384.3h0M293.1 381.4h0M329.7 386.5h0M310.3 390.2h0M279 387.4h0M297.4 378.6h0M321.3 394.9h0M305.1 383.2h0M297.4 385.6h0M323.3 391.1h0M276.8 396.5h0M277.9 396.6h0M279.1 396.4h0M280.2 396.4h0M281.4 396.4h0M282.5 396.7h0M283.7 396.3h0M284.8 396.4h0M286 396.3h0M287.1 396.5h0M288.3 396.6h0M289.4 396.4h0M290.6 396.7h0M291.7 396.3h0M292.9 396.6h0M294 396.6h0M295.2 396.6h0M296.3 396.4h0M297.5 396.5h0M298.6 396.4h0M299.8 396.6h0M300.9 396.4h0M302.1 396.4h0M303.2 396.3h0M304.4 396.6h0M305.5 396.3h0M306.7 396.5h0M307.8 396.4h0M309 396.6h0M310.1 396.6h0M311.3 396.4h0M312.4 396.5h0M313.6 396.4h0M314.7 396.7h0M315.9 396.5h0M317 396.6h0M318.2 396.6h0M319.3 396.5h0M320.5 396.3h0M321.6 396.6h0M322.8 396.5h0M323.9 396.4h0M325.1 396.5h0M326.2 396.7h0M327.4 396.6h0M328.5 396.7h0M329.7 396.4h0M330.8 396.6h0M332 396.5h0M333.1 396.7h0M334.3 396.7h0M335.4 396.6h0M336.6 396.6h0M337.7 396.5h0M338.9 396.4h0M340 396.7h0M341.2 396.5h0M342.3 396.6h0M343.5 396.6h0M344.6 396.6h0M345.8 396.4h0M329 337.8h0M293.5 343.4h0M280.5 349.8h0M329 353.4h0M345.7 355.6h0M306 355.6h0M322.1 356.7h0M285.5 358.3h0M278.6 359.4h0M305.2 359.4h0M345.7 361h0M296.4 363h0M303.8 363h0M317.5 362.4h0M277.8 364.3h0M330.6 363.8h0M298.3 365.1h0M319.7 365.1h0M310.1 366.5h0M278.6 369.3h0M291.5 369.3h0M301.1 369.3h0M312 368.4h0M340.2 369.3h0M314.7 371.2h0M295 372.5h0M303.8 373.1h0M325.7 372.5h0M332.5 373.1h0M342.1 373.9h0M298.3 375.3h0" stroke="#2bb9f0" stroke-width="3.65" stroke-linecap="round" fill="none"/></g><g><path d="M136.6 441.2V527H239.7" stroke="#828282" stroke-width="1.5" fill="none"/><g font-size="4.6" fill="#202020" stroke="#202020" stroke-width=".2" text-anchor="end"><text x="131.2" y="443.2">4.2</text><text x="131.2" y="455.4">4.1</text><text x="131.2" y="467.6">4</text><text x="131.2" y="479.8">3.9</text><text x="131.2" y="492">3.8</text><text x="131.2" y="504.2">3.7</text><text x="131.2" y="516.4">3.6</text><text x="131.2" y="528.7">3.5</text></g><g font-size="4.6" fill="#202020" stroke="#202020" stroke-width=".2" text-anchor="middle"><text x="137" y="535.4">4</text><text x="162.7" y="535.4">5</text><text x="188.3" y="535.4">6</text><text x="214" y="535.4">7</text><text x="239.7" y="535.4">8</text></g><text x="188.3" y="544.7" text-anchor="middle" fill="#2a2a2a" stroke="#1a1a1a" stroke-width="0.28" font-size="6.1">b</text><text transform="translate(121.3 484.2) rotate(-90)" text-anchor="middle" fill="#2a2a2a" stroke="#2a2a2a" stroke-width=".1" font-size="6" textLength="24.6" lengthAdjust="spacingAndGlyphs">Likelihood</text><path d="M190.8 500.1h0M228.8 508.7h0M169.4 513.4h0M149.1 511.8h0M190.3 514.7h0M194.4 507.7h0M180.9 510.3h0M201.1 512h0M186.6 511.6h0M144.1 498h0M191.2 514h0M158.6 511.3h0M203.8 509h0M192.1 505.7h0M204.2 507.1h0M173.9 507h0M168.1 508.7h0M138.1 505.6h0M160.5 514.6h0M204.5 502h0M210.6 504.5h0M137.7 509h0M167.6 501.2h0M152.5 513.9h0M238.9 503.9h0M148.1 506.8h0M165 498.5h0M183.5 506.2h0M154.9 508.8h0M205.6 504h0M137.7 509.2h0M236.9 501.7h0M233.1 508.1h0M222.6 505.9h0M195.5 489.5h0M210 493.7h0M197.5 513.5h0M166.3 499.3h0M187.2 500.9h0M145.4 502.5h0M167.8 512.3h0M229.9 506.2h0M188.7 505.3h0M185.4 514.5h0M230.9 508.3h0M196.7 498.1h0M141 514.7h0M156.2 511.3h0M164.5 508.5h0M223.7 512.9h0M201.2 514.6h0M231.2 511.1h0M223.4 502.9h0M160.6 514h0M222.5 497.2h0M201.8 502.1h0M180.3 514.3h0M145.6 493.9h0M183.7 512.7h0M213.3 504.1h0M200.2 508.1h0M173.4 512.1h0M176.1 514.2h0M186.4 510.4h0M145 506.1h0M227.5 511.4h0M203.4 503.4h0M180.4 505.8h0M222 509.6h0M142 512.9h0M157.9 514.6h0M234.1 506.3h0M172.9 511.9h0M190.8 511.7h0M190.4 504.6h0M214.1 510.6h0M199 496.4h0M184.8 494.4h0M207.3 514.5h0M186.8 510.7h0M191.5 504.6h0M231.8 513.3h0M177.1 506.6h0M165.7 514.3h0M226 511.5h0M190.7 512h0M225.4 502.8h0M138.7 508.5h0M216 496.3h0M155.3 497.7h0M212.9 512.4h0M218.6 506.3h0M187.8 507.3h0M208.9 507h0M139.4 508.6h0M145.6 505.9h0M195.8 507.6h0M196.8 499.2h0M153.5 513.8h0M199.7 509.2h0M208.6 506.1h0M215.8 507.6h0M226.3 509.7h0M150.4 507h0M222.2 504.8h0M230.1 513.8h0M218.4 510.8h0M220.5 505h0M214.1 513.2h0M198 513.2h0M207.1 506.8h0M193.8 506.5h0M236 506h0M173.7 511.3h0M209.6 508.1h0M190.8 513.3h0M178 499.6h0M215.7 499.3h0M187.2 502.7h0M190.1 509.3h0M234.6 511.3h0M217.3 508.1h0M152.9 501.3h0M204.9 513.9h0M142.7 507.2h0M217.4 511.9h0M172 509.9h0M207.3 513.7h0M141.1 503h0M176.8 507.3h0M177.5 510.5h0M147.7 497.7h0M163.9 498.7h0M173.4 510.4h0M187.9 509.2h0M200.9 510.3h0M235.7 507.6h0M150 509.7h0M214.2 497h0M192.9 496.8h0M144.2 508.4h0M220 514h0M214.9 503.4h0M191.6 506.8h0M227.9 507.2h0M152.9 503.2h0M227.5 512.5h0M200.6 501h0M186 502.1h0M203.8 497.8h0M231.7 511.2h0M179.2 507.9h0M220.1 505.4h0M191.7 497.2h0M182.6 509.8h0M196.4 514.6h0M191.7 505.7h0M146 511.3h0M228.7 511.5h0M186.9 507.2h0M198.3 495.2h0M222.9 500.7h0M195 493.3h0M172.9 509.3h0M210.1 512.7h0M207.9 509.9h0M189.4 509.3h0M196.7 506.7h0M237.4 510.8h0M238.6 513.5h0M188.3 502h0M170.5 510.6h0M141.9 513.5h0M207 508.5h0M138.3 513.6h0M166.4 512h0M176.2 509h0M170 508.8h0M138.3 508.4h0M158.1 505.8h0M226.9 508.6h0M231.2 495.1h0M207.9 509.8h0M167.2 508.8h0M219 503.2h0M169.2 508.5h0M198.9 513.4h0M194.8 504.1h0M147.5 503.7h0M226.6 505.3h0M158.9 513.9h0M191.5 497.3h0M192.4 494.2h0M200.9 501.4h0M217.9 513.8h0M198.3 502.8h0M222.7 506.7h0M221.8 512.3h0M194.6 513.9h0M193.2 505.7h0M196.2 502.6h0M198.9 495.4h0M184 514.3h0M165.2 510h0M155.1 514.4h0M165.7 506.1h0M235.2 498.2h0M188.9 507.7h0M164.9 503.7h0M151.5 511.5h0M209.3 506.4h0M204.9 508.7h0M193.8 500h0M147.8 495.3h0M215.7 510.8h0M192.4 504.8h0M208.7 503.4h0M211.1 508.6h0M140.3 503.9h0M156.6 511h0M160.3 508.6h0M140.9 508.9h0M202.9 499.3h0M147.2 507.6h0M147.3 514h0M195.9 501.6h0M235 510.5h0M142.5 512.2h0M142.5 491.5h0M226.8 509.9h0M156.1 506h0M218.5 507.9h0M229.5 513.9h0M221.2 511.6h0M147.4 492.9h0M141.5 498.5h0M170.1 505.8h0M146.7 508.5h0M234.9 514.2h0M197.3 505.1h0M238.6 510.1h0M225.5 502.4h0M147 495.2h0M153.3 501.5h0M236.1 509h0M190 505.2h0M216 503.5h0M202.2 503h0M186.4 512.3h0M150 512h0M155.6 508.9h0M232 508.1h0M235.6 511.9h0M168.5 495.2h0M164.9 500.2h0M190.4 511.2h0M183.1 510.7h0M198.8 497.7h0M184.9 511h0M224.4 513.7h0M195.4 501.4h0M196.8 498.7h0M144.1 513.4h0M222.2 510.3h0M216.8 499h0M191.8 506.8h0M137.7 505.5h0M235.6 510.5h0M203.7 508.1h0M177.1 507.8h0M191.9 512.6h0M147.1 514h0M158.3 511.2h0M149.2 488.9h0M214.4 509.9h0M198.7 502.2h0M215.7 506.1h0M194.3 499h0M194.8 499.2h0M149.6 508.7h0M218.1 496.7h0M221.9 506.1h0M137 503.3h0M212.9 504h0M199.8 508.6h0M225 504.9h0M144.6 506.8h0M226.2 509.2h0M214.8 504.2h0M176.2 512.2h0M225.4 496.6h0M232.9 511.9h0M139.1 505.4h0M145.5 505.9h0M194.4 511.9h0M143.3 495.2h0M236.2 504h0M152.3 506.7h0M228.6 499.6h0M227.7 513.9h0M140.2 506.4h0M154.5 497.9h0M216.6 500.2h0M140.7 514.3h0M159.5 490.8h0M144.7 511.1h0M192.1 490.9h0M155.8 499.6h0M201.4 492.9h0M142.3 502.2h0M232.9 511.3h0M206.3 510.4h0M198.2 511.2h0M159.9 507.2h0M222.8 506h0M161.2 512.4h0M199.2 505.8h0M190.7 511.1h0M199.7 507.2h0M142.7 491.2h0M202.5 514.3h0M142 502.3h0M222.7 504.7h0M191.4 510.9h0M173.8 506.4h0M191.5 507.2h0M196.1 497.8h0M213.1 510.1h0M220.2 487h0M168.3 510.8h0M143.2 498.7h0M233.4 509.4h0M227.1 504h0M156.8 514.5h0M174.7 511h0M168.2 494.7h0M181.7 500.3h0M147.9 510.2h0M229.8 511.8h0M164.4 495.4h0M207.8 498.1h0M144.5 503h0M152 501.1h0M163.3 511.6h0M155.4 504.9h0M221.5 510.8h0M196.2 505.2h0M153.6 509.3h0M150.5 501h0M154.2 492.1h0M204.9 510.5h0M228.8 505h0M177.5 495.1h0M148.2 492.6h0M195.3 501.9h0M165.6 499.1h0M143.7 514.4h0M209.4 490.3h0M236.4 509h0M197.2 493.2h0M227.2 498.5h0M183.8 513.9h0M185.9 511.3h0M144.2 510.4h0M157.2 514.6h0M158.7 508.7h0M193 502.1h0M231.9 505h0M218.2 507.2h0M227.7 514.2h0M164 513.4h0M172.1 508.6h0M235.8 512h0M225.9 511.6h0M141.5 503h0M206.2 514h0M154 496h0M220.8 507.6h0M171 514.5h0M204.2 506.3h0M186.4 511.4h0M178 510.6h0M176.8 491h0M193.7 502h0M176.9 514.7h0M201.1 495.3h0M199.4 495.7h0M156.2 511.8h0M140.1 502.4h0M148.2 504h0M146.1 507h0M196.2 506.8h0M142.6 503.6h0M188.8 503.5h0M193 502.6h0M207.9 513.8h0M225.9 507.3h0M203.3 488.4h0M160.5 505.9h0M195.4 503.6h0M169.9 514.5h0M212.7 493.5h0M139.3 499.4h0M197.4 501.7h0M166.4 508.7h0M156.9 505.5h0M147.1 494.8h0M234.2 501.8h0M159.7 508.5h0M165.9 499.8h0M163.5 514.8h0M172.5 511h0M172.9 511.4h0M140.9 497.8h0M222.6 504.1h0M221.5 502.5h0M172.3 506.3h0M197.9 489.1h0M167.9 513h0M228.8 504h0M175.2 505.3h0M190 492h0M196.3 503.8h0M203.3 510.3h0M140.4 504.4h0M148.1 501.5h0M210.7 507.5h0M141 507.1h0M231.5 508.1h0M145.2 497h0M216.8 513.3h0M185.6 494.2h0M155.6 512.8h0M175.5 506.1h0M139.6 513.3h0M189.5 507.6h0M153.5 502.3h0M189.2 500h0M193.8 494h0M175.5 504.3h0M216.8 514.6h0M164.3 509.1h0M192.4 506.2h0M182.5 503.7h0M145.8 510.2h0M156.8 505.7h0M180.1 512.1h0M234.4 514.8h0M196.3 489.8h0M187.5 496.9h0M167.7 509.4h0M220.6 494.4h0M202.9 510.3h0M142.3 501.5h0M229.8 505.8h0M178.3 507.8h0M222 510.7h0M223.4 511h0M210.6 513h0M190.4 504.1h0M219 514.3h0M189.8 512.3h0M210.4 505h0M165.9 504h0M217.6 501.8h0M219.3 513.2h0M151.4 513.1h0M225 510.6h0M193.9 502.1h0M169.2 510.7h0M220.3 507.8h0M195.9 510.2h0M142.4 511.4h0M223.3 509.4h0M194.5 495.4h0M215.2 513.5h0M172.9 504.5h0M168.7 497.6h0M169.7 506.9h0M152.5 514.1h0M200.7 507.3h0M138.2 511.9h0M198.6 504h0M238.3 508.3h0M230.5 504.9h0M141.5 501.2h0M239 500.5h0M198.3 496h0M165.7 503.4h0M146.6 500.7h0M149.7 499.1h0M227.2 512h0M189.7 511.3h0M237.1 510.3h0M234.5 512.9h0M203.9 506.8h0M219.8 504.3h0M192.2 501.6h0M222.4 514h0M187 512.6h0M200.8 513.7h0M205.8 512.3h0M196.1 500.4h0M214.6 506.5h0M201.9 495.1h0M188.2 506.5h0M234.5 507h0M151.7 496.4h0M141.5 498.9h0M180.6 513h0M224.7 495.4h0M156.3 510.5h0M163.5 499.7h0M162.7 514.3h0M174.7 508.1h0M169.2 511.1h0M215.4 512.3h0M155.3 512.4h0M216.2 508.5h0M169 511.5h0M181.4 512.2h0M214.6 509.7h0M229.4 511.2h0M151.9 514h0M220.2 494h0M222.9 505.6h0M174.2 506.5h0M233.8 513.6h0M233.4 514.7h0M195.6 498.6h0M139.1 514h0M144.1 512.4h0M163.9 513.2h0M189.5 512.4h0M207.7 509.6h0M222 498h0M180.2 511.1h0M174.1 509.1h0M143.4 485.3h0M189.4 504.6h0M165.8 510.2h0M174.2 485.4h0M200.2 500.8h0M180.9 493.7h0M151.9 493h0M169.7 511.1h0M156.8 512.9h0M178.3 513.5h0M189.1 499.1h0M153.8 504.9h0M141.7 486.9h0M223.1 499.3h0M228.3 509.9h0M143.1 504.5h0M191.6 486.6h0M171.3 507.4h0M225.4 504.3h0M232.6 512.4h0M183.9 509.6h0M157.1 509.1h0M208.5 506.8h0M223.4 509.7h0M173.4 514.7h0M180.6 496.2h0M154.7 514.5h0M148.1 504.4h0M150.3 503.7h0M209.6 514.3h0M172.1 509.5h0M172.1 494.8h0M157 508h0M216.9 507.4h0M175.2 511.1h0M169.2 503.1h0M188.4 496.4h0M215.4 512.9h0M195.4 498.7h0M195.7 503.3h0M145.9 512.6h0M167.8 502.6h0M171.2 513.9h0M156.3 487.1h0M207.2 508.4h0M216.4 514.5h0M142.8 511.7h0M201.3 504.2h0M219.3 512.9h0M144.6 511.8h0M179.7 500.2h0M138.1 509.1h0M166.5 503.6h0M214.7 491.1h0M184.3 496.5h0M205.2 509.3h0M218 500.6h0M144.6 508.2h0M212.1 514.3h0M147.9 504.5h0M188.1 512.4h0M137.6 513.2h0M204 500.3h0M228.1 510.2h0M196.4 512.5h0M225.9 506.9h0M177.8 513h0M183.4 513.7h0M216.4 511h0M186.4 504.9h0M175.3 513.9h0M138.1 507.2h0M176.6 502.8h0M220.3 494.2h0M222.2 504.5h0M183.9 511.4h0M214.5 508.4h0M168.1 505.8h0M207.3 486.2h0M237.4 511.3h0M137.6 495.3h0M193.1 491.3h0M198.8 497.8h0M220.3 512.4h0M217 496.1h0M203.9 497.5h0M155.3 514.2h0M140.2 512.4h0M225.8 505.2h0M227.5 511.1h0M189.1 499.6h0M215.7 504.4h0M216.2 507.4h0M202.2 505.3h0M170.5 505.7h0M137.2 504.7h0M150.6 496.1h0M238.8 513.4h0M234 505.9h0M211.9 514.6h0M150.1 504.4h0M235.4 508.6h0M222.1 512h0M233.3 497.5h0M187.7 508.6h0M215.1 510.1h0M222.4 504.4h0M153.6 510h0M146.5 510h0M177.9 513.4h0M219.1 509.7h0M141.5 511.9h0M152.3 513.9h0M169.6 511.5h0M216.9 503.4h0M208.5 514h0M197.5 497.2h0M142.8 511.5h0M175.6 513.1h0M160.7 508.3h0M142.4 510.5h0M169.4 513.2h0M195.8 497.4h0M211.6 513.3h0M186.9 507.2h0M171.4 511.4h0M175.9 506.3h0M225.7 505.5h0M144.4 498.7h0M186.1 511h0M227.4 505h0M202.6 509.4h0M199.8 511.9h0M173.4 513.4h0M168.4 512.3h0M156.3 508.5h0M224.5 509.8h0M168.6 505h0M137.1 513h0M201.8 497.7h0M189.9 500.3h0M213.3 513.4h0M206.2 510.5h0M159 510.9h0M193.3 501.5h0M199.5 512.6h0M189.2 499.5h0M189.2 507.6h0M199.7 513h0M231.1 505.1h0M207.1 503.4h0M202.2 513.7h0M209 508.8h0M194.8 491.4h0M164.1 504.3h0M176.6 504.1h0M211.1 511.9h0M149.2 511.1h0M165.6 514.4h0M185.3 508.2h0M229.4 512.6h0M203.4 489.6h0M224.3 512.2h0M152.4 502.6h0M168.7 508.3h0M201.7 497.9h0M193.4 509.4h0M226.2 512.5h0M162.8 512.3h0M161.3 507.9h0M139 504.3h0M150.6 509.6h0M197.3 511.5h0M228.4 509.8h0M237.5 492.3h0M161.7 513h0M198.3 502.6h0M229.9 513.3h0M143.8 514h0M204.2 504.6h0M175.4 511.4h0M143.6 503.9h0M238.1 506.7h0M196.1 511.2h0M187.7 505.6h0M238 490.1h0M236.5 507.9h0M150 505.6h0M146.3 490.5h0M206.7 508.9h0M177.9 512.5h0M224.9 511.5h0M142.2 497.1h0M183.9 508.1h0M155.5 513.7h0M176.2 509.9h0M145 498h0M139.6 504.4h0M212.8 513.2h0M145 512.6h0M146.3 503h0M217.1 512.2h0M137 515.6h0M138.2 515.6h0M139.3 515.5h0M140.5 515.5h0M141.6 515.7h0M142.8 515.9h0M143.9 515.5h0M145.1 515.8h0M146.2 515.6h0M147.4 515.5h0M148.5 515.6h0M149.7 515.6h0M150.8 515.9h0M152 515.6h0M153.1 515.7h0M154.3 515.8h0M155.4 515.5h0M156.6 515.7h0M157.7 515.8h0M158.9 515.6h0M160 515.6h0M161.2 515.9h0M162.3 515.6h0M163.5 515.9h0M164.6 515.6h0M165.8 515.7h0M166.9 515.6h0M168.1 515.7h0M169.2 515.7h0M170.4 515.9h0M171.5 515.7h0M172.7 515.8h0M173.8 515.8h0M175 515.6h0M176.1 515.7h0M177.3 515.7h0M178.4 515.8h0M179.6 515.8h0M180.7 515.9h0M181.9 515.9h0M183 515.8h0M184.2 515.8h0M185.3 515.9h0M186.5 515.7h0M187.6 515.6h0M188.8 515.8h0M189.9 515.6h0M191.1 515.8h0M192.2 515.7h0M193.4 515.6h0M194.5 515.8h0M195.7 515.9h0M196.8 515.8h0M198 515.8h0M199.1 515.8h0M200.3 515.9h0M201.4 515.8h0M202.6 515.7h0M203.7 515.7h0M204.9 515.9h0M206 515.9h0M207.2 515.5h0M208.3 515.7h0M209.5 515.7h0M210.6 515.7h0M211.8 515.6h0M212.9 515.6h0M214.1 515.6h0M215.2 515.6h0M216.4 515.8h0M217.5 515.6h0M218.7 515.6h0M219.8 515.8h0M221 515.6h0M222.1 515.8h0M223.3 515.6h0M224.4 515.7h0M225.6 515.9h0M226.7 515.7h0M227.9 515.7h0M229 515.8h0M230.2 515.7h0M231.3 515.9h0M232.5 515.7h0M233.6 515.9h0M234.8 515.7h0M235.9 515.9h0M237.1 515.8h0M238.2 515.8h0M186.2 449.9h0M186.2 456.1h0M150.8 464h0M186.2 467.7h0M194 469.9h0M210.3 470.2h0M218.1 472.4h0M211.2 474.9h0M155.5 477.1h0M185.6 477.1h0M165.2 478.7h0M171.5 479.6h0M219 479.6h0M234.1 478.7h0M197.1 479.6h0M201.2 480.2h0M211.2 481.8h0M204.9 482.7h0M236.3 484.9h0M150.2 484.9h0M165.2 484.3h0M194 484.3h0M200.3 484.9h0M174.3 487.4h0M167.4 488.1h0M147.1 488.1h0M189.3 488.1h0M205.6 488.1h0M225.3 488.1h0M217.5 490.6h0M153.3 491.2h0M231.6 491.2h0M209.7 492.8h0M222.2 491.8h0" stroke="#2bb9f0" stroke-width="3.65" stroke-linecap="round" fill="none"/></g></svg></body></html>
